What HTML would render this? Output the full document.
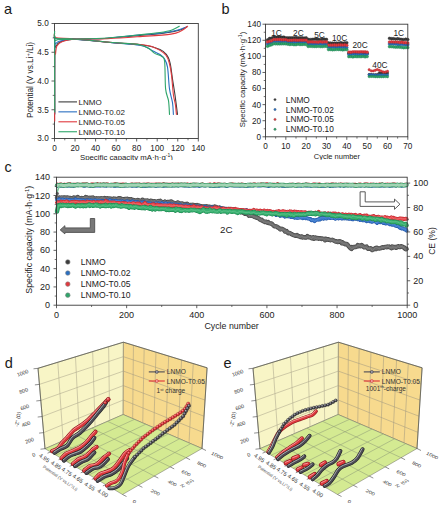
<!DOCTYPE html><html><head><meta charset="utf-8"><style>
html,body{margin:0;padding:0;background:#fff;width:443px;height:509px;overflow:hidden}
svg text{font-family:"Liberation Sans", sans-serif}
</style></head><body>
<svg width="443" height="509" viewBox="0 0 443 509" style="position:absolute;left:0;top:0;font-family:'Liberation Sans', sans-serif"><defs><radialGradient id="gR" cx="0.35" cy="0.35" r="0.7"><stop offset="0" stop-color="#ff9a9a"/><stop offset="0.5" stop-color="#e0383d"/><stop offset="1" stop-color="#a01e22"/></radialGradient><radialGradient id="gK" cx="0.35" cy="0.35" r="0.7"><stop offset="0" stop-color="#b8b8c0"/><stop offset="0.5" stop-color="#55555e"/><stop offset="1" stop-color="#2a2a30"/></radialGradient><clipPath id="clipTop"><rect x="0" y="0" width="443" height="160"/></clipPath></defs><text x="4.00" y="13.60" font-size="14.5" text-anchor="start" fill="#1a1a1a" >a</text><rect x="54.5" y="23.5" width="143.8" height="115.0" fill="none" stroke="#3a3a3a" stroke-width="0.9"/><path d="M54.70,36.00 C54.83,36.37 52.95,37.70 55.50,38.20 C58.05,38.70 64.25,38.63 70.00,39.00 C75.75,39.37 83.28,39.82 90.00,40.40 C96.72,40.98 103.52,41.92 110.30,42.50 C117.08,43.08 125.62,43.52 130.70,43.90 C135.78,44.28 137.08,44.28 140.80,44.80 C144.52,45.32 149.27,45.90 153.00,47.00 C156.73,48.10 160.65,49.65 163.20,51.40 C165.75,53.15 167.08,55.23 168.30,57.50 C169.52,59.77 169.80,61.42 170.50,65.00 C171.20,68.58 171.75,74.00 172.50,79.00 C173.25,84.00 174.17,89.10 175.00,95.00 C175.83,100.90 177.08,111.17 177.50,114.40" stroke="#3c3c3c" stroke-width="1.1" fill="none" stroke-linejoin="round" stroke-linecap="round" /><path d="M54.70,36.00 C54.83,36.42 52.95,38.00 55.50,38.50 C58.05,39.00 64.25,38.68 70.00,39.00 C75.75,39.32 83.28,39.82 90.00,40.40 C96.72,40.98 103.52,41.87 110.30,42.50 C117.08,43.13 125.62,43.70 130.70,44.20 C135.78,44.70 138.08,44.97 140.80,45.50 C143.52,46.03 144.97,46.48 147.00,47.40 C149.03,48.32 150.83,49.82 153.00,51.00 C155.17,52.18 158.13,53.25 160.00,54.50 C161.87,55.75 162.95,56.38 164.20,58.50 C165.45,60.62 166.62,62.13 167.50,67.20 C168.38,72.27 168.67,83.00 169.50,88.90 C170.33,94.80 171.85,98.35 172.50,102.60 C173.15,106.85 173.25,112.43 173.40,114.40" stroke="#2a6fc0" stroke-width="1.1" fill="none" stroke-linejoin="round" stroke-linecap="round" /><path d="M54.70,33.00 C54.83,33.75 52.95,36.58 55.50,37.50 C58.05,38.42 64.25,38.05 70.00,38.50 C75.75,38.95 83.28,39.57 90.00,40.20 C96.72,40.83 103.52,41.72 110.30,42.30 C117.08,42.88 125.62,43.32 130.70,43.70 C135.78,44.08 137.42,44.17 140.80,44.60 C144.18,45.03 147.80,45.33 151.00,46.30 C154.20,47.27 157.47,48.87 160.00,50.40 C162.53,51.93 164.65,53.40 166.20,55.50 C167.75,57.60 168.42,59.73 169.30,63.00 C170.18,66.27 170.82,69.80 171.50,75.10 C172.18,80.40 172.75,89.88 173.40,94.80 C174.05,99.72 174.90,101.33 175.40,104.60 C175.90,107.87 176.23,112.77 176.40,114.40" stroke="#e0393e" stroke-width="1.1" fill="none" stroke-linejoin="round" stroke-linecap="round" /><path d="M54.70,31.40 C54.83,32.53 52.95,36.97 55.50,38.20 C58.05,39.43 64.25,38.47 70.00,38.80 C75.75,39.13 83.28,39.62 90.00,40.20 C96.72,40.78 103.52,41.72 110.30,42.30 C117.08,42.88 125.62,43.25 130.70,43.70 C135.78,44.15 137.77,44.20 140.80,45.00 C143.83,45.80 146.57,47.10 148.90,48.50 C151.23,49.90 152.68,52.08 154.80,53.40 C156.92,54.72 159.97,55.08 161.60,56.40 C163.23,57.72 163.93,55.88 164.60,61.30 C165.27,66.72 164.95,82.33 165.60,88.90 C166.25,95.47 167.85,96.45 168.50,100.70 C169.15,104.95 169.33,112.12 169.50,114.40" stroke="#2ea56a" stroke-width="1.1" fill="none" stroke-linejoin="round" stroke-linecap="round" /><path d="M54.70,114.00 C54.70,103.17 54.57,60.13 54.70,49.00 C54.83,37.87 54.62,48.37 55.50,47.20 C56.38,46.03 56.93,43.32 60.00,42.00 C63.07,40.68 65.95,39.93 73.90,39.30 C81.85,38.67 96.68,38.83 107.70,38.20 C118.72,37.57 130.45,36.37 140.00,35.50 C149.55,34.63 158.33,33.92 165.00,33.00 C171.67,32.08 176.37,31.02 180.00,30.00 C183.63,28.98 185.67,27.42 186.80,26.90" stroke="#3c3c3c" stroke-width="1.1" fill="none" stroke-linejoin="round" stroke-linecap="round" /><path d="M54.70,114.00 C54.70,102.67 54.57,57.68 54.70,46.00 C54.83,34.32 54.62,44.73 55.50,43.90 C56.38,43.07 56.93,41.77 60.00,41.00 C63.07,40.23 65.95,39.77 73.90,39.30 C81.85,38.83 96.68,38.95 107.70,38.20 C118.72,37.45 130.95,35.67 140.00,34.80 C149.05,33.93 155.67,33.80 162.00,33.00 C168.33,32.20 173.97,31.02 178.00,30.00 C182.03,28.98 184.83,27.42 186.20,26.90" stroke="#2a6fc0" stroke-width="1.1" fill="none" stroke-linejoin="round" stroke-linecap="round" /><path d="M54.70,121.00 C54.70,110.17 54.57,67.17 54.70,56.00 C54.83,44.83 55.13,55.65 55.50,54.00 C55.87,52.35 55.72,48.17 56.90,46.10 C58.08,44.03 59.77,42.73 62.60,41.60 C65.43,40.47 66.38,39.80 73.90,39.30 C81.42,38.80 96.68,39.05 107.70,38.60 C118.72,38.15 129.45,37.35 140.00,36.60 C150.55,35.85 164.17,35.03 171.00,34.10 C177.83,33.17 178.23,32.30 181.00,31.00 C183.77,29.70 186.50,27.08 187.60,26.30" stroke="#e0393e" stroke-width="1.1" fill="none" stroke-linejoin="round" stroke-linecap="round" /><path d="M54.70,112.00 C54.70,100.33 54.57,53.92 54.70,42.00 C54.83,30.08 54.62,40.92 55.50,40.50 C56.38,40.08 56.93,39.70 60.00,39.50 C63.07,39.30 65.95,39.55 73.90,39.30 C81.85,39.05 96.68,38.75 107.70,38.00 C118.72,37.25 131.28,35.72 140.00,34.80 C148.72,33.88 154.67,33.30 160.00,32.50 C165.33,31.70 168.78,31.03 172.00,30.00 C175.22,28.97 178.08,26.92 179.30,26.30" stroke="#2ea56a" stroke-width="1.1" fill="none" stroke-linejoin="round" stroke-linecap="round" /><line x1="51.50" y1="138.50" x2="54.50" y2="138.50" stroke="#3a3a3a" stroke-width="0.8"/><text x="48.70" y="141.40" font-size="8.2" text-anchor="end" fill="#222" >3.0</text><line x1="51.50" y1="109.75" x2="54.50" y2="109.75" stroke="#3a3a3a" stroke-width="0.8"/><text x="48.70" y="112.65" font-size="8.2" text-anchor="end" fill="#222" >3.5</text><line x1="51.50" y1="81.00" x2="54.50" y2="81.00" stroke="#3a3a3a" stroke-width="0.8"/><text x="48.70" y="83.90" font-size="8.2" text-anchor="end" fill="#222" >4.0</text><line x1="51.50" y1="52.25" x2="54.50" y2="52.25" stroke="#3a3a3a" stroke-width="0.8"/><text x="48.70" y="55.15" font-size="8.2" text-anchor="end" fill="#222" >4.5</text><line x1="51.50" y1="23.50" x2="54.50" y2="23.50" stroke="#3a3a3a" stroke-width="0.8"/><text x="48.70" y="26.40" font-size="8.2" text-anchor="end" fill="#222" >5.0</text><line x1="52.70" y1="124.12" x2="54.50" y2="124.12" stroke="#3a3a3a" stroke-width="0.7"/><line x1="52.70" y1="95.38" x2="54.50" y2="95.38" stroke="#3a3a3a" stroke-width="0.7"/><line x1="52.70" y1="66.62" x2="54.50" y2="66.62" stroke="#3a3a3a" stroke-width="0.7"/><line x1="52.70" y1="37.88" x2="54.50" y2="37.88" stroke="#3a3a3a" stroke-width="0.7"/><line x1="54.50" y1="138.50" x2="54.50" y2="141.50" stroke="#3a3a3a" stroke-width="0.8"/><text x="54.50" y="150.50" font-size="8.2" text-anchor="middle" fill="#222" >0</text><line x1="75.04" y1="138.50" x2="75.04" y2="141.50" stroke="#3a3a3a" stroke-width="0.8"/><text x="75.04" y="150.50" font-size="8.2" text-anchor="middle" fill="#222" >20</text><line x1="95.59" y1="138.50" x2="95.59" y2="141.50" stroke="#3a3a3a" stroke-width="0.8"/><text x="95.59" y="150.50" font-size="8.2" text-anchor="middle" fill="#222" >40</text><line x1="116.13" y1="138.50" x2="116.13" y2="141.50" stroke="#3a3a3a" stroke-width="0.8"/><text x="116.13" y="150.50" font-size="8.2" text-anchor="middle" fill="#222" >60</text><line x1="136.67" y1="138.50" x2="136.67" y2="141.50" stroke="#3a3a3a" stroke-width="0.8"/><text x="136.67" y="150.50" font-size="8.2" text-anchor="middle" fill="#222" >80</text><line x1="157.21" y1="138.50" x2="157.21" y2="141.50" stroke="#3a3a3a" stroke-width="0.8"/><text x="157.21" y="150.50" font-size="8.2" text-anchor="middle" fill="#222" >100</text><line x1="177.76" y1="138.50" x2="177.76" y2="141.50" stroke="#3a3a3a" stroke-width="0.8"/><text x="177.76" y="150.50" font-size="8.2" text-anchor="middle" fill="#222" >120</text><line x1="198.30" y1="138.50" x2="198.30" y2="141.50" stroke="#3a3a3a" stroke-width="0.8"/><text x="198.30" y="150.50" font-size="8.2" text-anchor="middle" fill="#222" >140</text><line x1="64.77" y1="138.50" x2="64.77" y2="140.30" stroke="#3a3a3a" stroke-width="0.7"/><line x1="85.31" y1="138.50" x2="85.31" y2="140.30" stroke="#3a3a3a" stroke-width="0.7"/><line x1="105.86" y1="138.50" x2="105.86" y2="140.30" stroke="#3a3a3a" stroke-width="0.7"/><line x1="126.40" y1="138.50" x2="126.40" y2="140.30" stroke="#3a3a3a" stroke-width="0.7"/><line x1="146.94" y1="138.50" x2="146.94" y2="140.30" stroke="#3a3a3a" stroke-width="0.7"/><line x1="167.49" y1="138.50" x2="167.49" y2="140.30" stroke="#3a3a3a" stroke-width="0.7"/><line x1="188.03" y1="138.50" x2="188.03" y2="140.30" stroke="#3a3a3a" stroke-width="0.7"/><text x="80.00" y="159.80" font-size="7.8" text-anchor="start" fill="#222" clip-path="url(#clipTop)">Specific capacity mA·h·g<tspan font-size="5" dy="-2.8">-1</tspan><tspan dy="2.8">)</tspan></text><text transform="translate(33,80) rotate(-90)" font-size="8.2" text-anchor="middle" fill="#222">Potential (V vs.Li<tspan font-size="5.5" dy="-3">+</tspan><tspan dy="3">/Li)</tspan></text><line x1="58.40" y1="101.90" x2="77.00" y2="101.90" stroke="#3c3c3c" stroke-width="1.1"/><text x="78.60" y="104.80" font-size="8.0" text-anchor="start" fill="#222" >LNMO</text><line x1="58.40" y1="111.85" x2="77.00" y2="111.85" stroke="#2a6fc0" stroke-width="1.1"/><text x="78.60" y="114.75" font-size="8.0" text-anchor="start" fill="#222" >LNMO-T0.02</text><line x1="58.40" y1="121.80" x2="77.00" y2="121.80" stroke="#e0393e" stroke-width="1.1"/><text x="78.60" y="124.70" font-size="8.0" text-anchor="start" fill="#222" >LNMO-T0.05</text><line x1="58.40" y1="131.75" x2="77.00" y2="131.75" stroke="#2ea56a" stroke-width="1.1"/><text x="78.60" y="134.65" font-size="8.0" text-anchor="start" fill="#222" >LNMO-T0.10</text><text x="221.50" y="14.00" font-size="14.5" text-anchor="start" fill="#1a1a1a" >b</text><circle cx="267.53" cy="40.01" r="1.4" fill="#3c3c3c" stroke="#222" stroke-width="0.4"/><circle cx="269.57" cy="38.52" r="1.4" fill="#3c3c3c" stroke="#222" stroke-width="0.4"/><circle cx="271.60" cy="38.16" r="1.4" fill="#3c3c3c" stroke="#222" stroke-width="0.4"/><circle cx="273.63" cy="37.21" r="1.4" fill="#3c3c3c" stroke="#222" stroke-width="0.4"/><circle cx="275.66" cy="37.23" r="1.4" fill="#3c3c3c" stroke="#222" stroke-width="0.4"/><circle cx="277.70" cy="37.27" r="1.4" fill="#3c3c3c" stroke="#222" stroke-width="0.4"/><circle cx="279.73" cy="37.00" r="1.4" fill="#3c3c3c" stroke="#222" stroke-width="0.4"/><circle cx="281.76" cy="37.27" r="1.4" fill="#3c3c3c" stroke="#222" stroke-width="0.4"/><circle cx="283.80" cy="37.17" r="1.4" fill="#3c3c3c" stroke="#222" stroke-width="0.4"/><circle cx="285.83" cy="37.80" r="1.4" fill="#3c3c3c" stroke="#222" stroke-width="0.4"/><circle cx="287.86" cy="37.93" r="1.4" fill="#3c3c3c" stroke="#222" stroke-width="0.4"/><circle cx="289.89" cy="37.85" r="1.4" fill="#3c3c3c" stroke="#222" stroke-width="0.4"/><circle cx="291.93" cy="37.86" r="1.4" fill="#3c3c3c" stroke="#222" stroke-width="0.4"/><circle cx="293.96" cy="37.80" r="1.4" fill="#3c3c3c" stroke="#222" stroke-width="0.4"/><circle cx="295.99" cy="37.74" r="1.4" fill="#3c3c3c" stroke="#222" stroke-width="0.4"/><circle cx="298.03" cy="37.84" r="1.4" fill="#3c3c3c" stroke="#222" stroke-width="0.4"/><circle cx="300.06" cy="37.97" r="1.4" fill="#3c3c3c" stroke="#222" stroke-width="0.4"/><circle cx="302.09" cy="37.86" r="1.4" fill="#3c3c3c" stroke="#222" stroke-width="0.4"/><circle cx="304.12" cy="38.04" r="1.4" fill="#3c3c3c" stroke="#222" stroke-width="0.4"/><circle cx="306.16" cy="37.87" r="1.4" fill="#3c3c3c" stroke="#222" stroke-width="0.4"/><circle cx="308.19" cy="39.30" r="1.4" fill="#3c3c3c" stroke="#222" stroke-width="0.4"/><circle cx="310.22" cy="39.53" r="1.4" fill="#3c3c3c" stroke="#222" stroke-width="0.4"/><circle cx="312.26" cy="39.38" r="1.4" fill="#3c3c3c" stroke="#222" stroke-width="0.4"/><circle cx="314.29" cy="39.22" r="1.4" fill="#3c3c3c" stroke="#222" stroke-width="0.4"/><circle cx="316.32" cy="39.27" r="1.4" fill="#3c3c3c" stroke="#222" stroke-width="0.4"/><circle cx="318.35" cy="39.38" r="1.4" fill="#3c3c3c" stroke="#222" stroke-width="0.4"/><circle cx="320.39" cy="39.59" r="1.4" fill="#3c3c3c" stroke="#222" stroke-width="0.4"/><circle cx="322.42" cy="39.26" r="1.4" fill="#3c3c3c" stroke="#222" stroke-width="0.4"/><circle cx="324.45" cy="39.26" r="1.4" fill="#3c3c3c" stroke="#222" stroke-width="0.4"/><circle cx="326.49" cy="39.45" r="1.4" fill="#3c3c3c" stroke="#222" stroke-width="0.4"/><circle cx="328.52" cy="42.97" r="1.4" fill="#3c3c3c" stroke="#222" stroke-width="0.4"/><circle cx="330.55" cy="43.06" r="1.4" fill="#3c3c3c" stroke="#222" stroke-width="0.4"/><circle cx="332.58" cy="43.23" r="1.4" fill="#3c3c3c" stroke="#222" stroke-width="0.4"/><circle cx="334.62" cy="43.19" r="1.4" fill="#3c3c3c" stroke="#222" stroke-width="0.4"/><circle cx="336.65" cy="43.11" r="1.4" fill="#3c3c3c" stroke="#222" stroke-width="0.4"/><circle cx="338.68" cy="43.20" r="1.4" fill="#3c3c3c" stroke="#222" stroke-width="0.4"/><circle cx="340.72" cy="42.68" r="1.4" fill="#3c3c3c" stroke="#222" stroke-width="0.4"/><circle cx="342.75" cy="43.25" r="1.4" fill="#3c3c3c" stroke="#222" stroke-width="0.4"/><circle cx="344.78" cy="42.96" r="1.4" fill="#3c3c3c" stroke="#222" stroke-width="0.4"/><circle cx="346.81" cy="42.85" r="1.4" fill="#3c3c3c" stroke="#222" stroke-width="0.4"/><circle cx="348.85" cy="53.24" r="1.4" fill="#3c3c3c" stroke="#222" stroke-width="0.4"/><circle cx="350.88" cy="53.31" r="1.4" fill="#3c3c3c" stroke="#222" stroke-width="0.4"/><circle cx="352.91" cy="53.13" r="1.4" fill="#3c3c3c" stroke="#222" stroke-width="0.4"/><circle cx="354.95" cy="53.04" r="1.4" fill="#3c3c3c" stroke="#222" stroke-width="0.4"/><circle cx="356.98" cy="53.20" r="1.4" fill="#3c3c3c" stroke="#222" stroke-width="0.4"/><circle cx="359.01" cy="53.19" r="1.4" fill="#3c3c3c" stroke="#222" stroke-width="0.4"/><circle cx="361.04" cy="53.41" r="1.4" fill="#3c3c3c" stroke="#222" stroke-width="0.4"/><circle cx="363.08" cy="53.31" r="1.4" fill="#3c3c3c" stroke="#222" stroke-width="0.4"/><circle cx="365.11" cy="53.23" r="1.4" fill="#3c3c3c" stroke="#222" stroke-width="0.4"/><circle cx="367.14" cy="53.37" r="1.4" fill="#3c3c3c" stroke="#222" stroke-width="0.4"/><circle cx="369.18" cy="74.57" r="1.2" fill="#3c3c3c" stroke="#222" stroke-width="0.4"/><circle cx="371.21" cy="74.46" r="1.2" fill="#3c3c3c" stroke="#222" stroke-width="0.4"/><circle cx="373.24" cy="74.69" r="1.2" fill="#3c3c3c" stroke="#222" stroke-width="0.4"/><circle cx="375.27" cy="74.69" r="1.2" fill="#3c3c3c" stroke="#222" stroke-width="0.4"/><circle cx="377.31" cy="74.57" r="1.2" fill="#3c3c3c" stroke="#222" stroke-width="0.4"/><circle cx="379.34" cy="72.88" r="1.2" fill="#3c3c3c" stroke="#222" stroke-width="0.4"/><circle cx="381.37" cy="73.03" r="1.2" fill="#3c3c3c" stroke="#222" stroke-width="0.4"/><circle cx="383.41" cy="72.63" r="1.2" fill="#3c3c3c" stroke="#222" stroke-width="0.4"/><circle cx="385.44" cy="73.10" r="1.2" fill="#3c3c3c" stroke="#222" stroke-width="0.4"/><circle cx="387.47" cy="73.07" r="1.2" fill="#3c3c3c" stroke="#222" stroke-width="0.4"/><circle cx="389.50" cy="38.35" r="1.4" fill="#3c3c3c" stroke="#222" stroke-width="0.4"/><circle cx="391.54" cy="38.73" r="1.4" fill="#3c3c3c" stroke="#222" stroke-width="0.4"/><circle cx="393.57" cy="38.70" r="1.4" fill="#3c3c3c" stroke="#222" stroke-width="0.4"/><circle cx="395.60" cy="39.07" r="1.4" fill="#3c3c3c" stroke="#222" stroke-width="0.4"/><circle cx="397.64" cy="38.77" r="1.4" fill="#3c3c3c" stroke="#222" stroke-width="0.4"/><circle cx="399.67" cy="39.06" r="1.4" fill="#3c3c3c" stroke="#222" stroke-width="0.4"/><circle cx="401.70" cy="39.43" r="1.4" fill="#3c3c3c" stroke="#222" stroke-width="0.4"/><circle cx="403.73" cy="39.61" r="1.4" fill="#3c3c3c" stroke="#222" stroke-width="0.4"/><circle cx="405.77" cy="39.24" r="1.4" fill="#3c3c3c" stroke="#222" stroke-width="0.4"/><circle cx="407.80" cy="39.61" r="1.4" fill="#3c3c3c" stroke="#222" stroke-width="0.4"/><circle cx="267.53" cy="43.95" r="1.4" fill="#2a6fc0" stroke="#1d4f8f" stroke-width="0.4"/><circle cx="269.57" cy="43.01" r="1.4" fill="#2a6fc0" stroke="#1d4f8f" stroke-width="0.4"/><circle cx="271.60" cy="42.54" r="1.4" fill="#2a6fc0" stroke="#1d4f8f" stroke-width="0.4"/><circle cx="273.63" cy="41.32" r="1.4" fill="#2a6fc0" stroke="#1d4f8f" stroke-width="0.4"/><circle cx="275.66" cy="41.55" r="1.4" fill="#2a6fc0" stroke="#1d4f8f" stroke-width="0.4"/><circle cx="277.70" cy="41.34" r="1.4" fill="#2a6fc0" stroke="#1d4f8f" stroke-width="0.4"/><circle cx="279.73" cy="41.71" r="1.4" fill="#2a6fc0" stroke="#1d4f8f" stroke-width="0.4"/><circle cx="281.76" cy="41.50" r="1.4" fill="#2a6fc0" stroke="#1d4f8f" stroke-width="0.4"/><circle cx="283.80" cy="41.44" r="1.4" fill="#2a6fc0" stroke="#1d4f8f" stroke-width="0.4"/><circle cx="285.83" cy="41.24" r="1.4" fill="#2a6fc0" stroke="#1d4f8f" stroke-width="0.4"/><circle cx="287.86" cy="42.35" r="1.4" fill="#2a6fc0" stroke="#1d4f8f" stroke-width="0.4"/><circle cx="289.89" cy="42.21" r="1.4" fill="#2a6fc0" stroke="#1d4f8f" stroke-width="0.4"/><circle cx="291.93" cy="42.21" r="1.4" fill="#2a6fc0" stroke="#1d4f8f" stroke-width="0.4"/><circle cx="293.96" cy="42.27" r="1.4" fill="#2a6fc0" stroke="#1d4f8f" stroke-width="0.4"/><circle cx="295.99" cy="42.15" r="1.4" fill="#2a6fc0" stroke="#1d4f8f" stroke-width="0.4"/><circle cx="298.03" cy="42.00" r="1.4" fill="#2a6fc0" stroke="#1d4f8f" stroke-width="0.4"/><circle cx="300.06" cy="41.98" r="1.4" fill="#2a6fc0" stroke="#1d4f8f" stroke-width="0.4"/><circle cx="302.09" cy="41.98" r="1.4" fill="#2a6fc0" stroke="#1d4f8f" stroke-width="0.4"/><circle cx="304.12" cy="42.31" r="1.4" fill="#2a6fc0" stroke="#1d4f8f" stroke-width="0.4"/><circle cx="306.16" cy="41.88" r="1.4" fill="#2a6fc0" stroke="#1d4f8f" stroke-width="0.4"/><circle cx="308.19" cy="44.01" r="1.4" fill="#2a6fc0" stroke="#1d4f8f" stroke-width="0.4"/><circle cx="310.22" cy="44.05" r="1.4" fill="#2a6fc0" stroke="#1d4f8f" stroke-width="0.4"/><circle cx="312.26" cy="44.13" r="1.4" fill="#2a6fc0" stroke="#1d4f8f" stroke-width="0.4"/><circle cx="314.29" cy="44.19" r="1.4" fill="#2a6fc0" stroke="#1d4f8f" stroke-width="0.4"/><circle cx="316.32" cy="43.91" r="1.4" fill="#2a6fc0" stroke="#1d4f8f" stroke-width="0.4"/><circle cx="318.35" cy="43.84" r="1.4" fill="#2a6fc0" stroke="#1d4f8f" stroke-width="0.4"/><circle cx="320.39" cy="44.10" r="1.4" fill="#2a6fc0" stroke="#1d4f8f" stroke-width="0.4"/><circle cx="322.42" cy="44.28" r="1.4" fill="#2a6fc0" stroke="#1d4f8f" stroke-width="0.4"/><circle cx="324.45" cy="44.21" r="1.4" fill="#2a6fc0" stroke="#1d4f8f" stroke-width="0.4"/><circle cx="326.49" cy="44.13" r="1.4" fill="#2a6fc0" stroke="#1d4f8f" stroke-width="0.4"/><circle cx="328.52" cy="47.15" r="1.4" fill="#2a6fc0" stroke="#1d4f8f" stroke-width="0.4"/><circle cx="330.55" cy="47.24" r="1.4" fill="#2a6fc0" stroke="#1d4f8f" stroke-width="0.4"/><circle cx="332.58" cy="47.16" r="1.4" fill="#2a6fc0" stroke="#1d4f8f" stroke-width="0.4"/><circle cx="334.62" cy="47.32" r="1.4" fill="#2a6fc0" stroke="#1d4f8f" stroke-width="0.4"/><circle cx="336.65" cy="47.08" r="1.4" fill="#2a6fc0" stroke="#1d4f8f" stroke-width="0.4"/><circle cx="338.68" cy="47.22" r="1.4" fill="#2a6fc0" stroke="#1d4f8f" stroke-width="0.4"/><circle cx="340.72" cy="47.18" r="1.4" fill="#2a6fc0" stroke="#1d4f8f" stroke-width="0.4"/><circle cx="342.75" cy="47.28" r="1.4" fill="#2a6fc0" stroke="#1d4f8f" stroke-width="0.4"/><circle cx="344.78" cy="47.23" r="1.4" fill="#2a6fc0" stroke="#1d4f8f" stroke-width="0.4"/><circle cx="346.81" cy="47.58" r="1.4" fill="#2a6fc0" stroke="#1d4f8f" stroke-width="0.4"/><circle cx="348.85" cy="54.62" r="1.4" fill="#2a6fc0" stroke="#1d4f8f" stroke-width="0.4"/><circle cx="350.88" cy="54.62" r="1.4" fill="#2a6fc0" stroke="#1d4f8f" stroke-width="0.4"/><circle cx="352.91" cy="54.09" r="1.4" fill="#2a6fc0" stroke="#1d4f8f" stroke-width="0.4"/><circle cx="354.95" cy="54.35" r="1.4" fill="#2a6fc0" stroke="#1d4f8f" stroke-width="0.4"/><circle cx="356.98" cy="54.31" r="1.4" fill="#2a6fc0" stroke="#1d4f8f" stroke-width="0.4"/><circle cx="359.01" cy="54.48" r="1.4" fill="#2a6fc0" stroke="#1d4f8f" stroke-width="0.4"/><circle cx="361.04" cy="54.06" r="1.4" fill="#2a6fc0" stroke="#1d4f8f" stroke-width="0.4"/><circle cx="363.08" cy="54.58" r="1.4" fill="#2a6fc0" stroke="#1d4f8f" stroke-width="0.4"/><circle cx="365.11" cy="54.56" r="1.4" fill="#2a6fc0" stroke="#1d4f8f" stroke-width="0.4"/><circle cx="367.14" cy="54.20" r="1.4" fill="#2a6fc0" stroke="#1d4f8f" stroke-width="0.4"/><circle cx="369.18" cy="74.75" r="1.2" fill="#2a6fc0" stroke="#1d4f8f" stroke-width="0.4"/><circle cx="371.21" cy="74.78" r="1.2" fill="#2a6fc0" stroke="#1d4f8f" stroke-width="0.4"/><circle cx="373.24" cy="74.91" r="1.2" fill="#2a6fc0" stroke="#1d4f8f" stroke-width="0.4"/><circle cx="375.27" cy="75.00" r="1.2" fill="#2a6fc0" stroke="#1d4f8f" stroke-width="0.4"/><circle cx="377.31" cy="75.21" r="1.2" fill="#2a6fc0" stroke="#1d4f8f" stroke-width="0.4"/><circle cx="379.34" cy="74.87" r="1.2" fill="#2a6fc0" stroke="#1d4f8f" stroke-width="0.4"/><circle cx="381.37" cy="75.02" r="1.2" fill="#2a6fc0" stroke="#1d4f8f" stroke-width="0.4"/><circle cx="383.41" cy="74.92" r="1.2" fill="#2a6fc0" stroke="#1d4f8f" stroke-width="0.4"/><circle cx="385.44" cy="75.16" r="1.2" fill="#2a6fc0" stroke="#1d4f8f" stroke-width="0.4"/><circle cx="387.47" cy="75.01" r="1.2" fill="#2a6fc0" stroke="#1d4f8f" stroke-width="0.4"/><circle cx="389.50" cy="44.01" r="1.4" fill="#2a6fc0" stroke="#1d4f8f" stroke-width="0.4"/><circle cx="391.54" cy="43.76" r="1.4" fill="#2a6fc0" stroke="#1d4f8f" stroke-width="0.4"/><circle cx="393.57" cy="44.01" r="1.4" fill="#2a6fc0" stroke="#1d4f8f" stroke-width="0.4"/><circle cx="395.60" cy="44.04" r="1.4" fill="#2a6fc0" stroke="#1d4f8f" stroke-width="0.4"/><circle cx="397.64" cy="44.51" r="1.4" fill="#2a6fc0" stroke="#1d4f8f" stroke-width="0.4"/><circle cx="399.67" cy="44.50" r="1.4" fill="#2a6fc0" stroke="#1d4f8f" stroke-width="0.4"/><circle cx="401.70" cy="44.47" r="1.4" fill="#2a6fc0" stroke="#1d4f8f" stroke-width="0.4"/><circle cx="403.73" cy="44.57" r="1.4" fill="#2a6fc0" stroke="#1d4f8f" stroke-width="0.4"/><circle cx="405.77" cy="44.83" r="1.4" fill="#2a6fc0" stroke="#1d4f8f" stroke-width="0.4"/><circle cx="407.80" cy="44.77" r="1.4" fill="#2a6fc0" stroke="#1d4f8f" stroke-width="0.4"/><circle cx="267.53" cy="41.96" r="1.4" fill="#e0393e" stroke="#a82529" stroke-width="0.4"/><circle cx="269.57" cy="41.37" r="1.4" fill="#e0393e" stroke="#a82529" stroke-width="0.4"/><circle cx="271.60" cy="40.87" r="1.4" fill="#e0393e" stroke="#a82529" stroke-width="0.4"/><circle cx="273.63" cy="39.66" r="1.4" fill="#e0393e" stroke="#a82529" stroke-width="0.4"/><circle cx="275.66" cy="39.62" r="1.4" fill="#e0393e" stroke="#a82529" stroke-width="0.4"/><circle cx="277.70" cy="39.52" r="1.4" fill="#e0393e" stroke="#a82529" stroke-width="0.4"/><circle cx="279.73" cy="39.50" r="1.4" fill="#e0393e" stroke="#a82529" stroke-width="0.4"/><circle cx="281.76" cy="39.78" r="1.4" fill="#e0393e" stroke="#a82529" stroke-width="0.4"/><circle cx="283.80" cy="39.83" r="1.4" fill="#e0393e" stroke="#a82529" stroke-width="0.4"/><circle cx="285.83" cy="39.70" r="1.4" fill="#e0393e" stroke="#a82529" stroke-width="0.4"/><circle cx="287.86" cy="40.35" r="1.4" fill="#e0393e" stroke="#a82529" stroke-width="0.4"/><circle cx="289.89" cy="40.32" r="1.4" fill="#e0393e" stroke="#a82529" stroke-width="0.4"/><circle cx="291.93" cy="40.32" r="1.4" fill="#e0393e" stroke="#a82529" stroke-width="0.4"/><circle cx="293.96" cy="40.07" r="1.4" fill="#e0393e" stroke="#a82529" stroke-width="0.4"/><circle cx="295.99" cy="40.23" r="1.4" fill="#e0393e" stroke="#a82529" stroke-width="0.4"/><circle cx="298.03" cy="40.32" r="1.4" fill="#e0393e" stroke="#a82529" stroke-width="0.4"/><circle cx="300.06" cy="40.18" r="1.4" fill="#e0393e" stroke="#a82529" stroke-width="0.4"/><circle cx="302.09" cy="40.23" r="1.4" fill="#e0393e" stroke="#a82529" stroke-width="0.4"/><circle cx="304.12" cy="40.18" r="1.4" fill="#e0393e" stroke="#a82529" stroke-width="0.4"/><circle cx="306.16" cy="40.25" r="1.4" fill="#e0393e" stroke="#a82529" stroke-width="0.4"/><circle cx="308.19" cy="42.13" r="1.4" fill="#e0393e" stroke="#a82529" stroke-width="0.4"/><circle cx="310.22" cy="41.94" r="1.4" fill="#e0393e" stroke="#a82529" stroke-width="0.4"/><circle cx="312.26" cy="41.98" r="1.4" fill="#e0393e" stroke="#a82529" stroke-width="0.4"/><circle cx="314.29" cy="42.12" r="1.4" fill="#e0393e" stroke="#a82529" stroke-width="0.4"/><circle cx="316.32" cy="42.10" r="1.4" fill="#e0393e" stroke="#a82529" stroke-width="0.4"/><circle cx="318.35" cy="42.25" r="1.4" fill="#e0393e" stroke="#a82529" stroke-width="0.4"/><circle cx="320.39" cy="41.69" r="1.4" fill="#e0393e" stroke="#a82529" stroke-width="0.4"/><circle cx="322.42" cy="42.13" r="1.4" fill="#e0393e" stroke="#a82529" stroke-width="0.4"/><circle cx="324.45" cy="41.93" r="1.4" fill="#e0393e" stroke="#a82529" stroke-width="0.4"/><circle cx="326.49" cy="42.02" r="1.4" fill="#e0393e" stroke="#a82529" stroke-width="0.4"/><circle cx="328.52" cy="45.13" r="1.4" fill="#e0393e" stroke="#a82529" stroke-width="0.4"/><circle cx="330.55" cy="45.16" r="1.4" fill="#e0393e" stroke="#a82529" stroke-width="0.4"/><circle cx="332.58" cy="45.16" r="1.4" fill="#e0393e" stroke="#a82529" stroke-width="0.4"/><circle cx="334.62" cy="45.02" r="1.4" fill="#e0393e" stroke="#a82529" stroke-width="0.4"/><circle cx="336.65" cy="45.24" r="1.4" fill="#e0393e" stroke="#a82529" stroke-width="0.4"/><circle cx="338.68" cy="44.96" r="1.4" fill="#e0393e" stroke="#a82529" stroke-width="0.4"/><circle cx="340.72" cy="44.98" r="1.4" fill="#e0393e" stroke="#a82529" stroke-width="0.4"/><circle cx="342.75" cy="45.12" r="1.4" fill="#e0393e" stroke="#a82529" stroke-width="0.4"/><circle cx="344.78" cy="44.92" r="1.4" fill="#e0393e" stroke="#a82529" stroke-width="0.4"/><circle cx="346.81" cy="45.32" r="1.4" fill="#e0393e" stroke="#a82529" stroke-width="0.4"/><circle cx="348.85" cy="52.05" r="1.4" fill="#e0393e" stroke="#a82529" stroke-width="0.4"/><circle cx="350.88" cy="52.23" r="1.4" fill="#e0393e" stroke="#a82529" stroke-width="0.4"/><circle cx="352.91" cy="51.90" r="1.4" fill="#e0393e" stroke="#a82529" stroke-width="0.4"/><circle cx="354.95" cy="51.84" r="1.4" fill="#e0393e" stroke="#a82529" stroke-width="0.4"/><circle cx="356.98" cy="51.93" r="1.4" fill="#e0393e" stroke="#a82529" stroke-width="0.4"/><circle cx="359.01" cy="52.01" r="1.4" fill="#e0393e" stroke="#a82529" stroke-width="0.4"/><circle cx="361.04" cy="51.81" r="1.4" fill="#e0393e" stroke="#a82529" stroke-width="0.4"/><circle cx="363.08" cy="51.96" r="1.4" fill="#e0393e" stroke="#a82529" stroke-width="0.4"/><circle cx="365.11" cy="51.90" r="1.4" fill="#e0393e" stroke="#a82529" stroke-width="0.4"/><circle cx="367.14" cy="52.14" r="1.4" fill="#e0393e" stroke="#a82529" stroke-width="0.4"/><circle cx="369.18" cy="69.75" r="1.2" fill="#e0393e" stroke="#a82529" stroke-width="0.4"/><circle cx="371.21" cy="70.84" r="1.2" fill="#e0393e" stroke="#a82529" stroke-width="0.4"/><circle cx="373.24" cy="70.89" r="1.2" fill="#e0393e" stroke="#a82529" stroke-width="0.4"/><circle cx="375.27" cy="70.28" r="1.2" fill="#e0393e" stroke="#a82529" stroke-width="0.4"/><circle cx="377.31" cy="69.51" r="1.2" fill="#e0393e" stroke="#a82529" stroke-width="0.4"/><circle cx="379.34" cy="70.27" r="1.2" fill="#e0393e" stroke="#a82529" stroke-width="0.4"/><circle cx="381.37" cy="71.12" r="1.2" fill="#e0393e" stroke="#a82529" stroke-width="0.4"/><circle cx="383.41" cy="72.01" r="1.2" fill="#e0393e" stroke="#a82529" stroke-width="0.4"/><circle cx="385.44" cy="71.93" r="1.2" fill="#e0393e" stroke="#a82529" stroke-width="0.4"/><circle cx="387.47" cy="71.27" r="1.2" fill="#e0393e" stroke="#a82529" stroke-width="0.4"/><circle cx="389.50" cy="42.04" r="1.4" fill="#e0393e" stroke="#a82529" stroke-width="0.4"/><circle cx="391.54" cy="41.96" r="1.4" fill="#e0393e" stroke="#a82529" stroke-width="0.4"/><circle cx="393.57" cy="42.07" r="1.4" fill="#e0393e" stroke="#a82529" stroke-width="0.4"/><circle cx="395.60" cy="42.12" r="1.4" fill="#e0393e" stroke="#a82529" stroke-width="0.4"/><circle cx="397.64" cy="42.04" r="1.4" fill="#e0393e" stroke="#a82529" stroke-width="0.4"/><circle cx="399.67" cy="42.51" r="1.4" fill="#e0393e" stroke="#a82529" stroke-width="0.4"/><circle cx="401.70" cy="42.26" r="1.4" fill="#e0393e" stroke="#a82529" stroke-width="0.4"/><circle cx="403.73" cy="42.74" r="1.4" fill="#e0393e" stroke="#a82529" stroke-width="0.4"/><circle cx="405.77" cy="42.76" r="1.4" fill="#e0393e" stroke="#a82529" stroke-width="0.4"/><circle cx="407.80" cy="43.05" r="1.4" fill="#e0393e" stroke="#a82529" stroke-width="0.4"/><circle cx="267.53" cy="46.29" r="1.4" fill="#2ea56a" stroke="#1f7a4c" stroke-width="0.4"/><circle cx="269.57" cy="45.38" r="1.4" fill="#2ea56a" stroke="#1f7a4c" stroke-width="0.4"/><circle cx="271.60" cy="44.75" r="1.4" fill="#2ea56a" stroke="#1f7a4c" stroke-width="0.4"/><circle cx="273.63" cy="43.82" r="1.4" fill="#2ea56a" stroke="#1f7a4c" stroke-width="0.4"/><circle cx="275.66" cy="43.87" r="1.4" fill="#2ea56a" stroke="#1f7a4c" stroke-width="0.4"/><circle cx="277.70" cy="43.91" r="1.4" fill="#2ea56a" stroke="#1f7a4c" stroke-width="0.4"/><circle cx="279.73" cy="43.88" r="1.4" fill="#2ea56a" stroke="#1f7a4c" stroke-width="0.4"/><circle cx="281.76" cy="43.87" r="1.4" fill="#2ea56a" stroke="#1f7a4c" stroke-width="0.4"/><circle cx="283.80" cy="43.78" r="1.4" fill="#2ea56a" stroke="#1f7a4c" stroke-width="0.4"/><circle cx="285.83" cy="43.87" r="1.4" fill="#2ea56a" stroke="#1f7a4c" stroke-width="0.4"/><circle cx="287.86" cy="44.18" r="1.4" fill="#2ea56a" stroke="#1f7a4c" stroke-width="0.4"/><circle cx="289.89" cy="44.48" r="1.4" fill="#2ea56a" stroke="#1f7a4c" stroke-width="0.4"/><circle cx="291.93" cy="44.32" r="1.4" fill="#2ea56a" stroke="#1f7a4c" stroke-width="0.4"/><circle cx="293.96" cy="44.67" r="1.4" fill="#2ea56a" stroke="#1f7a4c" stroke-width="0.4"/><circle cx="295.99" cy="44.69" r="1.4" fill="#2ea56a" stroke="#1f7a4c" stroke-width="0.4"/><circle cx="298.03" cy="44.21" r="1.4" fill="#2ea56a" stroke="#1f7a4c" stroke-width="0.4"/><circle cx="300.06" cy="44.52" r="1.4" fill="#2ea56a" stroke="#1f7a4c" stroke-width="0.4"/><circle cx="302.09" cy="44.48" r="1.4" fill="#2ea56a" stroke="#1f7a4c" stroke-width="0.4"/><circle cx="304.12" cy="44.34" r="1.4" fill="#2ea56a" stroke="#1f7a4c" stroke-width="0.4"/><circle cx="306.16" cy="44.58" r="1.4" fill="#2ea56a" stroke="#1f7a4c" stroke-width="0.4"/><circle cx="308.19" cy="46.43" r="1.4" fill="#2ea56a" stroke="#1f7a4c" stroke-width="0.4"/><circle cx="310.22" cy="46.23" r="1.4" fill="#2ea56a" stroke="#1f7a4c" stroke-width="0.4"/><circle cx="312.26" cy="46.46" r="1.4" fill="#2ea56a" stroke="#1f7a4c" stroke-width="0.4"/><circle cx="314.29" cy="46.48" r="1.4" fill="#2ea56a" stroke="#1f7a4c" stroke-width="0.4"/><circle cx="316.32" cy="46.52" r="1.4" fill="#2ea56a" stroke="#1f7a4c" stroke-width="0.4"/><circle cx="318.35" cy="46.32" r="1.4" fill="#2ea56a" stroke="#1f7a4c" stroke-width="0.4"/><circle cx="320.39" cy="46.59" r="1.4" fill="#2ea56a" stroke="#1f7a4c" stroke-width="0.4"/><circle cx="322.42" cy="46.61" r="1.4" fill="#2ea56a" stroke="#1f7a4c" stroke-width="0.4"/><circle cx="324.45" cy="46.33" r="1.4" fill="#2ea56a" stroke="#1f7a4c" stroke-width="0.4"/><circle cx="326.49" cy="46.40" r="1.4" fill="#2ea56a" stroke="#1f7a4c" stroke-width="0.4"/><circle cx="328.52" cy="49.59" r="1.4" fill="#2ea56a" stroke="#1f7a4c" stroke-width="0.4"/><circle cx="330.55" cy="49.52" r="1.4" fill="#2ea56a" stroke="#1f7a4c" stroke-width="0.4"/><circle cx="332.58" cy="49.86" r="1.4" fill="#2ea56a" stroke="#1f7a4c" stroke-width="0.4"/><circle cx="334.62" cy="49.63" r="1.4" fill="#2ea56a" stroke="#1f7a4c" stroke-width="0.4"/><circle cx="336.65" cy="49.45" r="1.4" fill="#2ea56a" stroke="#1f7a4c" stroke-width="0.4"/><circle cx="338.68" cy="49.48" r="1.4" fill="#2ea56a" stroke="#1f7a4c" stroke-width="0.4"/><circle cx="340.72" cy="49.59" r="1.4" fill="#2ea56a" stroke="#1f7a4c" stroke-width="0.4"/><circle cx="342.75" cy="49.94" r="1.4" fill="#2ea56a" stroke="#1f7a4c" stroke-width="0.4"/><circle cx="344.78" cy="49.57" r="1.4" fill="#2ea56a" stroke="#1f7a4c" stroke-width="0.4"/><circle cx="346.81" cy="49.62" r="1.4" fill="#2ea56a" stroke="#1f7a4c" stroke-width="0.4"/><circle cx="348.85" cy="56.68" r="1.4" fill="#2ea56a" stroke="#1f7a4c" stroke-width="0.4"/><circle cx="350.88" cy="56.59" r="1.4" fill="#2ea56a" stroke="#1f7a4c" stroke-width="0.4"/><circle cx="352.91" cy="56.94" r="1.4" fill="#2ea56a" stroke="#1f7a4c" stroke-width="0.4"/><circle cx="354.95" cy="56.52" r="1.4" fill="#2ea56a" stroke="#1f7a4c" stroke-width="0.4"/><circle cx="356.98" cy="56.71" r="1.4" fill="#2ea56a" stroke="#1f7a4c" stroke-width="0.4"/><circle cx="359.01" cy="56.62" r="1.4" fill="#2ea56a" stroke="#1f7a4c" stroke-width="0.4"/><circle cx="361.04" cy="56.69" r="1.4" fill="#2ea56a" stroke="#1f7a4c" stroke-width="0.4"/><circle cx="363.08" cy="56.42" r="1.4" fill="#2ea56a" stroke="#1f7a4c" stroke-width="0.4"/><circle cx="365.11" cy="56.87" r="1.4" fill="#2ea56a" stroke="#1f7a4c" stroke-width="0.4"/><circle cx="367.14" cy="56.58" r="1.4" fill="#2ea56a" stroke="#1f7a4c" stroke-width="0.4"/><circle cx="369.18" cy="76.61" r="1.2" fill="#2ea56a" stroke="#1f7a4c" stroke-width="0.4"/><circle cx="371.21" cy="76.46" r="1.2" fill="#2ea56a" stroke="#1f7a4c" stroke-width="0.4"/><circle cx="373.24" cy="76.49" r="1.2" fill="#2ea56a" stroke="#1f7a4c" stroke-width="0.4"/><circle cx="375.27" cy="76.68" r="1.2" fill="#2ea56a" stroke="#1f7a4c" stroke-width="0.4"/><circle cx="377.31" cy="76.75" r="1.2" fill="#2ea56a" stroke="#1f7a4c" stroke-width="0.4"/><circle cx="379.34" cy="76.71" r="1.2" fill="#2ea56a" stroke="#1f7a4c" stroke-width="0.4"/><circle cx="381.37" cy="76.78" r="1.2" fill="#2ea56a" stroke="#1f7a4c" stroke-width="0.4"/><circle cx="383.41" cy="76.71" r="1.2" fill="#2ea56a" stroke="#1f7a4c" stroke-width="0.4"/><circle cx="385.44" cy="76.60" r="1.2" fill="#2ea56a" stroke="#1f7a4c" stroke-width="0.4"/><circle cx="387.47" cy="76.73" r="1.2" fill="#2ea56a" stroke="#1f7a4c" stroke-width="0.4"/><circle cx="389.50" cy="46.69" r="1.4" fill="#2ea56a" stroke="#1f7a4c" stroke-width="0.4"/><circle cx="391.54" cy="46.70" r="1.4" fill="#2ea56a" stroke="#1f7a4c" stroke-width="0.4"/><circle cx="393.57" cy="46.95" r="1.4" fill="#2ea56a" stroke="#1f7a4c" stroke-width="0.4"/><circle cx="395.60" cy="47.15" r="1.4" fill="#2ea56a" stroke="#1f7a4c" stroke-width="0.4"/><circle cx="397.64" cy="47.12" r="1.4" fill="#2ea56a" stroke="#1f7a4c" stroke-width="0.4"/><circle cx="399.67" cy="47.15" r="1.4" fill="#2ea56a" stroke="#1f7a4c" stroke-width="0.4"/><circle cx="401.70" cy="47.43" r="1.4" fill="#2ea56a" stroke="#1f7a4c" stroke-width="0.4"/><circle cx="403.73" cy="47.73" r="1.4" fill="#2ea56a" stroke="#1f7a4c" stroke-width="0.4"/><circle cx="405.77" cy="47.53" r="1.4" fill="#2ea56a" stroke="#1f7a4c" stroke-width="0.4"/><circle cx="407.80" cy="47.67" r="1.4" fill="#2ea56a" stroke="#1f7a4c" stroke-width="0.4"/><rect x="265.5" y="24.2" width="142.3" height="112.60000000000001" fill="none" stroke="#3a3a3a" stroke-width="0.9"/><line x1="262.50" y1="136.80" x2="265.50" y2="136.80" stroke="#3a3a3a" stroke-width="0.8"/><text x="261.00" y="139.70" font-size="8.2" text-anchor="end" fill="#222" >0</text><line x1="262.50" y1="120.71" x2="265.50" y2="120.71" stroke="#3a3a3a" stroke-width="0.8"/><text x="261.00" y="123.61" font-size="8.2" text-anchor="end" fill="#222" >20</text><line x1="262.50" y1="104.63" x2="265.50" y2="104.63" stroke="#3a3a3a" stroke-width="0.8"/><text x="261.00" y="107.53" font-size="8.2" text-anchor="end" fill="#222" >40</text><line x1="262.50" y1="88.54" x2="265.50" y2="88.54" stroke="#3a3a3a" stroke-width="0.8"/><text x="261.00" y="91.44" font-size="8.2" text-anchor="end" fill="#222" >60</text><line x1="262.50" y1="72.46" x2="265.50" y2="72.46" stroke="#3a3a3a" stroke-width="0.8"/><text x="261.00" y="75.36" font-size="8.2" text-anchor="end" fill="#222" >80</text><line x1="262.50" y1="56.37" x2="265.50" y2="56.37" stroke="#3a3a3a" stroke-width="0.8"/><text x="261.00" y="59.27" font-size="8.2" text-anchor="end" fill="#222" >100</text><line x1="262.50" y1="40.29" x2="265.50" y2="40.29" stroke="#3a3a3a" stroke-width="0.8"/><text x="261.00" y="43.19" font-size="8.2" text-anchor="end" fill="#222" >120</text><line x1="262.50" y1="24.20" x2="265.50" y2="24.20" stroke="#3a3a3a" stroke-width="0.8"/><text x="261.00" y="27.10" font-size="8.2" text-anchor="end" fill="#222" >140</text><line x1="263.70" y1="128.76" x2="265.50" y2="128.76" stroke="#3a3a3a" stroke-width="0.7"/><line x1="263.70" y1="112.67" x2="265.50" y2="112.67" stroke="#3a3a3a" stroke-width="0.7"/><line x1="263.70" y1="96.59" x2="265.50" y2="96.59" stroke="#3a3a3a" stroke-width="0.7"/><line x1="263.70" y1="80.50" x2="265.50" y2="80.50" stroke="#3a3a3a" stroke-width="0.7"/><line x1="263.70" y1="64.41" x2="265.50" y2="64.41" stroke="#3a3a3a" stroke-width="0.7"/><line x1="263.70" y1="48.33" x2="265.50" y2="48.33" stroke="#3a3a3a" stroke-width="0.7"/><line x1="263.70" y1="32.24" x2="265.50" y2="32.24" stroke="#3a3a3a" stroke-width="0.7"/><line x1="265.50" y1="136.80" x2="265.50" y2="139.80" stroke="#3a3a3a" stroke-width="0.8"/><text x="265.50" y="149.30" font-size="8.2" text-anchor="middle" fill="#222" >0</text><line x1="285.83" y1="136.80" x2="285.83" y2="139.80" stroke="#3a3a3a" stroke-width="0.8"/><text x="285.83" y="149.30" font-size="8.2" text-anchor="middle" fill="#222" >10</text><line x1="306.16" y1="136.80" x2="306.16" y2="139.80" stroke="#3a3a3a" stroke-width="0.8"/><text x="306.16" y="149.30" font-size="8.2" text-anchor="middle" fill="#222" >20</text><line x1="326.49" y1="136.80" x2="326.49" y2="139.80" stroke="#3a3a3a" stroke-width="0.8"/><text x="326.49" y="149.30" font-size="8.2" text-anchor="middle" fill="#222" >30</text><line x1="346.81" y1="136.80" x2="346.81" y2="139.80" stroke="#3a3a3a" stroke-width="0.8"/><text x="346.81" y="149.30" font-size="8.2" text-anchor="middle" fill="#222" >40</text><line x1="367.14" y1="136.80" x2="367.14" y2="139.80" stroke="#3a3a3a" stroke-width="0.8"/><text x="367.14" y="149.30" font-size="8.2" text-anchor="middle" fill="#222" >50</text><line x1="387.47" y1="136.80" x2="387.47" y2="139.80" stroke="#3a3a3a" stroke-width="0.8"/><text x="387.47" y="149.30" font-size="8.2" text-anchor="middle" fill="#222" >60</text><line x1="407.80" y1="136.80" x2="407.80" y2="139.80" stroke="#3a3a3a" stroke-width="0.8"/><text x="407.80" y="149.30" font-size="8.2" text-anchor="middle" fill="#222" >70</text><line x1="275.66" y1="136.80" x2="275.66" y2="138.60" stroke="#3a3a3a" stroke-width="0.7"/><line x1="295.99" y1="136.80" x2="295.99" y2="138.60" stroke="#3a3a3a" stroke-width="0.7"/><line x1="316.32" y1="136.80" x2="316.32" y2="138.60" stroke="#3a3a3a" stroke-width="0.7"/><line x1="336.65" y1="136.80" x2="336.65" y2="138.60" stroke="#3a3a3a" stroke-width="0.7"/><line x1="356.98" y1="136.80" x2="356.98" y2="138.60" stroke="#3a3a3a" stroke-width="0.7"/><line x1="377.31" y1="136.80" x2="377.31" y2="138.60" stroke="#3a3a3a" stroke-width="0.7"/><line x1="397.64" y1="136.80" x2="397.64" y2="138.60" stroke="#3a3a3a" stroke-width="0.7"/><text x="336.90" y="159.20" font-size="7.5" text-anchor="middle" fill="#222" clip-path="url(#clipTop)">Cycle number</text><text transform="translate(244.6,79.5) rotate(-90)" font-size="7.8" text-anchor="middle" fill="#222">Specific capacity (mA·h·g<tspan font-size="5.2" dy="-2.8">-1</tspan><tspan dy="2.8">)</tspan></text><text x="276.50" y="35.50" font-size="8.3" text-anchor="middle" fill="#222" >1C</text><text x="298.40" y="36.30" font-size="8.3" text-anchor="middle" fill="#222" >2C</text><text x="319.50" y="38.30" font-size="8.3" text-anchor="middle" fill="#222" >5C</text><text x="339.60" y="41.40" font-size="8.3" text-anchor="middle" fill="#222" >10C</text><text x="360.10" y="47.80" font-size="8.3" text-anchor="middle" fill="#222" >20C</text><text x="379.90" y="68.00" font-size="8.3" text-anchor="middle" fill="#222" >40C</text><text x="398.80" y="35.80" font-size="8.3" text-anchor="middle" fill="#222" >1C</text><circle cx="275" cy="99.60" r="1.2" fill="#3c3c3c" stroke="#666" stroke-width="0.3"/><text x="285.80" y="102.60" font-size="8.3" text-anchor="start" fill="#222" >LNMO</text><circle cx="275" cy="109.50" r="1.2" fill="#2a6fc0" stroke="#666" stroke-width="0.3"/><text x="285.80" y="112.50" font-size="8.3" text-anchor="start" fill="#222" >LNMO-T0.02</text><circle cx="275" cy="119.40" r="1.2" fill="#e0393e" stroke="#666" stroke-width="0.3"/><text x="285.80" y="122.40" font-size="8.3" text-anchor="start" fill="#222" >LNMO-T0.05</text><circle cx="275" cy="129.30" r="1.2" fill="#2ea56a" stroke="#666" stroke-width="0.3"/><text x="285.80" y="132.30" font-size="8.3" text-anchor="start" fill="#222" >LNMO-T0.10</text><text x="4.60" y="172.30" font-size="14.3" text-anchor="start" fill="#1a1a1a" >c</text><polyline points="57.00,184.50 58.50,184.57 60.00,184.43 61.50,184.28 63.00,184.39 64.50,184.25 66.00,184.52 67.50,184.84 69.00,184.38 70.50,184.34 72.00,184.62 73.50,184.59 75.00,184.53 76.50,184.27 78.00,184.49 79.50,184.67 81.00,184.16 82.50,184.39 84.00,184.02 85.50,184.18 87.00,184.04 88.50,184.44 90.00,184.18 91.50,184.57 93.00,184.54 94.50,184.45 96.00,183.87 97.50,184.37 99.00,184.49 100.50,184.53 102.00,184.12 103.50,184.38 105.00,184.26 106.50,184.30 108.00,184.77 109.50,184.30 111.00,184.49 112.50,184.72 114.00,184.35 115.50,184.47 117.00,184.53 118.50,184.52 120.00,184.19 121.50,184.52 123.00,184.84 124.50,184.11 126.00,184.71 127.50,184.53 129.00,184.34 130.50,185.00 132.00,184.69 133.50,184.20 135.00,184.52 136.50,184.64 138.00,184.45 139.50,184.67 141.00,184.48 142.50,184.67 144.00,184.86 145.50,184.33 147.00,184.55 148.50,184.38 150.00,184.53 151.50,184.20 153.00,184.36 154.50,184.45 156.00,184.72 157.50,184.79 159.00,184.17 160.50,184.30 162.00,184.66 163.50,184.00 165.00,184.38 166.50,184.48 168.00,184.81 169.50,184.67 171.00,184.42 172.50,184.41 174.00,184.44 175.50,184.88 177.00,184.39 178.50,184.42 180.00,184.59 181.50,184.47 183.00,184.45 184.50,184.22 186.00,184.50 187.50,184.39 189.00,184.79 190.50,184.66 192.00,184.49 193.50,184.67 195.00,184.42 196.50,184.76 198.00,184.50 199.50,184.65 201.00,184.18 202.50,184.59 204.00,184.08 205.50,183.99 207.00,184.42 208.50,184.28 210.00,184.54 211.50,185.06 213.00,184.29 214.50,184.34 216.00,184.55 217.50,184.62 219.00,184.46 220.50,184.45 222.00,184.68 223.50,184.63 225.00,184.24 226.50,184.48 228.00,184.51 229.50,184.24 231.00,184.56 232.50,184.29 234.00,184.74 235.50,184.55 237.00,184.52 238.50,184.35 240.00,184.47 241.50,184.00 243.00,184.22 244.50,184.59 246.00,183.97 247.50,184.71 249.00,184.06 250.50,184.69 252.00,184.29 253.50,184.69 255.00,184.53 256.50,184.12 258.00,184.81 259.50,184.86 261.00,184.48 262.50,184.43 264.00,184.46 265.50,184.26 267.00,184.77 268.50,184.36 270.00,184.49 271.50,184.30 273.00,184.34 274.50,184.18 276.00,184.81 277.50,184.46 279.00,184.74 280.50,184.50 282.00,184.33 283.50,184.42 285.00,184.36 286.50,184.50 288.00,184.41 289.50,184.43 291.00,184.16 292.50,184.30 294.00,184.91 295.50,184.33 297.00,184.24 298.50,184.58 300.00,184.85 301.50,184.14 303.00,184.45 304.50,184.34 306.00,184.06 307.50,184.68 309.00,184.49 310.50,184.52 312.00,184.31 313.50,184.61 315.00,184.37 316.50,184.46 318.00,184.22 319.50,184.20 321.00,184.83 322.50,184.37 324.00,184.57 325.50,184.49 327.00,184.39 328.50,184.37 330.00,184.66 331.50,184.42 333.00,184.46 334.50,184.51 336.00,184.79 337.50,184.67 339.00,184.60 340.50,184.36 342.00,184.15 343.50,184.74 345.00,184.74 346.50,184.46 348.00,184.64 349.50,184.70 351.00,184.71 352.50,184.73 354.00,184.39 355.50,184.88 357.00,184.19 358.50,184.72 360.00,184.62 361.50,184.72 363.00,184.97 364.50,184.87 366.00,184.21 367.50,184.08 369.00,184.70 370.50,184.25 372.00,184.50 373.50,184.71 375.00,184.09 376.50,183.97 378.00,184.56 379.50,184.51 381.00,184.44 382.50,184.51 384.00,184.28 385.50,184.12 387.00,184.46 388.50,184.26 390.00,184.09 391.50,184.63 393.00,184.48 394.50,184.60 396.00,184.25 397.50,184.34 399.00,184.25 400.50,184.28 402.00,184.55 403.50,184.30 405.00,184.59 406.50,184.58" stroke="#444" stroke-width="1.6" fill="none" stroke-linejoin="round" stroke-linecap="round" /><polyline points="57.00,184.50 58.50,184.57 60.00,184.43 61.50,184.28 63.00,184.39 64.50,184.25 66.00,184.52 67.50,184.84 69.00,184.38 70.50,184.34 72.00,184.62 73.50,184.59 75.00,184.53 76.50,184.27 78.00,184.49 79.50,184.67 81.00,184.16 82.50,184.39 84.00,184.02 85.50,184.18 87.00,184.04 88.50,184.44 90.00,184.18 91.50,184.57 93.00,184.54 94.50,184.45 96.00,183.87 97.50,184.37 99.00,184.49 100.50,184.53 102.00,184.12 103.50,184.38 105.00,184.26 106.50,184.30 108.00,184.77 109.50,184.30 111.00,184.49 112.50,184.72 114.00,184.35 115.50,184.47 117.00,184.53 118.50,184.52 120.00,184.19 121.50,184.52 123.00,184.84 124.50,184.11 126.00,184.71 127.50,184.53 129.00,184.34 130.50,185.00 132.00,184.69 133.50,184.20 135.00,184.52 136.50,184.64 138.00,184.45 139.50,184.67 141.00,184.48 142.50,184.67 144.00,184.86 145.50,184.33 147.00,184.55 148.50,184.38 150.00,184.53 151.50,184.20 153.00,184.36 154.50,184.45 156.00,184.72 157.50,184.79 159.00,184.17 160.50,184.30 162.00,184.66 163.50,184.00 165.00,184.38 166.50,184.48 168.00,184.81 169.50,184.67 171.00,184.42 172.50,184.41 174.00,184.44 175.50,184.88 177.00,184.39 178.50,184.42 180.00,184.59 181.50,184.47 183.00,184.45 184.50,184.22 186.00,184.50 187.50,184.39 189.00,184.79 190.50,184.66 192.00,184.49 193.50,184.67 195.00,184.42 196.50,184.76 198.00,184.50 199.50,184.65 201.00,184.18 202.50,184.59 204.00,184.08 205.50,183.99 207.00,184.42 208.50,184.28 210.00,184.54 211.50,185.06 213.00,184.29 214.50,184.34 216.00,184.55 217.50,184.62 219.00,184.46 220.50,184.45 222.00,184.68 223.50,184.63 225.00,184.24 226.50,184.48 228.00,184.51 229.50,184.24 231.00,184.56 232.50,184.29 234.00,184.74 235.50,184.55 237.00,184.52 238.50,184.35 240.00,184.47 241.50,184.00 243.00,184.22 244.50,184.59 246.00,183.97 247.50,184.71 249.00,184.06 250.50,184.69 252.00,184.29 253.50,184.69 255.00,184.53 256.50,184.12 258.00,184.81 259.50,184.86 261.00,184.48 262.50,184.43 264.00,184.46 265.50,184.26 267.00,184.77 268.50,184.36 270.00,184.49 271.50,184.30 273.00,184.34 274.50,184.18 276.00,184.81 277.50,184.46 279.00,184.74 280.50,184.50 282.00,184.33 283.50,184.42 285.00,184.36 286.50,184.50 288.00,184.41 289.50,184.43 291.00,184.16 292.50,184.30 294.00,184.91 295.50,184.33 297.00,184.24 298.50,184.58 300.00,184.85 301.50,184.14 303.00,184.45 304.50,184.34 306.00,184.06 307.50,184.68 309.00,184.49 310.50,184.52 312.00,184.31 313.50,184.61 315.00,184.37 316.50,184.46 318.00,184.22 319.50,184.20 321.00,184.83 322.50,184.37 324.00,184.57 325.50,184.49 327.00,184.39 328.50,184.37 330.00,184.66 331.50,184.42 333.00,184.46 334.50,184.51 336.00,184.79 337.50,184.67 339.00,184.60 340.50,184.36 342.00,184.15 343.50,184.74 345.00,184.74 346.50,184.46 348.00,184.64 349.50,184.70 351.00,184.71 352.50,184.73 354.00,184.39 355.50,184.88 357.00,184.19 358.50,184.72 360.00,184.62 361.50,184.72 363.00,184.97 364.50,184.87 366.00,184.21 367.50,184.08 369.00,184.70 370.50,184.25 372.00,184.50 373.50,184.71 375.00,184.09 376.50,183.97 378.00,184.56 379.50,184.51 381.00,184.44 382.50,184.51 384.00,184.28 385.50,184.12 387.00,184.46 388.50,184.26 390.00,184.09 391.50,184.63 393.00,184.48 394.50,184.60 396.00,184.25 397.50,184.34 399.00,184.25 400.50,184.28 402.00,184.55 403.50,184.30 405.00,184.59 406.50,184.58" stroke="#6c6c6c" stroke-width="0.30000000000000004" fill="none" stroke-linejoin="round" stroke-linecap="round" /><polyline points="57.00,187.11 58.50,186.25 60.00,186.82 61.50,186.58 63.00,186.60 64.50,186.24 66.00,186.48 67.50,186.79 69.00,186.58 70.50,186.62 72.00,186.53 73.50,186.89 75.00,186.59 76.50,186.05 78.00,186.43 79.50,186.11 81.00,185.79 82.50,186.47 84.00,186.93 85.50,186.61 87.00,186.31 88.50,186.36 90.00,186.88 91.50,186.64 93.00,186.61 94.50,186.59 96.00,186.61 97.50,186.80 99.00,186.74 100.50,186.65 102.00,186.34 103.50,186.73 105.00,186.43 106.50,186.87 108.00,186.28 109.50,186.57 111.00,186.60 112.50,186.27 114.00,187.03 115.50,186.97 117.00,186.48 118.50,186.79 120.00,186.69 121.50,185.95 123.00,186.66 124.50,186.58 126.00,186.62 127.50,186.33 129.00,186.53 130.50,186.56 132.00,186.90 133.50,186.68 135.00,186.60 136.50,186.98 138.00,186.46 139.50,186.50 141.00,186.15 142.50,186.99 144.00,186.84 145.50,186.83 147.00,186.77 148.50,186.63 150.00,186.65 151.50,186.54 153.00,186.55 154.50,186.61 156.00,186.98 157.50,186.74 159.00,186.59 160.50,186.46 162.00,186.44 163.50,187.00 165.00,186.73 166.50,186.62 168.00,186.51 169.50,186.32 171.00,186.58 172.50,186.82 174.00,186.50 175.50,186.54 177.00,186.54 178.50,186.63 180.00,186.20 181.50,186.54 183.00,186.39 184.50,186.82 186.00,186.41 187.50,186.74 189.00,186.98 190.50,186.52 192.00,186.45 193.50,186.65 195.00,186.60 196.50,186.35 198.00,186.72 199.50,187.10 201.00,186.54 202.50,186.55 204.00,186.34 205.50,186.68 207.00,186.29 208.50,186.32 210.00,186.92 211.50,186.37 213.00,186.87 214.50,186.98 216.00,186.66 217.50,186.74 219.00,187.09 220.50,186.55 222.00,186.45 223.50,186.26 225.00,186.61 226.50,186.97 228.00,186.84 229.50,186.36 231.00,186.39 232.50,186.47 234.00,186.67 235.50,186.55 237.00,186.65 238.50,186.67 240.00,186.53 241.50,186.59 243.00,186.65 244.50,186.58 246.00,186.73 247.50,187.07 249.00,186.75 250.50,186.61 252.00,186.18 253.50,186.70 255.00,186.11 256.50,186.25 258.00,186.81 259.50,186.78 261.00,186.56 262.50,186.17 264.00,186.51 265.50,186.43 267.00,186.76 268.50,187.16 270.00,186.65 271.50,186.41 273.00,186.31 274.50,186.59 276.00,186.56 277.50,186.31 279.00,186.63 280.50,186.31 282.00,186.88 283.50,186.87 285.00,186.87 286.50,186.48 288.00,186.73 289.50,186.57 291.00,186.50 292.50,186.52 294.00,186.28 295.50,186.24 297.00,186.80 298.50,186.55 300.00,186.65 301.50,186.85 303.00,186.17 304.50,186.40 306.00,186.64 307.50,186.70 309.00,186.51 310.50,186.86 312.00,186.65 313.50,186.30 315.00,186.37 316.50,186.80 318.00,186.72 319.50,186.13 321.00,186.94 322.50,186.75 324.00,186.94 325.50,186.50 327.00,186.53 328.50,186.32 330.00,187.23 331.50,186.56 333.00,187.00 334.50,186.44 336.00,186.64 337.50,186.18 339.00,186.50 340.50,186.85 342.00,186.29 343.50,186.87 345.00,186.68 346.50,186.34 348.00,186.47 349.50,186.49 351.00,186.59 352.50,186.47 354.00,186.39 355.50,186.52 357.00,186.34 358.50,186.28 360.00,186.59 361.50,186.82 363.00,186.22 364.50,186.60 366.00,186.44 367.50,186.36 369.00,186.81 370.50,186.47 372.00,186.97 373.50,186.41 375.00,186.70 376.50,186.54 378.00,186.41 379.50,186.75 381.00,186.56 382.50,186.75 384.00,186.59 385.50,186.33 387.00,186.57 388.50,186.61 390.00,186.84 391.50,186.37 393.00,186.59 394.50,186.17 396.00,186.76 397.50,186.33 399.00,186.15 400.50,186.59 402.00,186.88 403.50,186.22 405.00,186.33 406.50,186.41" stroke="#2458a8" stroke-width="1.6" fill="none" stroke-linejoin="round" stroke-linecap="round" /><polyline points="57.00,187.11 58.50,186.25 60.00,186.82 61.50,186.58 63.00,186.60 64.50,186.24 66.00,186.48 67.50,186.79 69.00,186.58 70.50,186.62 72.00,186.53 73.50,186.89 75.00,186.59 76.50,186.05 78.00,186.43 79.50,186.11 81.00,185.79 82.50,186.47 84.00,186.93 85.50,186.61 87.00,186.31 88.50,186.36 90.00,186.88 91.50,186.64 93.00,186.61 94.50,186.59 96.00,186.61 97.50,186.80 99.00,186.74 100.50,186.65 102.00,186.34 103.50,186.73 105.00,186.43 106.50,186.87 108.00,186.28 109.50,186.57 111.00,186.60 112.50,186.27 114.00,187.03 115.50,186.97 117.00,186.48 118.50,186.79 120.00,186.69 121.50,185.95 123.00,186.66 124.50,186.58 126.00,186.62 127.50,186.33 129.00,186.53 130.50,186.56 132.00,186.90 133.50,186.68 135.00,186.60 136.50,186.98 138.00,186.46 139.50,186.50 141.00,186.15 142.50,186.99 144.00,186.84 145.50,186.83 147.00,186.77 148.50,186.63 150.00,186.65 151.50,186.54 153.00,186.55 154.50,186.61 156.00,186.98 157.50,186.74 159.00,186.59 160.50,186.46 162.00,186.44 163.50,187.00 165.00,186.73 166.50,186.62 168.00,186.51 169.50,186.32 171.00,186.58 172.50,186.82 174.00,186.50 175.50,186.54 177.00,186.54 178.50,186.63 180.00,186.20 181.50,186.54 183.00,186.39 184.50,186.82 186.00,186.41 187.50,186.74 189.00,186.98 190.50,186.52 192.00,186.45 193.50,186.65 195.00,186.60 196.50,186.35 198.00,186.72 199.50,187.10 201.00,186.54 202.50,186.55 204.00,186.34 205.50,186.68 207.00,186.29 208.50,186.32 210.00,186.92 211.50,186.37 213.00,186.87 214.50,186.98 216.00,186.66 217.50,186.74 219.00,187.09 220.50,186.55 222.00,186.45 223.50,186.26 225.00,186.61 226.50,186.97 228.00,186.84 229.50,186.36 231.00,186.39 232.50,186.47 234.00,186.67 235.50,186.55 237.00,186.65 238.50,186.67 240.00,186.53 241.50,186.59 243.00,186.65 244.50,186.58 246.00,186.73 247.50,187.07 249.00,186.75 250.50,186.61 252.00,186.18 253.50,186.70 255.00,186.11 256.50,186.25 258.00,186.81 259.50,186.78 261.00,186.56 262.50,186.17 264.00,186.51 265.50,186.43 267.00,186.76 268.50,187.16 270.00,186.65 271.50,186.41 273.00,186.31 274.50,186.59 276.00,186.56 277.50,186.31 279.00,186.63 280.50,186.31 282.00,186.88 283.50,186.87 285.00,186.87 286.50,186.48 288.00,186.73 289.50,186.57 291.00,186.50 292.50,186.52 294.00,186.28 295.50,186.24 297.00,186.80 298.50,186.55 300.00,186.65 301.50,186.85 303.00,186.17 304.50,186.40 306.00,186.64 307.50,186.70 309.00,186.51 310.50,186.86 312.00,186.65 313.50,186.30 315.00,186.37 316.50,186.80 318.00,186.72 319.50,186.13 321.00,186.94 322.50,186.75 324.00,186.94 325.50,186.50 327.00,186.53 328.50,186.32 330.00,187.23 331.50,186.56 333.00,187.00 334.50,186.44 336.00,186.64 337.50,186.18 339.00,186.50 340.50,186.85 342.00,186.29 343.50,186.87 345.00,186.68 346.50,186.34 348.00,186.47 349.50,186.49 351.00,186.59 352.50,186.47 354.00,186.39 355.50,186.52 357.00,186.34 358.50,186.28 360.00,186.59 361.50,186.82 363.00,186.22 364.50,186.60 366.00,186.44 367.50,186.36 369.00,186.81 370.50,186.47 372.00,186.97 373.50,186.41 375.00,186.70 376.50,186.54 378.00,186.41 379.50,186.75 381.00,186.56 382.50,186.75 384.00,186.59 385.50,186.33 387.00,186.57 388.50,186.61 390.00,186.84 391.50,186.37 393.00,186.59 394.50,186.17 396.00,186.76 397.50,186.33 399.00,186.15 400.50,186.59 402.00,186.88 403.50,186.22 405.00,186.33 406.50,186.41" stroke="#3a78cc" stroke-width="0.30000000000000004" fill="none" stroke-linejoin="round" stroke-linecap="round" /><polyline points="57.00,183.32 58.50,183.69 60.00,183.40 61.50,183.42 63.00,183.75 64.50,183.41 66.00,183.71 67.50,183.36 69.00,183.30 70.50,183.14 72.00,184.07 73.50,183.52 75.00,183.66 76.50,183.59 78.00,183.64 79.50,183.61 81.00,184.08 82.50,183.34 84.00,183.21 85.50,183.35 87.00,183.27 88.50,183.79 90.00,183.81 91.50,183.36 93.00,183.25 94.50,183.51 96.00,183.95 97.50,182.90 99.00,183.73 100.50,183.33 102.00,183.86 103.50,183.33 105.00,183.53 106.50,183.22 108.00,183.36 109.50,183.95 111.00,183.81 112.50,183.50 114.00,183.38 115.50,183.13 117.00,183.50 118.50,183.59 120.00,183.58 121.50,183.58 123.00,183.32 124.50,183.58 126.00,183.59 127.50,183.92 129.00,184.07 130.50,183.57 132.00,183.41 133.50,183.58 135.00,183.45 136.50,183.41 138.00,183.59 139.50,183.34 141.00,183.75 142.50,183.57 144.00,183.66 145.50,183.55 147.00,183.42 148.50,183.36 150.00,183.54 151.50,183.46 153.00,183.66 154.50,183.60 156.00,183.26 157.50,183.62 159.00,183.26 160.50,183.45 162.00,183.53 163.50,183.08 165.00,183.62 166.50,183.64 168.00,183.56 169.50,183.49 171.00,183.51 172.50,183.36 174.00,183.53 175.50,183.46 177.00,183.62 178.50,183.30 180.00,183.66 181.50,183.64 183.00,183.56 184.50,183.49 186.00,183.74 187.50,183.18 189.00,183.72 190.50,183.66 192.00,183.67 193.50,183.70 195.00,183.44 196.50,183.54 198.00,183.76 199.50,183.71 201.00,183.65 202.50,183.22 204.00,183.73 205.50,183.89 207.00,183.85 208.50,183.66 210.00,183.21 211.50,183.84 213.00,183.56 214.50,182.97 216.00,183.69 217.50,183.23 219.00,183.28 220.50,183.44 222.00,183.92 223.50,183.51 225.00,183.67 226.50,184.04 228.00,184.00 229.50,183.57 231.00,183.54 232.50,183.28 234.00,183.43 235.50,183.71 237.00,183.70 238.50,183.63 240.00,183.85 241.50,183.41 243.00,183.59 244.50,183.78 246.00,183.75 247.50,183.87 249.00,183.70 250.50,183.52 252.00,183.69 253.50,183.35 255.00,183.19 256.50,183.75 258.00,183.59 259.50,183.68 261.00,183.18 262.50,183.51 264.00,183.45 265.50,183.38 267.00,183.04 268.50,183.52 270.00,183.82 271.50,183.70 273.00,183.45 274.50,183.60 276.00,183.79 277.50,182.91 279.00,183.57 280.50,183.74 282.00,183.77 283.50,184.03 285.00,183.88 286.50,183.68 288.00,183.68 289.50,183.80 291.00,183.47 292.50,183.59 294.00,183.83 295.50,184.09 297.00,183.56 298.50,183.59 300.00,183.65 301.50,183.94 303.00,183.59 304.50,183.97 306.00,183.36 307.50,183.55 309.00,183.55 310.50,183.80 312.00,183.86 313.50,183.22 315.00,183.37 316.50,183.68 318.00,183.44 319.50,183.22 321.00,183.86 322.50,183.72 324.00,183.72 325.50,183.48 327.00,183.86 328.50,183.54 330.00,183.87 331.50,183.37 333.00,183.39 334.50,183.65 336.00,183.42 337.50,183.77 339.00,183.67 340.50,183.37 342.00,183.62 343.50,183.51 345.00,183.83 346.50,183.44 348.00,183.49 349.50,183.90 351.00,184.16 352.50,184.10 354.00,183.62 355.50,183.65 357.00,183.98 358.50,183.57 360.00,183.36 361.50,183.63 363.00,183.71 364.50,183.39 366.00,183.19 367.50,183.24 369.00,183.77 370.50,183.41 372.00,183.56 373.50,183.65 375.00,183.75 376.50,183.52 378.00,183.72 379.50,183.38 381.00,183.51 382.50,183.34 384.00,183.88 385.50,183.59 387.00,183.42 388.50,183.51 390.00,183.54 391.50,183.78 393.00,183.20 394.50,183.34 396.00,183.51 397.50,184.23 399.00,183.84 400.50,183.57 402.00,183.78 403.50,184.11 405.00,183.54 406.50,183.51" stroke="#c42a30" stroke-width="1.6" fill="none" stroke-linejoin="round" stroke-linecap="round" /><polyline points="57.00,183.32 58.50,183.69 60.00,183.40 61.50,183.42 63.00,183.75 64.50,183.41 66.00,183.71 67.50,183.36 69.00,183.30 70.50,183.14 72.00,184.07 73.50,183.52 75.00,183.66 76.50,183.59 78.00,183.64 79.50,183.61 81.00,184.08 82.50,183.34 84.00,183.21 85.50,183.35 87.00,183.27 88.50,183.79 90.00,183.81 91.50,183.36 93.00,183.25 94.50,183.51 96.00,183.95 97.50,182.90 99.00,183.73 100.50,183.33 102.00,183.86 103.50,183.33 105.00,183.53 106.50,183.22 108.00,183.36 109.50,183.95 111.00,183.81 112.50,183.50 114.00,183.38 115.50,183.13 117.00,183.50 118.50,183.59 120.00,183.58 121.50,183.58 123.00,183.32 124.50,183.58 126.00,183.59 127.50,183.92 129.00,184.07 130.50,183.57 132.00,183.41 133.50,183.58 135.00,183.45 136.50,183.41 138.00,183.59 139.50,183.34 141.00,183.75 142.50,183.57 144.00,183.66 145.50,183.55 147.00,183.42 148.50,183.36 150.00,183.54 151.50,183.46 153.00,183.66 154.50,183.60 156.00,183.26 157.50,183.62 159.00,183.26 160.50,183.45 162.00,183.53 163.50,183.08 165.00,183.62 166.50,183.64 168.00,183.56 169.50,183.49 171.00,183.51 172.50,183.36 174.00,183.53 175.50,183.46 177.00,183.62 178.50,183.30 180.00,183.66 181.50,183.64 183.00,183.56 184.50,183.49 186.00,183.74 187.50,183.18 189.00,183.72 190.50,183.66 192.00,183.67 193.50,183.70 195.00,183.44 196.50,183.54 198.00,183.76 199.50,183.71 201.00,183.65 202.50,183.22 204.00,183.73 205.50,183.89 207.00,183.85 208.50,183.66 210.00,183.21 211.50,183.84 213.00,183.56 214.50,182.97 216.00,183.69 217.50,183.23 219.00,183.28 220.50,183.44 222.00,183.92 223.50,183.51 225.00,183.67 226.50,184.04 228.00,184.00 229.50,183.57 231.00,183.54 232.50,183.28 234.00,183.43 235.50,183.71 237.00,183.70 238.50,183.63 240.00,183.85 241.50,183.41 243.00,183.59 244.50,183.78 246.00,183.75 247.50,183.87 249.00,183.70 250.50,183.52 252.00,183.69 253.50,183.35 255.00,183.19 256.50,183.75 258.00,183.59 259.50,183.68 261.00,183.18 262.50,183.51 264.00,183.45 265.50,183.38 267.00,183.04 268.50,183.52 270.00,183.82 271.50,183.70 273.00,183.45 274.50,183.60 276.00,183.79 277.50,182.91 279.00,183.57 280.50,183.74 282.00,183.77 283.50,184.03 285.00,183.88 286.50,183.68 288.00,183.68 289.50,183.80 291.00,183.47 292.50,183.59 294.00,183.83 295.50,184.09 297.00,183.56 298.50,183.59 300.00,183.65 301.50,183.94 303.00,183.59 304.50,183.97 306.00,183.36 307.50,183.55 309.00,183.55 310.50,183.80 312.00,183.86 313.50,183.22 315.00,183.37 316.50,183.68 318.00,183.44 319.50,183.22 321.00,183.86 322.50,183.72 324.00,183.72 325.50,183.48 327.00,183.86 328.50,183.54 330.00,183.87 331.50,183.37 333.00,183.39 334.50,183.65 336.00,183.42 337.50,183.77 339.00,183.67 340.50,183.37 342.00,183.62 343.50,183.51 345.00,183.83 346.50,183.44 348.00,183.49 349.50,183.90 351.00,184.16 352.50,184.10 354.00,183.62 355.50,183.65 357.00,183.98 358.50,183.57 360.00,183.36 361.50,183.63 363.00,183.71 364.50,183.39 366.00,183.19 367.50,183.24 369.00,183.77 370.50,183.41 372.00,183.56 373.50,183.65 375.00,183.75 376.50,183.52 378.00,183.72 379.50,183.38 381.00,183.51 382.50,183.34 384.00,183.88 385.50,183.59 387.00,183.42 388.50,183.51 390.00,183.54 391.50,183.78 393.00,183.20 394.50,183.34 396.00,183.51 397.50,184.23 399.00,183.84 400.50,183.57 402.00,183.78 403.50,184.11 405.00,183.54 406.50,183.51" stroke="#e8474c" stroke-width="0.30000000000000004" fill="none" stroke-linejoin="round" stroke-linecap="round" /><polyline points="57.00,185.34 58.50,185.20 60.00,185.23 61.50,185.00 63.00,185.48 64.50,185.44 66.00,185.21 67.50,185.24 69.00,184.69 70.50,185.23 72.00,185.06 73.50,185.19 75.00,185.24 76.50,185.03 78.00,184.76 79.50,185.17 81.00,184.95 82.50,185.03 84.00,184.98 85.50,185.03 87.00,184.64 88.50,185.34 90.00,185.15 91.50,185.32 93.00,185.50 94.50,185.10 96.00,184.74 97.50,184.92 99.00,184.86 100.50,185.00 102.00,185.12 103.50,184.70 105.00,185.17 106.50,184.80 108.00,185.16 109.50,185.08 111.00,185.04 112.50,185.09 114.00,184.99 115.50,184.98 117.00,184.76 118.50,185.09 120.00,185.47 121.50,185.50 123.00,185.36 124.50,185.24 126.00,184.96 127.50,185.39 129.00,185.09 130.50,185.09 132.00,185.04 133.50,185.12 135.00,185.01 136.50,185.08 138.00,184.88 139.50,185.03 141.00,185.56 142.50,185.09 144.00,185.05 145.50,185.21 147.00,185.24 148.50,184.88 150.00,185.06 151.50,185.28 153.00,185.15 154.50,185.12 156.00,185.41 157.50,184.96 159.00,185.12 160.50,185.00 162.00,185.40 163.50,184.71 165.00,184.97 166.50,184.99 168.00,185.23 169.50,185.22 171.00,185.38 172.50,184.79 174.00,185.25 175.50,185.04 177.00,184.97 178.50,185.21 180.00,184.92 181.50,184.68 183.00,185.03 184.50,184.80 186.00,184.97 187.50,185.17 189.00,185.16 190.50,185.42 192.00,185.06 193.50,184.79 195.00,184.95 196.50,184.92 198.00,184.86 199.50,185.19 201.00,184.97 202.50,184.70 204.00,185.24 205.50,185.08 207.00,185.17 208.50,185.12 210.00,185.23 211.50,185.11 213.00,185.35 214.50,185.18 216.00,185.18 217.50,185.18 219.00,184.81 220.50,185.07 222.00,185.05 223.50,185.14 225.00,184.83 226.50,185.43 228.00,185.12 229.50,184.86 231.00,184.76 232.50,185.04 234.00,185.08 235.50,184.96 237.00,185.12 238.50,184.97 240.00,185.21 241.50,184.96 243.00,185.09 244.50,185.30 246.00,185.61 247.50,184.90 249.00,185.01 250.50,184.93 252.00,185.26 253.50,184.87 255.00,185.00 256.50,185.09 258.00,184.90 259.50,184.91 261.00,185.00 262.50,184.68 264.00,184.81 265.50,185.02 267.00,185.13 268.50,185.06 270.00,184.75 271.50,185.01 273.00,185.26 274.50,185.21 276.00,185.08 277.50,184.92 279.00,185.23 280.50,184.98 282.00,184.87 283.50,184.94 285.00,185.39 286.50,185.14 288.00,185.33 289.50,185.00 291.00,185.29 292.50,184.98 294.00,185.07 295.50,185.60 297.00,185.25 298.50,185.00 300.00,185.08 301.50,185.17 303.00,185.34 304.50,185.00 306.00,184.75 307.50,185.04 309.00,185.10 310.50,185.12 312.00,185.36 313.50,185.16 315.00,185.26 316.50,184.88 318.00,185.27 319.50,185.52 321.00,185.25 322.50,185.15 324.00,185.13 325.50,185.46 327.00,184.91 328.50,185.08 330.00,185.19 331.50,185.25 333.00,185.01 334.50,185.16 336.00,185.04 337.50,185.12 339.00,185.07 340.50,184.87 342.00,185.10 343.50,185.28 345.00,184.91 346.50,185.05 348.00,185.23 349.50,184.89 351.00,185.14 352.50,184.89 354.00,185.33 355.50,185.56 357.00,185.50 358.50,185.06 360.00,185.25 361.50,185.12 363.00,185.12 364.50,185.41 366.00,184.84 367.50,185.31 369.00,185.09 370.50,185.38 372.00,185.14 373.50,184.97 375.00,185.16 376.50,185.25 378.00,185.11 379.50,185.20 381.00,185.00 382.50,184.67 384.00,185.28 385.50,185.24 387.00,185.13 388.50,185.11 390.00,185.31 391.50,185.01 393.00,184.96 394.50,185.06 396.00,185.34 397.50,184.82 399.00,185.34 400.50,184.97 402.00,184.88 403.50,185.35 405.00,185.08 406.50,184.84" stroke="#1f8a52" stroke-width="4.4" fill="none" stroke-linejoin="round" stroke-linecap="round" /><polyline points="57.00,185.34 58.50,185.20 60.00,185.23 61.50,185.00 63.00,185.48 64.50,185.44 66.00,185.21 67.50,185.24 69.00,184.69 70.50,185.23 72.00,185.06 73.50,185.19 75.00,185.24 76.50,185.03 78.00,184.76 79.50,185.17 81.00,184.95 82.50,185.03 84.00,184.98 85.50,185.03 87.00,184.64 88.50,185.34 90.00,185.15 91.50,185.32 93.00,185.50 94.50,185.10 96.00,184.74 97.50,184.92 99.00,184.86 100.50,185.00 102.00,185.12 103.50,184.70 105.00,185.17 106.50,184.80 108.00,185.16 109.50,185.08 111.00,185.04 112.50,185.09 114.00,184.99 115.50,184.98 117.00,184.76 118.50,185.09 120.00,185.47 121.50,185.50 123.00,185.36 124.50,185.24 126.00,184.96 127.50,185.39 129.00,185.09 130.50,185.09 132.00,185.04 133.50,185.12 135.00,185.01 136.50,185.08 138.00,184.88 139.50,185.03 141.00,185.56 142.50,185.09 144.00,185.05 145.50,185.21 147.00,185.24 148.50,184.88 150.00,185.06 151.50,185.28 153.00,185.15 154.50,185.12 156.00,185.41 157.50,184.96 159.00,185.12 160.50,185.00 162.00,185.40 163.50,184.71 165.00,184.97 166.50,184.99 168.00,185.23 169.50,185.22 171.00,185.38 172.50,184.79 174.00,185.25 175.50,185.04 177.00,184.97 178.50,185.21 180.00,184.92 181.50,184.68 183.00,185.03 184.50,184.80 186.00,184.97 187.50,185.17 189.00,185.16 190.50,185.42 192.00,185.06 193.50,184.79 195.00,184.95 196.50,184.92 198.00,184.86 199.50,185.19 201.00,184.97 202.50,184.70 204.00,185.24 205.50,185.08 207.00,185.17 208.50,185.12 210.00,185.23 211.50,185.11 213.00,185.35 214.50,185.18 216.00,185.18 217.50,185.18 219.00,184.81 220.50,185.07 222.00,185.05 223.50,185.14 225.00,184.83 226.50,185.43 228.00,185.12 229.50,184.86 231.00,184.76 232.50,185.04 234.00,185.08 235.50,184.96 237.00,185.12 238.50,184.97 240.00,185.21 241.50,184.96 243.00,185.09 244.50,185.30 246.00,185.61 247.50,184.90 249.00,185.01 250.50,184.93 252.00,185.26 253.50,184.87 255.00,185.00 256.50,185.09 258.00,184.90 259.50,184.91 261.00,185.00 262.50,184.68 264.00,184.81 265.50,185.02 267.00,185.13 268.50,185.06 270.00,184.75 271.50,185.01 273.00,185.26 274.50,185.21 276.00,185.08 277.50,184.92 279.00,185.23 280.50,184.98 282.00,184.87 283.50,184.94 285.00,185.39 286.50,185.14 288.00,185.33 289.50,185.00 291.00,185.29 292.50,184.98 294.00,185.07 295.50,185.60 297.00,185.25 298.50,185.00 300.00,185.08 301.50,185.17 303.00,185.34 304.50,185.00 306.00,184.75 307.50,185.04 309.00,185.10 310.50,185.12 312.00,185.36 313.50,185.16 315.00,185.26 316.50,184.88 318.00,185.27 319.50,185.52 321.00,185.25 322.50,185.15 324.00,185.13 325.50,185.46 327.00,184.91 328.50,185.08 330.00,185.19 331.50,185.25 333.00,185.01 334.50,185.16 336.00,185.04 337.50,185.12 339.00,185.07 340.50,184.87 342.00,185.10 343.50,185.28 345.00,184.91 346.50,185.05 348.00,185.23 349.50,184.89 351.00,185.14 352.50,184.89 354.00,185.33 355.50,185.56 357.00,185.50 358.50,185.06 360.00,185.25 361.50,185.12 363.00,185.12 364.50,185.41 366.00,184.84 367.50,185.31 369.00,185.09 370.50,185.38 372.00,185.14 373.50,184.97 375.00,185.16 376.50,185.25 378.00,185.11 379.50,185.20 381.00,185.00 382.50,184.67 384.00,185.28 385.50,185.24 387.00,185.13 388.50,185.11 390.00,185.31 391.50,185.01 393.00,184.96 394.50,185.06 396.00,185.34 397.50,184.82 399.00,185.34 400.50,184.97 402.00,184.88 403.50,185.35 405.00,185.08 406.50,184.84" stroke="#a2d4b4" stroke-width="3.1000000000000005" fill="none" stroke-linejoin="round" stroke-linecap="round" /><polyline points="57.20,192.00 58.20,189.00 59.50,186.00" stroke="#7cc49a" stroke-width="1.6" fill="none" stroke-linejoin="round" stroke-linecap="round" /><polyline points="57.00,197.44 57.80,198.03 58.60,198.16 59.40,197.45 60.20,197.84 61.00,197.99 61.80,197.39 62.60,197.86 63.40,197.70 64.20,197.48 65.00,197.52 65.80,197.78 66.60,197.78 67.40,197.53 68.20,197.60 69.00,198.31 69.80,197.92 70.60,198.23 71.40,198.39 72.20,198.13 73.00,198.90 73.80,197.52 74.60,198.27 75.40,197.78 76.20,198.77 77.00,198.71 77.80,197.08 78.60,197.54 79.40,198.29 80.20,198.36 81.00,198.35 81.80,198.00 82.60,198.26 83.40,198.36 84.20,198.05 85.00,198.56 85.80,197.10 86.60,198.42 87.40,197.68 88.20,198.60 89.00,198.08 89.80,197.80 90.60,198.38 91.40,197.82 92.20,197.83 93.00,197.55 93.80,198.26 94.60,198.52 95.40,198.77 96.20,198.26 97.00,198.81 97.80,198.36 98.60,198.33 99.40,198.65 100.20,198.88 101.00,198.27 101.80,198.33 102.60,198.38 103.40,198.51 104.20,198.08 105.00,198.96 105.80,198.34 106.60,198.74 107.40,198.18 108.20,198.73 109.00,198.76 109.80,198.41 110.60,199.55 111.40,198.86 112.20,199.54 113.00,199.23 113.80,198.55 114.60,198.73 115.40,199.15 116.20,199.03 117.00,199.08 117.80,198.98 118.60,198.35 119.40,199.11 120.20,198.26 121.00,199.48 121.80,199.04 122.60,199.10 123.40,199.37 124.20,199.65 125.00,198.93 125.80,198.84 126.60,199.20 127.40,198.81 128.20,199.35 129.00,200.55 129.80,199.41 130.60,200.23 131.40,199.37 132.20,200.18 133.00,199.95 133.80,200.12 134.60,200.45 135.40,201.04 136.20,200.39 137.00,200.41 137.80,199.97 138.60,200.72 139.40,200.40 140.20,200.94 141.00,200.60 141.80,201.45 142.60,199.83 143.40,200.64 144.20,201.22 145.00,200.72 145.80,200.57 146.60,200.86 147.40,200.41 148.20,201.14 149.00,202.23 149.80,201.70 150.60,200.74 151.40,200.90 152.20,201.16 153.00,201.85 153.80,201.08 154.60,201.19 155.40,201.95 156.20,201.99 157.00,201.49 157.80,201.20 158.60,201.06 159.40,201.50 160.20,200.86 161.00,202.25 161.80,201.68 162.60,202.24 163.40,202.91 164.20,202.65 165.00,201.66 165.80,202.62 166.60,202.80 167.40,202.00 168.20,201.95 169.00,202.39 169.80,201.77 170.60,203.23 171.40,201.58 172.20,202.26 173.00,202.72 173.80,202.84 174.60,203.11 175.40,203.25 176.20,203.12 177.00,203.82 177.80,202.44 178.60,203.49 179.40,203.26 180.20,203.74 181.00,203.87 181.80,203.45 182.60,203.67 183.40,204.40 184.20,204.30 185.00,203.92 185.80,205.24 186.60,205.45 187.40,203.85 188.20,204.74 189.00,205.82 189.80,205.14 190.60,204.98 191.40,204.88 192.20,204.82 193.00,205.06 193.80,205.00 194.60,205.67 195.40,205.25 196.20,205.32 197.00,205.07 197.80,205.69 198.60,205.40 199.40,205.81 200.20,206.45 201.00,206.24 201.80,206.40 202.60,206.42 203.40,206.38 204.20,206.39 205.00,206.40 205.80,206.97 206.60,206.24 207.40,207.42 208.20,206.92 209.00,206.66 209.80,206.87 210.60,206.88 211.40,207.35 212.20,207.05 213.00,207.98 213.80,207.20 214.60,206.62 215.40,207.41 216.20,206.93 217.00,207.91 217.80,208.49 218.60,208.40 219.40,207.60 220.20,207.95 221.00,209.19 221.80,208.62 222.60,208.57 223.40,209.14 224.20,209.86 225.00,209.43 225.80,209.00 226.60,209.19 227.40,209.40 228.20,208.94 229.00,208.83 229.80,209.42 230.60,209.07 231.40,209.56 232.20,209.72 233.00,210.82 233.80,209.48 234.60,209.90 235.40,210.07 236.20,210.62 237.00,211.18 237.80,210.77 238.60,210.90 239.40,210.81 240.20,211.42 241.00,212.36 241.80,212.42 242.60,212.22 243.40,212.79 244.20,213.26 245.00,213.75 245.80,213.54 246.60,213.98 247.40,213.55 248.20,214.14 249.00,215.66 249.80,214.23 250.60,215.35 251.40,215.88 252.20,215.90 253.00,215.98 253.80,216.60 254.60,216.95 255.40,217.26 256.20,216.79 257.00,217.91 257.80,217.93 258.60,218.41 259.40,219.10 260.20,219.62 261.00,220.08 261.80,219.79 262.60,220.77 263.40,221.22 264.20,221.55 265.00,222.00 265.80,221.65 266.60,221.98 267.40,222.77 268.20,222.12 269.00,223.17 269.80,223.18 270.60,223.63 271.40,223.42 272.20,224.20 273.00,224.99 273.80,225.80 274.60,226.25 275.40,226.16 276.20,226.51 277.00,226.63 277.80,227.58 278.60,227.69 279.40,228.47 280.20,229.39 281.00,228.99 281.80,228.73 282.60,229.41 283.40,229.54 284.20,230.06 285.00,231.59 285.80,231.50 286.60,231.12 287.40,232.49 288.20,233.17 289.00,232.84 289.80,233.10 290.60,233.53 291.40,234.06 292.20,234.47 293.00,234.96 293.80,235.22 294.60,235.46 295.40,235.79 296.20,235.72 297.00,234.98 297.80,235.86 298.60,236.31 299.40,236.24 300.20,237.03 301.00,236.53 301.80,236.35 302.60,237.49 303.40,237.22 304.20,237.09 305.00,237.48 305.80,237.62 306.60,237.37 307.40,236.18 308.20,237.06 309.00,237.23 309.80,237.07 310.60,237.68 311.40,238.20 312.20,237.52 313.00,237.30 313.80,238.80 314.60,237.76 315.40,237.49 316.20,238.23 317.00,238.39 317.80,237.96 318.60,238.72 319.40,238.22 320.20,238.10 321.00,238.68 321.80,239.03 322.60,238.47 323.40,238.99 324.20,238.88 325.00,240.27 325.80,238.76 326.60,239.78 327.40,239.22 328.20,239.26 329.00,239.72 329.80,239.88 330.60,240.22 331.40,240.00 332.20,239.78 333.00,240.01 333.80,240.68 334.60,240.91 335.40,241.48 336.20,241.24 337.00,241.73 337.80,242.13 338.60,241.72 339.40,241.18 340.20,241.53 341.00,241.64 341.80,243.23 342.60,242.36 343.40,243.53 344.20,243.46 345.00,244.20 345.80,244.11 346.60,243.84 347.40,244.42 348.20,245.58 349.00,246.65 349.80,247.36 350.60,248.45 351.40,248.90 352.20,247.13 353.00,247.72 353.80,246.91 354.60,247.12 355.40,247.12 356.20,246.43 357.00,246.52 357.80,245.17 358.60,246.10 359.40,245.48 360.20,246.18 361.00,246.14 361.80,245.04 362.60,246.02 363.40,246.61 364.20,247.36 365.00,246.94 365.80,247.08 366.60,246.65 367.40,248.31 368.20,248.86 369.00,248.44 369.80,248.71 370.60,248.23 371.40,249.28 372.20,250.02 373.00,249.05 373.80,249.22 374.60,248.81 375.40,248.05 376.20,249.01 377.00,247.78 377.80,248.16 378.60,248.30 379.40,248.49 380.20,248.21 381.00,248.11 381.80,247.52 382.60,247.20 383.40,247.73 384.20,247.31 385.00,246.96 385.80,246.90 386.60,247.18 387.40,246.53 388.20,246.72 389.00,246.56 389.80,247.34 390.60,247.41 391.40,248.09 392.20,246.48 393.00,246.82 393.80,247.50 394.60,246.95 395.40,246.87 396.20,247.75 397.00,246.80 397.80,246.39 398.60,246.29 399.40,247.00 400.20,246.95 401.00,246.16 401.80,246.30 402.60,246.95 403.40,247.44 404.20,247.52 405.00,248.73 405.80,249.34 406.60,248.92" stroke="#444" stroke-width="4.4" fill="none" stroke-linejoin="round" stroke-linecap="round" /><polyline points="57.00,197.44 57.80,198.03 58.60,198.16 59.40,197.45 60.20,197.84 61.00,197.99 61.80,197.39 62.60,197.86 63.40,197.70 64.20,197.48 65.00,197.52 65.80,197.78 66.60,197.78 67.40,197.53 68.20,197.60 69.00,198.31 69.80,197.92 70.60,198.23 71.40,198.39 72.20,198.13 73.00,198.90 73.80,197.52 74.60,198.27 75.40,197.78 76.20,198.77 77.00,198.71 77.80,197.08 78.60,197.54 79.40,198.29 80.20,198.36 81.00,198.35 81.80,198.00 82.60,198.26 83.40,198.36 84.20,198.05 85.00,198.56 85.80,197.10 86.60,198.42 87.40,197.68 88.20,198.60 89.00,198.08 89.80,197.80 90.60,198.38 91.40,197.82 92.20,197.83 93.00,197.55 93.80,198.26 94.60,198.52 95.40,198.77 96.20,198.26 97.00,198.81 97.80,198.36 98.60,198.33 99.40,198.65 100.20,198.88 101.00,198.27 101.80,198.33 102.60,198.38 103.40,198.51 104.20,198.08 105.00,198.96 105.80,198.34 106.60,198.74 107.40,198.18 108.20,198.73 109.00,198.76 109.80,198.41 110.60,199.55 111.40,198.86 112.20,199.54 113.00,199.23 113.80,198.55 114.60,198.73 115.40,199.15 116.20,199.03 117.00,199.08 117.80,198.98 118.60,198.35 119.40,199.11 120.20,198.26 121.00,199.48 121.80,199.04 122.60,199.10 123.40,199.37 124.20,199.65 125.00,198.93 125.80,198.84 126.60,199.20 127.40,198.81 128.20,199.35 129.00,200.55 129.80,199.41 130.60,200.23 131.40,199.37 132.20,200.18 133.00,199.95 133.80,200.12 134.60,200.45 135.40,201.04 136.20,200.39 137.00,200.41 137.80,199.97 138.60,200.72 139.40,200.40 140.20,200.94 141.00,200.60 141.80,201.45 142.60,199.83 143.40,200.64 144.20,201.22 145.00,200.72 145.80,200.57 146.60,200.86 147.40,200.41 148.20,201.14 149.00,202.23 149.80,201.70 150.60,200.74 151.40,200.90 152.20,201.16 153.00,201.85 153.80,201.08 154.60,201.19 155.40,201.95 156.20,201.99 157.00,201.49 157.80,201.20 158.60,201.06 159.40,201.50 160.20,200.86 161.00,202.25 161.80,201.68 162.60,202.24 163.40,202.91 164.20,202.65 165.00,201.66 165.80,202.62 166.60,202.80 167.40,202.00 168.20,201.95 169.00,202.39 169.80,201.77 170.60,203.23 171.40,201.58 172.20,202.26 173.00,202.72 173.80,202.84 174.60,203.11 175.40,203.25 176.20,203.12 177.00,203.82 177.80,202.44 178.60,203.49 179.40,203.26 180.20,203.74 181.00,203.87 181.80,203.45 182.60,203.67 183.40,204.40 184.20,204.30 185.00,203.92 185.80,205.24 186.60,205.45 187.40,203.85 188.20,204.74 189.00,205.82 189.80,205.14 190.60,204.98 191.40,204.88 192.20,204.82 193.00,205.06 193.80,205.00 194.60,205.67 195.40,205.25 196.20,205.32 197.00,205.07 197.80,205.69 198.60,205.40 199.40,205.81 200.20,206.45 201.00,206.24 201.80,206.40 202.60,206.42 203.40,206.38 204.20,206.39 205.00,206.40 205.80,206.97 206.60,206.24 207.40,207.42 208.20,206.92 209.00,206.66 209.80,206.87 210.60,206.88 211.40,207.35 212.20,207.05 213.00,207.98 213.80,207.20 214.60,206.62 215.40,207.41 216.20,206.93 217.00,207.91 217.80,208.49 218.60,208.40 219.40,207.60 220.20,207.95 221.00,209.19 221.80,208.62 222.60,208.57 223.40,209.14 224.20,209.86 225.00,209.43 225.80,209.00 226.60,209.19 227.40,209.40 228.20,208.94 229.00,208.83 229.80,209.42 230.60,209.07 231.40,209.56 232.20,209.72 233.00,210.82 233.80,209.48 234.60,209.90 235.40,210.07 236.20,210.62 237.00,211.18 237.80,210.77 238.60,210.90 239.40,210.81 240.20,211.42 241.00,212.36 241.80,212.42 242.60,212.22 243.40,212.79 244.20,213.26 245.00,213.75 245.80,213.54 246.60,213.98 247.40,213.55 248.20,214.14 249.00,215.66 249.80,214.23 250.60,215.35 251.40,215.88 252.20,215.90 253.00,215.98 253.80,216.60 254.60,216.95 255.40,217.26 256.20,216.79 257.00,217.91 257.80,217.93 258.60,218.41 259.40,219.10 260.20,219.62 261.00,220.08 261.80,219.79 262.60,220.77 263.40,221.22 264.20,221.55 265.00,222.00 265.80,221.65 266.60,221.98 267.40,222.77 268.20,222.12 269.00,223.17 269.80,223.18 270.60,223.63 271.40,223.42 272.20,224.20 273.00,224.99 273.80,225.80 274.60,226.25 275.40,226.16 276.20,226.51 277.00,226.63 277.80,227.58 278.60,227.69 279.40,228.47 280.20,229.39 281.00,228.99 281.80,228.73 282.60,229.41 283.40,229.54 284.20,230.06 285.00,231.59 285.80,231.50 286.60,231.12 287.40,232.49 288.20,233.17 289.00,232.84 289.80,233.10 290.60,233.53 291.40,234.06 292.20,234.47 293.00,234.96 293.80,235.22 294.60,235.46 295.40,235.79 296.20,235.72 297.00,234.98 297.80,235.86 298.60,236.31 299.40,236.24 300.20,237.03 301.00,236.53 301.80,236.35 302.60,237.49 303.40,237.22 304.20,237.09 305.00,237.48 305.80,237.62 306.60,237.37 307.40,236.18 308.20,237.06 309.00,237.23 309.80,237.07 310.60,237.68 311.40,238.20 312.20,237.52 313.00,237.30 313.80,238.80 314.60,237.76 315.40,237.49 316.20,238.23 317.00,238.39 317.80,237.96 318.60,238.72 319.40,238.22 320.20,238.10 321.00,238.68 321.80,239.03 322.60,238.47 323.40,238.99 324.20,238.88 325.00,240.27 325.80,238.76 326.60,239.78 327.40,239.22 328.20,239.26 329.00,239.72 329.80,239.88 330.60,240.22 331.40,240.00 332.20,239.78 333.00,240.01 333.80,240.68 334.60,240.91 335.40,241.48 336.20,241.24 337.00,241.73 337.80,242.13 338.60,241.72 339.40,241.18 340.20,241.53 341.00,241.64 341.80,243.23 342.60,242.36 343.40,243.53 344.20,243.46 345.00,244.20 345.80,244.11 346.60,243.84 347.40,244.42 348.20,245.58 349.00,246.65 349.80,247.36 350.60,248.45 351.40,248.90 352.20,247.13 353.00,247.72 353.80,246.91 354.60,247.12 355.40,247.12 356.20,246.43 357.00,246.52 357.80,245.17 358.60,246.10 359.40,245.48 360.20,246.18 361.00,246.14 361.80,245.04 362.60,246.02 363.40,246.61 364.20,247.36 365.00,246.94 365.80,247.08 366.60,246.65 367.40,248.31 368.20,248.86 369.00,248.44 369.80,248.71 370.60,248.23 371.40,249.28 372.20,250.02 373.00,249.05 373.80,249.22 374.60,248.81 375.40,248.05 376.20,249.01 377.00,247.78 377.80,248.16 378.60,248.30 379.40,248.49 380.20,248.21 381.00,248.11 381.80,247.52 382.60,247.20 383.40,247.73 384.20,247.31 385.00,246.96 385.80,246.90 386.60,247.18 387.40,246.53 388.20,246.72 389.00,246.56 389.80,247.34 390.60,247.41 391.40,248.09 392.20,246.48 393.00,246.82 393.80,247.50 394.60,246.95 395.40,246.87 396.20,247.75 397.00,246.80 397.80,246.39 398.60,246.29 399.40,247.00 400.20,246.95 401.00,246.16 401.80,246.30 402.60,246.95 403.40,247.44 404.20,247.52 405.00,248.73 405.80,249.34 406.60,248.92" stroke="#6c6c6c" stroke-width="3.1000000000000005" fill="none" stroke-linejoin="round" stroke-linecap="round" /><polyline points="57.00,197.34 58.60,198.29 60.20,197.67 61.80,196.75 63.40,197.61 65.00,197.74 66.60,198.25 68.20,196.95 69.80,198.70 71.40,198.05 73.00,199.19 74.60,198.64 76.20,199.06 77.80,197.13 79.40,197.94 81.00,198.54 82.60,198.04 84.20,197.29 85.80,197.95 87.40,197.90 89.00,198.62 90.60,198.11 92.20,198.27 93.80,198.74 95.40,199.23 97.00,198.81 98.60,197.97 100.20,198.83 101.80,197.67 103.40,197.99 105.00,198.99 106.60,198.44 108.20,198.68 109.80,198.37 111.40,199.44 113.00,199.62 114.60,198.71 116.20,199.39 117.80,198.74 119.40,199.01 121.00,199.76 122.60,198.72 124.20,199.56 125.80,198.44 127.40,198.85 129.00,201.04 130.60,200.01 132.20,200.25 133.80,199.85 135.40,200.70 137.00,200.04 138.60,201.16 140.20,201.65 141.80,201.60 143.40,200.42 145.00,200.93 146.60,200.76 148.20,201.38 149.80,201.79 151.40,200.98 153.00,202.03 154.60,201.01 156.20,201.87 157.80,200.69 159.40,201.36 161.00,201.83 162.60,202.19 164.20,202.36 165.80,202.65 167.40,202.13 169.00,201.96 170.60,202.99 172.20,201.97 173.80,203.06 175.40,203.76 177.00,204.07 178.60,203.39 180.20,204.18 181.80,203.00 183.40,204.85 185.00,203.73 186.60,204.62 188.20,205.53 189.80,205.61 191.40,204.57 193.00,205.11 194.60,205.61 196.20,205.36 197.80,205.24 199.40,205.61 201.00,206.38 202.60,206.49 204.20,206.75 205.80,207.00 207.40,208.12 209.00,206.45 210.60,206.96 212.20,206.47 213.80,206.83 215.40,207.81 217.00,207.62 218.60,208.56 220.20,207.93 221.80,208.31 223.40,209.03 225.00,209.28 226.60,209.04 228.20,209.17 229.80,209.62 231.40,209.38 233.00,210.55 234.60,209.98 236.20,210.59 237.80,211.08 239.40,211.61 241.00,212.61 242.60,212.21 244.20,213.21 245.80,213.28 247.40,213.28 249.00,215.36 250.60,215.23 252.20,215.77 253.80,216.83 255.40,217.14 257.00,217.85 258.60,218.04 260.20,220.12 261.80,219.94 263.40,221.76 265.00,222.24 266.60,222.42 268.20,222.05 269.80,223.39 271.40,224.23 273.00,224.62 274.60,226.60 276.20,227.02 277.80,227.71 279.40,228.70 281.00,229.37 282.60,229.21 284.20,230.19 285.80,231.24 287.40,232.29 289.00,232.65 290.60,233.49 292.20,234.51 293.80,235.36 295.40,235.35 297.00,235.59 298.60,236.66 300.20,237.25 301.80,236.24 303.40,237.19 305.00,237.65 306.60,237.50 308.20,236.54 309.80,237.30 311.40,239.10 313.00,236.73 314.60,238.07 316.20,238.34 317.80,237.93 319.40,238.64 321.00,238.32 322.60,238.52 324.20,239.33 325.80,238.70 327.40,239.09 329.00,239.76 330.60,240.08 332.20,240.26 333.80,240.40 335.40,241.75 337.00,241.34 338.60,241.93 340.20,241.49 341.80,242.43 343.40,243.52 345.00,243.87 346.60,243.70 348.20,246.06 349.80,247.02 351.40,248.57 353.00,248.17 354.60,247.15 356.20,246.91 357.80,245.27 359.40,245.21 361.00,246.12 362.60,246.40 364.20,247.65 365.80,247.08 367.40,248.33 369.00,248.41 370.60,248.05 372.20,250.62 373.80,249.22 375.40,247.70 377.00,247.63 378.60,248.52 380.20,248.40 381.80,247.48 383.40,247.53 385.00,246.97 386.60,246.66 388.20,246.32 389.80,247.59 391.40,247.94 393.00,246.93 394.60,247.33 396.20,247.95 397.80,246.40 399.40,247.65 401.00,246.37 402.60,246.84 404.20,247.75 405.80,249.47" stroke="#9a9a9a" stroke-width="0.7" fill="none" stroke-linejoin="round" stroke-linecap="round" opacity="0.55"/><polyline points="57.00,199.60 57.80,200.05 58.60,199.95 59.40,199.14 60.20,199.98 61.00,199.94 61.80,199.89 62.60,199.34 63.40,199.96 64.20,200.12 65.00,200.20 65.80,199.64 66.60,200.47 67.40,199.63 68.20,200.11 69.00,200.83 69.80,199.92 70.60,200.02 71.40,200.77 72.20,200.11 73.00,200.16 73.80,200.42 74.60,200.82 75.40,199.33 76.20,199.98 77.00,199.91 77.80,199.89 78.60,200.01 79.40,200.03 80.20,200.58 81.00,200.04 81.80,200.52 82.60,200.67 83.40,200.16 84.20,200.57 85.00,201.28 85.80,200.69 86.60,200.26 87.40,200.54 88.20,200.17 89.00,200.73 89.80,201.02 90.60,200.26 91.40,200.55 92.20,201.18 93.00,200.45 93.80,200.78 94.60,200.24 95.40,200.35 96.20,200.50 97.00,201.73 97.80,200.59 98.60,200.55 99.40,200.55 100.20,200.74 101.00,201.13 101.80,200.93 102.60,201.79 103.40,200.97 104.20,201.54 105.00,201.03 105.80,201.19 106.60,200.29 107.40,200.89 108.20,200.94 109.00,200.87 109.80,200.03 110.60,201.43 111.40,200.91 112.20,200.93 113.00,201.06 113.80,201.12 114.60,201.45 115.40,200.74 116.20,200.94 117.00,201.54 117.80,201.52 118.60,201.33 119.40,201.29 120.20,201.22 121.00,201.62 121.80,202.22 122.60,201.26 123.40,202.47 124.20,202.21 125.00,201.67 125.80,202.27 126.60,201.31 127.40,201.24 128.20,201.48 129.00,201.92 129.80,202.01 130.60,201.97 131.40,202.29 132.20,201.33 133.00,202.56 133.80,201.75 134.60,202.14 135.40,202.30 136.20,202.01 137.00,201.96 137.80,202.17 138.60,202.66 139.40,202.98 140.20,203.02 141.00,202.36 141.80,202.50 142.60,202.49 143.40,203.15 144.20,202.08 145.00,203.60 145.80,202.87 146.60,202.78 147.40,203.33 148.20,203.69 149.00,203.43 149.80,203.80 150.60,203.43 151.40,203.97 152.20,204.02 153.00,203.46 153.80,204.20 154.60,203.68 155.40,203.69 156.20,203.28 157.00,203.61 157.80,204.14 158.60,203.24 159.40,204.17 160.20,204.09 161.00,204.10 161.80,203.03 162.60,204.02 163.40,204.41 164.20,203.82 165.00,204.25 165.80,203.18 166.60,204.60 167.40,204.05 168.20,204.79 169.00,203.61 169.80,204.80 170.60,204.44 171.40,204.98 172.20,204.27 173.00,204.48 173.80,205.83 174.60,204.52 175.40,204.65 176.20,204.91 177.00,204.64 177.80,205.70 178.60,206.01 179.40,204.99 180.20,204.60 181.00,205.97 181.80,206.01 182.60,205.95 183.40,206.17 184.20,205.33 185.00,205.71 185.80,205.23 186.60,205.28 187.40,206.43 188.20,205.76 189.00,207.15 189.80,206.23 190.60,205.98 191.40,206.69 192.20,207.21 193.00,206.69 193.80,205.99 194.60,206.78 195.40,207.30 196.20,206.52 197.00,206.47 197.80,207.34 198.60,207.01 199.40,206.52 200.20,206.92 201.00,206.82 201.80,207.36 202.60,207.34 203.40,207.88 204.20,207.75 205.00,206.80 205.80,207.75 206.60,208.04 207.40,207.91 208.20,208.24 209.00,207.60 209.80,207.48 210.60,208.40 211.40,207.57 212.20,207.15 213.00,208.65 213.80,207.93 214.60,208.19 215.40,207.76 216.20,207.86 217.00,208.01 217.80,208.43 218.60,208.83 219.40,207.70 220.20,209.14 221.00,208.34 221.80,208.46 222.60,209.31 223.40,209.04 224.20,208.45 225.00,210.04 225.80,208.90 226.60,209.46 227.40,209.51 228.20,210.12 229.00,209.35 229.80,210.08 230.60,209.36 231.40,210.27 232.20,209.49 233.00,209.74 233.80,210.82 234.60,210.18 235.40,210.16 236.20,211.18 237.00,210.41 237.80,209.94 238.60,210.71 239.40,209.92 240.20,211.02 241.00,211.13 241.80,210.39 242.60,210.43 243.40,210.86 244.20,210.86 245.00,210.48 245.80,211.24 246.60,210.13 247.40,210.92 248.20,211.00 249.00,211.13 249.80,211.45 250.60,210.83 251.40,211.71 252.20,211.44 253.00,211.29 253.80,211.03 254.60,211.18 255.40,211.95 256.20,211.42 257.00,211.95 257.80,212.46 258.60,212.51 259.40,212.82 260.20,212.05 261.00,211.76 261.80,212.78 262.60,212.52 263.40,212.96 264.20,212.52 265.00,213.12 265.80,213.03 266.60,213.04 267.40,213.01 268.20,213.03 269.00,213.02 269.80,213.08 270.60,213.56 271.40,213.04 272.20,214.20 273.00,213.52 273.80,214.17 274.60,213.83 275.40,213.92 276.20,215.09 277.00,214.19 277.80,213.91 278.60,214.31 279.40,214.64 280.20,215.91 281.00,215.18 281.80,215.66 282.60,214.94 283.40,215.70 284.20,216.00 285.00,216.66 285.80,215.69 286.60,216.43 287.40,216.44 288.20,216.00 289.00,216.60 289.80,216.64 290.60,215.80 291.40,217.18 292.20,217.22 293.00,216.84 293.80,216.50 294.60,217.83 295.40,217.35 296.20,217.75 297.00,217.99 297.80,217.19 298.60,217.85 299.40,217.44 300.20,217.59 301.00,217.64 301.80,217.74 302.60,218.31 303.40,217.93 304.20,217.87 305.00,217.88 305.80,218.34 306.60,217.97 307.40,218.33 308.20,218.71 309.00,218.67 309.80,219.05 310.60,219.01 311.40,220.37 312.20,220.25 313.00,220.04 313.80,220.00 314.60,221.19 315.40,220.31 316.20,219.87 317.00,219.78 317.80,219.52 318.60,219.75 319.40,218.85 320.20,219.54 321.00,217.93 321.80,218.38 322.60,217.56 323.40,218.84 324.20,217.88 325.00,218.02 325.80,218.47 326.60,218.63 327.40,217.58 328.20,217.93 329.00,217.47 329.80,218.17 330.60,218.08 331.40,217.98 332.20,217.84 333.00,217.98 333.80,217.83 334.60,218.42 335.40,218.87 336.20,217.33 337.00,218.16 337.80,218.04 338.60,218.46 339.40,217.82 340.20,218.19 341.00,217.80 341.80,218.60 342.60,218.34 343.40,218.23 344.20,218.48 345.00,218.22 345.80,217.64 346.60,218.62 347.40,218.49 348.20,218.30 349.00,218.83 349.80,218.95 350.60,217.98 351.40,218.23 352.20,219.37 353.00,219.42 353.80,218.55 354.60,218.45 355.40,218.80 356.20,218.96 357.00,218.57 357.80,219.40 358.60,218.91 359.40,219.05 360.20,220.10 361.00,219.49 361.80,219.86 362.60,220.28 363.40,220.46 364.20,220.05 365.00,220.32 365.80,220.03 366.60,221.29 367.40,220.90 368.20,220.21 369.00,220.81 369.80,221.23 370.60,221.23 371.40,221.93 372.20,221.83 373.00,221.07 373.80,221.37 374.60,220.94 375.40,221.73 376.20,221.79 377.00,223.04 377.80,221.97 378.60,221.08 379.40,221.82 380.20,222.29 381.00,221.82 381.80,222.15 382.60,222.52 383.40,222.99 384.20,222.91 385.00,222.73 385.80,223.64 386.60,223.19 387.40,223.36 388.20,223.11 389.00,223.53 389.80,224.32 390.60,223.45 391.40,224.30 392.20,224.80 393.00,224.46 393.80,224.88 394.60,224.42 395.40,225.77 396.20,226.04 397.00,226.01 397.80,225.47 398.60,226.15 399.40,227.42 400.20,228.11 401.00,227.83 401.80,228.62 402.60,228.15 403.40,228.69 404.20,229.14 405.00,229.69 405.80,229.17 406.60,230.64" stroke="#2458a8" stroke-width="3.8" fill="none" stroke-linejoin="round" stroke-linecap="round" /><polyline points="57.00,199.60 57.80,200.05 58.60,199.95 59.40,199.14 60.20,199.98 61.00,199.94 61.80,199.89 62.60,199.34 63.40,199.96 64.20,200.12 65.00,200.20 65.80,199.64 66.60,200.47 67.40,199.63 68.20,200.11 69.00,200.83 69.80,199.92 70.60,200.02 71.40,200.77 72.20,200.11 73.00,200.16 73.80,200.42 74.60,200.82 75.40,199.33 76.20,199.98 77.00,199.91 77.80,199.89 78.60,200.01 79.40,200.03 80.20,200.58 81.00,200.04 81.80,200.52 82.60,200.67 83.40,200.16 84.20,200.57 85.00,201.28 85.80,200.69 86.60,200.26 87.40,200.54 88.20,200.17 89.00,200.73 89.80,201.02 90.60,200.26 91.40,200.55 92.20,201.18 93.00,200.45 93.80,200.78 94.60,200.24 95.40,200.35 96.20,200.50 97.00,201.73 97.80,200.59 98.60,200.55 99.40,200.55 100.20,200.74 101.00,201.13 101.80,200.93 102.60,201.79 103.40,200.97 104.20,201.54 105.00,201.03 105.80,201.19 106.60,200.29 107.40,200.89 108.20,200.94 109.00,200.87 109.80,200.03 110.60,201.43 111.40,200.91 112.20,200.93 113.00,201.06 113.80,201.12 114.60,201.45 115.40,200.74 116.20,200.94 117.00,201.54 117.80,201.52 118.60,201.33 119.40,201.29 120.20,201.22 121.00,201.62 121.80,202.22 122.60,201.26 123.40,202.47 124.20,202.21 125.00,201.67 125.80,202.27 126.60,201.31 127.40,201.24 128.20,201.48 129.00,201.92 129.80,202.01 130.60,201.97 131.40,202.29 132.20,201.33 133.00,202.56 133.80,201.75 134.60,202.14 135.40,202.30 136.20,202.01 137.00,201.96 137.80,202.17 138.60,202.66 139.40,202.98 140.20,203.02 141.00,202.36 141.80,202.50 142.60,202.49 143.40,203.15 144.20,202.08 145.00,203.60 145.80,202.87 146.60,202.78 147.40,203.33 148.20,203.69 149.00,203.43 149.80,203.80 150.60,203.43 151.40,203.97 152.20,204.02 153.00,203.46 153.80,204.20 154.60,203.68 155.40,203.69 156.20,203.28 157.00,203.61 157.80,204.14 158.60,203.24 159.40,204.17 160.20,204.09 161.00,204.10 161.80,203.03 162.60,204.02 163.40,204.41 164.20,203.82 165.00,204.25 165.80,203.18 166.60,204.60 167.40,204.05 168.20,204.79 169.00,203.61 169.80,204.80 170.60,204.44 171.40,204.98 172.20,204.27 173.00,204.48 173.80,205.83 174.60,204.52 175.40,204.65 176.20,204.91 177.00,204.64 177.80,205.70 178.60,206.01 179.40,204.99 180.20,204.60 181.00,205.97 181.80,206.01 182.60,205.95 183.40,206.17 184.20,205.33 185.00,205.71 185.80,205.23 186.60,205.28 187.40,206.43 188.20,205.76 189.00,207.15 189.80,206.23 190.60,205.98 191.40,206.69 192.20,207.21 193.00,206.69 193.80,205.99 194.60,206.78 195.40,207.30 196.20,206.52 197.00,206.47 197.80,207.34 198.60,207.01 199.40,206.52 200.20,206.92 201.00,206.82 201.80,207.36 202.60,207.34 203.40,207.88 204.20,207.75 205.00,206.80 205.80,207.75 206.60,208.04 207.40,207.91 208.20,208.24 209.00,207.60 209.80,207.48 210.60,208.40 211.40,207.57 212.20,207.15 213.00,208.65 213.80,207.93 214.60,208.19 215.40,207.76 216.20,207.86 217.00,208.01 217.80,208.43 218.60,208.83 219.40,207.70 220.20,209.14 221.00,208.34 221.80,208.46 222.60,209.31 223.40,209.04 224.20,208.45 225.00,210.04 225.80,208.90 226.60,209.46 227.40,209.51 228.20,210.12 229.00,209.35 229.80,210.08 230.60,209.36 231.40,210.27 232.20,209.49 233.00,209.74 233.80,210.82 234.60,210.18 235.40,210.16 236.20,211.18 237.00,210.41 237.80,209.94 238.60,210.71 239.40,209.92 240.20,211.02 241.00,211.13 241.80,210.39 242.60,210.43 243.40,210.86 244.20,210.86 245.00,210.48 245.80,211.24 246.60,210.13 247.40,210.92 248.20,211.00 249.00,211.13 249.80,211.45 250.60,210.83 251.40,211.71 252.20,211.44 253.00,211.29 253.80,211.03 254.60,211.18 255.40,211.95 256.20,211.42 257.00,211.95 257.80,212.46 258.60,212.51 259.40,212.82 260.20,212.05 261.00,211.76 261.80,212.78 262.60,212.52 263.40,212.96 264.20,212.52 265.00,213.12 265.80,213.03 266.60,213.04 267.40,213.01 268.20,213.03 269.00,213.02 269.80,213.08 270.60,213.56 271.40,213.04 272.20,214.20 273.00,213.52 273.80,214.17 274.60,213.83 275.40,213.92 276.20,215.09 277.00,214.19 277.80,213.91 278.60,214.31 279.40,214.64 280.20,215.91 281.00,215.18 281.80,215.66 282.60,214.94 283.40,215.70 284.20,216.00 285.00,216.66 285.80,215.69 286.60,216.43 287.40,216.44 288.20,216.00 289.00,216.60 289.80,216.64 290.60,215.80 291.40,217.18 292.20,217.22 293.00,216.84 293.80,216.50 294.60,217.83 295.40,217.35 296.20,217.75 297.00,217.99 297.80,217.19 298.60,217.85 299.40,217.44 300.20,217.59 301.00,217.64 301.80,217.74 302.60,218.31 303.40,217.93 304.20,217.87 305.00,217.88 305.80,218.34 306.60,217.97 307.40,218.33 308.20,218.71 309.00,218.67 309.80,219.05 310.60,219.01 311.40,220.37 312.20,220.25 313.00,220.04 313.80,220.00 314.60,221.19 315.40,220.31 316.20,219.87 317.00,219.78 317.80,219.52 318.60,219.75 319.40,218.85 320.20,219.54 321.00,217.93 321.80,218.38 322.60,217.56 323.40,218.84 324.20,217.88 325.00,218.02 325.80,218.47 326.60,218.63 327.40,217.58 328.20,217.93 329.00,217.47 329.80,218.17 330.60,218.08 331.40,217.98 332.20,217.84 333.00,217.98 333.80,217.83 334.60,218.42 335.40,218.87 336.20,217.33 337.00,218.16 337.80,218.04 338.60,218.46 339.40,217.82 340.20,218.19 341.00,217.80 341.80,218.60 342.60,218.34 343.40,218.23 344.20,218.48 345.00,218.22 345.80,217.64 346.60,218.62 347.40,218.49 348.20,218.30 349.00,218.83 349.80,218.95 350.60,217.98 351.40,218.23 352.20,219.37 353.00,219.42 353.80,218.55 354.60,218.45 355.40,218.80 356.20,218.96 357.00,218.57 357.80,219.40 358.60,218.91 359.40,219.05 360.20,220.10 361.00,219.49 361.80,219.86 362.60,220.28 363.40,220.46 364.20,220.05 365.00,220.32 365.80,220.03 366.60,221.29 367.40,220.90 368.20,220.21 369.00,220.81 369.80,221.23 370.60,221.23 371.40,221.93 372.20,221.83 373.00,221.07 373.80,221.37 374.60,220.94 375.40,221.73 376.20,221.79 377.00,223.04 377.80,221.97 378.60,221.08 379.40,221.82 380.20,222.29 381.00,221.82 381.80,222.15 382.60,222.52 383.40,222.99 384.20,222.91 385.00,222.73 385.80,223.64 386.60,223.19 387.40,223.36 388.20,223.11 389.00,223.53 389.80,224.32 390.60,223.45 391.40,224.30 392.20,224.80 393.00,224.46 393.80,224.88 394.60,224.42 395.40,225.77 396.20,226.04 397.00,226.01 397.80,225.47 398.60,226.15 399.40,227.42 400.20,228.11 401.00,227.83 401.80,228.62 402.60,228.15 403.40,228.69 404.20,229.14 405.00,229.69 405.80,229.17 406.60,230.64" stroke="#3a78cc" stroke-width="2.5" fill="none" stroke-linejoin="round" stroke-linecap="round" /><polyline points="57.00,200.00 58.60,199.61 60.20,199.57 61.80,199.99 63.40,199.76 65.00,199.49 66.60,200.72 68.20,200.15 69.80,199.78 71.40,201.40 73.00,200.21 74.60,200.59 76.20,200.01 77.80,199.58 79.40,199.81 81.00,200.16 82.60,200.50 84.20,200.44 85.80,201.19 87.40,200.80 89.00,200.97 90.60,200.42 92.20,201.32 93.80,201.22 95.40,200.34 97.00,202.29 98.60,200.26 100.20,200.66 101.80,200.52 103.40,200.87 105.00,201.19 106.60,200.72 108.20,200.74 109.80,200.03 111.40,200.80 113.00,200.84 114.60,201.09 116.20,200.96 117.80,201.00 119.40,201.32 121.00,201.62 122.60,201.06 124.20,201.90 125.80,201.86 127.40,201.80 129.00,201.52 130.60,202.44 132.20,201.51 133.80,201.64 135.40,201.95 137.00,202.27 138.60,203.18 140.20,202.74 141.80,202.41 143.40,203.47 145.00,203.70 146.60,203.38 148.20,203.52 149.80,203.96 151.40,203.59 153.00,204.09 154.60,203.46 156.20,202.62 157.80,204.10 159.40,204.13 161.00,204.67 162.60,203.92 164.20,203.81 165.80,203.36 167.40,204.53 169.00,203.59 170.60,204.76 172.20,204.43 173.80,205.75 175.40,204.67 177.00,204.65 178.60,205.74 180.20,204.96 181.80,205.59 183.40,206.52 185.00,206.00 186.60,205.26 188.20,205.53 189.80,206.16 191.40,206.84 193.00,206.91 194.60,206.86 196.20,206.82 197.80,207.17 199.40,206.59 201.00,206.35 202.60,207.57 204.20,207.80 205.80,207.63 207.40,208.26 209.00,207.80 210.60,207.55 212.20,207.16 213.80,207.49 215.40,208.08 217.00,208.75 218.60,208.68 220.20,209.16 221.80,208.38 223.40,209.15 225.00,210.24 226.60,209.85 228.20,209.83 229.80,210.55 231.40,209.99 233.00,209.82 234.60,210.53 236.20,211.40 237.80,209.66 239.40,209.71 241.00,210.99 242.60,210.42 244.20,211.20 245.80,210.85 247.40,211.06 249.00,211.31 250.60,211.00 252.20,211.58 253.80,211.49 255.40,212.09 257.00,212.20 258.60,212.68 260.20,212.59 261.80,212.21 263.40,213.34 265.00,213.04 266.60,212.95 268.20,212.74 269.80,212.52 271.40,212.92 273.00,213.32 274.60,213.98 276.20,214.65 277.80,214.34 279.40,214.72 281.00,215.11 282.60,214.73 284.20,215.76 285.80,215.35 287.40,216.28 289.00,216.60 290.60,215.75 292.20,216.79 293.80,216.42 295.40,217.08 297.00,218.04 298.60,218.41 300.20,217.78 301.80,217.65 303.40,217.44 305.00,217.45 306.60,217.46 308.20,218.93 309.80,218.82 311.40,220.39 313.00,219.86 314.60,221.22 316.20,220.29 317.80,219.31 319.40,218.74 321.00,217.69 322.60,217.82 324.20,217.57 325.80,218.13 327.40,217.16 329.00,217.05 330.60,218.22 332.20,218.61 333.80,217.53 335.40,219.16 337.00,218.24 338.60,218.13 340.20,218.11 341.80,218.53 343.40,218.03 345.00,218.80 346.60,218.05 348.20,218.42 349.80,219.04 351.40,218.05 353.00,219.46 354.60,218.71 356.20,219.01 357.80,219.53 359.40,219.25 361.00,218.88 362.60,220.72 364.20,220.73 365.80,220.32 367.40,221.20 369.00,220.39 370.60,221.19 372.20,221.59 373.80,221.20 375.40,222.02 377.00,222.80 378.60,221.04 380.20,221.72 381.80,222.10 383.40,223.02 385.00,222.52 386.60,222.97 388.20,223.68 389.80,223.96 391.40,223.98 393.00,224.21 394.60,224.78 396.20,226.67 397.80,225.57 399.40,227.20 401.00,227.71 402.60,228.47 404.20,228.87 405.80,229.61" stroke="#7aa6e0" stroke-width="0.7" fill="none" stroke-linejoin="round" stroke-linecap="round" opacity="0.55"/><polyline points="57.00,202.64 57.80,202.04 58.60,202.31 59.40,202.36 60.20,202.73 61.00,201.56 61.80,202.58 62.60,201.88 63.40,201.71 64.20,202.11 65.00,201.98 65.80,201.64 66.60,201.37 67.40,201.67 68.20,202.76 69.00,203.00 69.80,202.41 70.60,202.66 71.40,201.90 72.20,202.11 73.00,202.28 73.80,201.67 74.60,201.72 75.40,202.22 76.20,202.04 77.00,201.71 77.80,202.37 78.60,202.09 79.40,202.67 80.20,202.22 81.00,202.09 81.80,202.29 82.60,202.16 83.40,201.95 84.20,202.08 85.00,202.60 85.80,202.56 86.60,202.86 87.40,201.52 88.20,202.12 89.00,202.12 89.80,202.39 90.60,202.11 91.40,202.09 92.20,202.68 93.00,202.42 93.80,201.82 94.60,202.96 95.40,202.81 96.20,202.11 97.00,202.75 97.80,202.05 98.60,202.90 99.40,202.30 100.20,202.05 101.00,202.25 101.80,202.08 102.60,202.52 103.40,202.52 104.20,202.46 105.00,202.20 105.80,200.81 106.60,202.51 107.40,201.62 108.20,202.59 109.00,203.00 109.80,202.62 110.60,202.36 111.40,202.50 112.20,202.56 113.00,202.42 113.80,202.45 114.60,202.34 115.40,203.33 116.20,202.83 117.00,203.32 117.80,202.82 118.60,203.01 119.40,202.94 120.20,203.27 121.00,203.48 121.80,203.26 122.60,202.89 123.40,202.89 124.20,204.03 125.00,203.20 125.80,203.24 126.60,204.07 127.40,203.95 128.20,203.74 129.00,203.37 129.80,204.65 130.60,203.81 131.40,203.92 132.20,203.64 133.00,203.13 133.80,203.21 134.60,204.04 135.40,204.07 136.20,203.83 137.00,203.46 137.80,203.38 138.60,203.93 139.40,203.46 140.20,204.57 141.00,204.72 141.80,205.52 142.60,204.69 143.40,204.07 144.20,203.99 145.00,202.87 145.80,204.20 146.60,204.43 147.40,204.99 148.20,204.88 149.00,204.91 149.80,204.79 150.60,205.03 151.40,205.43 152.20,204.34 153.00,204.66 153.80,204.28 154.60,205.68 155.40,205.58 156.20,205.38 157.00,204.55 157.80,205.21 158.60,205.07 159.40,205.25 160.20,205.18 161.00,205.54 161.80,205.17 162.60,205.78 163.40,205.55 164.20,205.35 165.00,205.47 165.80,205.37 166.60,205.98 167.40,205.53 168.20,205.83 169.00,205.57 169.80,205.12 170.60,206.24 171.40,205.41 172.20,206.23 173.00,206.16 173.80,205.28 174.60,205.64 175.40,205.88 176.20,205.79 177.00,205.68 177.80,206.59 178.60,206.20 179.40,206.52 180.20,206.20 181.00,206.58 181.80,206.15 182.60,206.53 183.40,206.85 184.20,206.65 185.00,206.47 185.80,206.24 186.60,206.85 187.40,206.97 188.20,206.75 189.00,206.57 189.80,207.20 190.60,208.12 191.40,206.92 192.20,207.25 193.00,207.32 193.80,206.04 194.60,207.30 195.40,206.97 196.20,207.96 197.00,207.27 197.80,207.08 198.60,207.38 199.40,207.60 200.20,207.32 201.00,207.59 201.80,207.05 202.60,207.61 203.40,208.11 204.20,208.69 205.00,208.17 205.80,208.02 206.60,208.48 207.40,208.45 208.20,208.79 209.00,208.57 209.80,208.08 210.60,208.29 211.40,208.31 212.20,208.41 213.00,208.41 213.80,208.01 214.60,207.47 215.40,208.16 216.20,207.59 217.00,208.58 217.80,208.60 218.60,207.89 219.40,209.00 220.20,209.13 221.00,208.83 221.80,209.58 222.60,209.72 223.40,208.39 224.20,209.44 225.00,209.22 225.80,209.26 226.60,209.54 227.40,208.84 228.20,208.94 229.00,208.88 229.80,208.96 230.60,209.31 231.40,208.74 232.20,208.97 233.00,209.75 233.80,209.50 234.60,209.76 235.40,208.78 236.20,209.32 237.00,209.47 237.80,209.79 238.60,209.55 239.40,210.28 240.20,209.89 241.00,209.97 241.80,210.02 242.60,210.38 243.40,209.90 244.20,210.67 245.00,210.42 245.80,210.34 246.60,210.34 247.40,210.60 248.20,210.88 249.00,210.90 249.80,210.69 250.60,210.97 251.40,210.68 252.20,211.24 253.00,210.71 253.80,209.84 254.60,211.43 255.40,210.92 256.20,210.40 257.00,210.89 257.80,210.63 258.60,212.02 259.40,211.35 260.20,210.47 261.00,211.48 261.80,211.10 262.60,212.19 263.40,210.91 264.20,210.42 265.00,211.51 265.80,211.38 266.60,211.40 267.40,210.67 268.20,211.88 269.00,212.49 269.80,210.93 270.60,212.33 271.40,211.54 272.20,212.86 273.00,212.00 273.80,211.72 274.60,212.30 275.40,212.04 276.20,211.53 277.00,212.12 277.80,211.57 278.60,211.00 279.40,212.71 280.20,211.64 281.00,211.53 281.80,211.95 282.60,211.10 283.40,211.19 284.20,211.58 285.00,211.57 285.80,211.83 286.60,212.31 287.40,211.59 288.20,212.02 289.00,212.07 289.80,211.31 290.60,211.93 291.40,211.44 292.20,212.38 293.00,212.15 293.80,211.99 294.60,211.42 295.40,212.11 296.20,211.75 297.00,212.45 297.80,212.12 298.60,211.85 299.40,212.67 300.20,212.61 301.00,212.06 301.80,212.89 302.60,212.27 303.40,212.30 304.20,212.54 305.00,212.18 305.80,212.36 306.60,212.52 307.40,213.32 308.20,213.35 309.00,212.60 309.80,213.48 310.60,212.77 311.40,213.00 312.20,213.26 313.00,213.04 313.80,214.03 314.60,213.09 315.40,212.48 316.20,213.66 317.00,212.93 317.80,213.02 318.60,211.86 319.40,213.70 320.20,213.67 321.00,213.70 321.80,213.83 322.60,214.20 323.40,213.46 324.20,213.95 325.00,213.24 325.80,213.46 326.60,214.14 327.40,213.88 328.20,213.15 329.00,213.96 329.80,213.76 330.60,213.52 331.40,214.13 332.20,213.80 333.00,213.32 333.80,213.57 334.60,214.92 335.40,213.48 336.20,214.31 337.00,214.53 337.80,214.59 338.60,213.80 339.40,214.25 340.20,214.50 341.00,214.85 341.80,214.24 342.60,214.05 343.40,215.07 344.20,215.17 345.00,214.88 345.80,214.49 346.60,214.99 347.40,214.90 348.20,215.27 349.00,214.38 349.80,215.04 350.60,214.97 351.40,214.59 352.20,215.24 353.00,215.22 353.80,215.07 354.60,215.48 355.40,214.72 356.20,215.39 357.00,215.66 357.80,215.65 358.60,216.06 359.40,215.09 360.20,215.00 361.00,215.84 361.80,215.99 362.60,216.79 363.40,216.17 364.20,215.55 365.00,216.36 365.80,215.67 366.60,215.44 367.40,217.33 368.20,216.36 369.00,216.59 369.80,216.57 370.60,217.19 371.40,216.55 372.20,217.03 373.00,216.07 373.80,215.96 374.60,217.28 375.40,217.36 376.20,216.98 377.00,216.90 377.80,216.93 378.60,216.60 379.40,217.65 380.20,217.32 381.00,217.32 381.80,217.34 382.60,217.71 383.40,217.54 384.20,217.72 385.00,216.94 385.80,217.77 386.60,218.60 387.40,217.45 388.20,217.70 389.00,218.23 389.80,218.34 390.60,218.26 391.40,217.33 392.20,218.36 393.00,217.67 393.80,217.91 394.60,218.60 395.40,218.29 396.20,218.86 397.00,219.99 397.80,219.00 398.60,219.05 399.40,218.39 400.20,218.58 401.00,218.47 401.80,218.78 402.60,218.60 403.40,218.87 404.20,219.15 405.00,218.86 405.80,218.75 406.60,218.85" stroke="#c42a30" stroke-width="3.8" fill="none" stroke-linejoin="round" stroke-linecap="round" /><polyline points="57.00,202.64 57.80,202.04 58.60,202.31 59.40,202.36 60.20,202.73 61.00,201.56 61.80,202.58 62.60,201.88 63.40,201.71 64.20,202.11 65.00,201.98 65.80,201.64 66.60,201.37 67.40,201.67 68.20,202.76 69.00,203.00 69.80,202.41 70.60,202.66 71.40,201.90 72.20,202.11 73.00,202.28 73.80,201.67 74.60,201.72 75.40,202.22 76.20,202.04 77.00,201.71 77.80,202.37 78.60,202.09 79.40,202.67 80.20,202.22 81.00,202.09 81.80,202.29 82.60,202.16 83.40,201.95 84.20,202.08 85.00,202.60 85.80,202.56 86.60,202.86 87.40,201.52 88.20,202.12 89.00,202.12 89.80,202.39 90.60,202.11 91.40,202.09 92.20,202.68 93.00,202.42 93.80,201.82 94.60,202.96 95.40,202.81 96.20,202.11 97.00,202.75 97.80,202.05 98.60,202.90 99.40,202.30 100.20,202.05 101.00,202.25 101.80,202.08 102.60,202.52 103.40,202.52 104.20,202.46 105.00,202.20 105.80,200.81 106.60,202.51 107.40,201.62 108.20,202.59 109.00,203.00 109.80,202.62 110.60,202.36 111.40,202.50 112.20,202.56 113.00,202.42 113.80,202.45 114.60,202.34 115.40,203.33 116.20,202.83 117.00,203.32 117.80,202.82 118.60,203.01 119.40,202.94 120.20,203.27 121.00,203.48 121.80,203.26 122.60,202.89 123.40,202.89 124.20,204.03 125.00,203.20 125.80,203.24 126.60,204.07 127.40,203.95 128.20,203.74 129.00,203.37 129.80,204.65 130.60,203.81 131.40,203.92 132.20,203.64 133.00,203.13 133.80,203.21 134.60,204.04 135.40,204.07 136.20,203.83 137.00,203.46 137.80,203.38 138.60,203.93 139.40,203.46 140.20,204.57 141.00,204.72 141.80,205.52 142.60,204.69 143.40,204.07 144.20,203.99 145.00,202.87 145.80,204.20 146.60,204.43 147.40,204.99 148.20,204.88 149.00,204.91 149.80,204.79 150.60,205.03 151.40,205.43 152.20,204.34 153.00,204.66 153.80,204.28 154.60,205.68 155.40,205.58 156.20,205.38 157.00,204.55 157.80,205.21 158.60,205.07 159.40,205.25 160.20,205.18 161.00,205.54 161.80,205.17 162.60,205.78 163.40,205.55 164.20,205.35 165.00,205.47 165.80,205.37 166.60,205.98 167.40,205.53 168.20,205.83 169.00,205.57 169.80,205.12 170.60,206.24 171.40,205.41 172.20,206.23 173.00,206.16 173.80,205.28 174.60,205.64 175.40,205.88 176.20,205.79 177.00,205.68 177.80,206.59 178.60,206.20 179.40,206.52 180.20,206.20 181.00,206.58 181.80,206.15 182.60,206.53 183.40,206.85 184.20,206.65 185.00,206.47 185.80,206.24 186.60,206.85 187.40,206.97 188.20,206.75 189.00,206.57 189.80,207.20 190.60,208.12 191.40,206.92 192.20,207.25 193.00,207.32 193.80,206.04 194.60,207.30 195.40,206.97 196.20,207.96 197.00,207.27 197.80,207.08 198.60,207.38 199.40,207.60 200.20,207.32 201.00,207.59 201.80,207.05 202.60,207.61 203.40,208.11 204.20,208.69 205.00,208.17 205.80,208.02 206.60,208.48 207.40,208.45 208.20,208.79 209.00,208.57 209.80,208.08 210.60,208.29 211.40,208.31 212.20,208.41 213.00,208.41 213.80,208.01 214.60,207.47 215.40,208.16 216.20,207.59 217.00,208.58 217.80,208.60 218.60,207.89 219.40,209.00 220.20,209.13 221.00,208.83 221.80,209.58 222.60,209.72 223.40,208.39 224.20,209.44 225.00,209.22 225.80,209.26 226.60,209.54 227.40,208.84 228.20,208.94 229.00,208.88 229.80,208.96 230.60,209.31 231.40,208.74 232.20,208.97 233.00,209.75 233.80,209.50 234.60,209.76 235.40,208.78 236.20,209.32 237.00,209.47 237.80,209.79 238.60,209.55 239.40,210.28 240.20,209.89 241.00,209.97 241.80,210.02 242.60,210.38 243.40,209.90 244.20,210.67 245.00,210.42 245.80,210.34 246.60,210.34 247.40,210.60 248.20,210.88 249.00,210.90 249.80,210.69 250.60,210.97 251.40,210.68 252.20,211.24 253.00,210.71 253.80,209.84 254.60,211.43 255.40,210.92 256.20,210.40 257.00,210.89 257.80,210.63 258.60,212.02 259.40,211.35 260.20,210.47 261.00,211.48 261.80,211.10 262.60,212.19 263.40,210.91 264.20,210.42 265.00,211.51 265.80,211.38 266.60,211.40 267.40,210.67 268.20,211.88 269.00,212.49 269.80,210.93 270.60,212.33 271.40,211.54 272.20,212.86 273.00,212.00 273.80,211.72 274.60,212.30 275.40,212.04 276.20,211.53 277.00,212.12 277.80,211.57 278.60,211.00 279.40,212.71 280.20,211.64 281.00,211.53 281.80,211.95 282.60,211.10 283.40,211.19 284.20,211.58 285.00,211.57 285.80,211.83 286.60,212.31 287.40,211.59 288.20,212.02 289.00,212.07 289.80,211.31 290.60,211.93 291.40,211.44 292.20,212.38 293.00,212.15 293.80,211.99 294.60,211.42 295.40,212.11 296.20,211.75 297.00,212.45 297.80,212.12 298.60,211.85 299.40,212.67 300.20,212.61 301.00,212.06 301.80,212.89 302.60,212.27 303.40,212.30 304.20,212.54 305.00,212.18 305.80,212.36 306.60,212.52 307.40,213.32 308.20,213.35 309.00,212.60 309.80,213.48 310.60,212.77 311.40,213.00 312.20,213.26 313.00,213.04 313.80,214.03 314.60,213.09 315.40,212.48 316.20,213.66 317.00,212.93 317.80,213.02 318.60,211.86 319.40,213.70 320.20,213.67 321.00,213.70 321.80,213.83 322.60,214.20 323.40,213.46 324.20,213.95 325.00,213.24 325.80,213.46 326.60,214.14 327.40,213.88 328.20,213.15 329.00,213.96 329.80,213.76 330.60,213.52 331.40,214.13 332.20,213.80 333.00,213.32 333.80,213.57 334.60,214.92 335.40,213.48 336.20,214.31 337.00,214.53 337.80,214.59 338.60,213.80 339.40,214.25 340.20,214.50 341.00,214.85 341.80,214.24 342.60,214.05 343.40,215.07 344.20,215.17 345.00,214.88 345.80,214.49 346.60,214.99 347.40,214.90 348.20,215.27 349.00,214.38 349.80,215.04 350.60,214.97 351.40,214.59 352.20,215.24 353.00,215.22 353.80,215.07 354.60,215.48 355.40,214.72 356.20,215.39 357.00,215.66 357.80,215.65 358.60,216.06 359.40,215.09 360.20,215.00 361.00,215.84 361.80,215.99 362.60,216.79 363.40,216.17 364.20,215.55 365.00,216.36 365.80,215.67 366.60,215.44 367.40,217.33 368.20,216.36 369.00,216.59 369.80,216.57 370.60,217.19 371.40,216.55 372.20,217.03 373.00,216.07 373.80,215.96 374.60,217.28 375.40,217.36 376.20,216.98 377.00,216.90 377.80,216.93 378.60,216.60 379.40,217.65 380.20,217.32 381.00,217.32 381.80,217.34 382.60,217.71 383.40,217.54 384.20,217.72 385.00,216.94 385.80,217.77 386.60,218.60 387.40,217.45 388.20,217.70 389.00,218.23 389.80,218.34 390.60,218.26 391.40,217.33 392.20,218.36 393.00,217.67 393.80,217.91 394.60,218.60 395.40,218.29 396.20,218.86 397.00,219.99 397.80,219.00 398.60,219.05 399.40,218.39 400.20,218.58 401.00,218.47 401.80,218.78 402.60,218.60 403.40,218.87 404.20,219.15 405.00,218.86 405.80,218.75 406.60,218.85" stroke="#e8474c" stroke-width="2.5" fill="none" stroke-linejoin="round" stroke-linecap="round" /><polyline points="57.00,202.77 58.60,202.32 60.20,203.04 61.80,202.89 63.40,201.61 65.00,202.18 66.60,200.94 68.20,203.44 69.80,202.77 71.40,201.84 73.00,201.93 74.60,201.83 76.20,201.48 77.80,202.14 79.40,202.90 81.00,202.11 82.60,202.02 84.20,202.36 85.80,202.25 87.40,201.61 89.00,201.97 90.60,201.86 92.20,202.82 93.80,201.52 95.40,203.38 97.00,202.58 98.60,203.50 100.20,201.72 101.80,202.26 103.40,202.16 105.00,201.80 106.60,202.56 108.20,202.80 109.80,202.24 111.40,202.85 113.00,202.18 114.60,202.38 116.20,202.95 117.80,202.99 119.40,202.40 121.00,203.96 122.60,203.06 124.20,203.90 125.80,202.93 127.40,203.44 129.00,202.96 130.60,203.97 132.20,203.54 133.80,202.87 135.40,203.92 137.00,203.93 138.60,203.83 140.20,204.39 141.80,205.93 143.40,204.21 145.00,202.89 146.60,204.25 148.20,204.41 149.80,204.43 151.40,205.28 153.00,204.59 154.60,205.79 156.20,205.55 157.80,205.27 159.40,205.32 161.00,205.24 162.60,205.13 164.20,205.19 165.80,205.08 167.40,205.34 169.00,205.49 170.60,205.87 172.20,205.90 173.80,205.25 175.40,205.92 177.00,205.48 178.60,206.35 180.20,206.14 181.80,205.85 183.40,206.86 185.00,207.04 186.60,206.65 188.20,207.10 189.80,207.62 191.40,207.37 193.00,207.07 194.60,207.90 196.20,207.99 197.80,207.00 199.40,207.53 201.00,207.77 202.60,207.62 204.20,208.64 205.80,208.40 207.40,208.23 209.00,208.26 210.60,208.53 212.20,208.62 213.80,208.34 215.40,207.84 217.00,208.91 218.60,208.04 220.20,209.66 221.80,209.21 223.40,208.45 225.00,209.14 226.60,209.06 228.20,208.73 229.80,209.30 231.40,208.60 233.00,209.53 234.60,210.02 236.20,209.62 237.80,210.08 239.40,210.05 241.00,209.95 242.60,210.69 244.20,210.47 245.80,210.11 247.40,210.85 249.00,211.36 250.60,210.62 252.20,210.46 253.80,209.41 255.40,210.62 257.00,210.85 258.60,212.21 260.20,210.43 261.80,210.89 263.40,210.95 265.00,211.22 266.60,211.38 268.20,211.69 269.80,211.73 271.40,211.79 273.00,211.75 274.60,212.00 276.20,211.40 277.80,211.08 279.40,212.50 281.00,211.30 282.60,211.36 284.20,211.45 285.80,211.60 287.40,211.18 289.00,211.72 290.60,211.91 292.20,212.32 293.80,212.33 295.40,211.92 297.00,212.77 298.60,211.92 300.20,212.61 301.80,212.29 303.40,211.92 305.00,212.40 306.60,212.94 308.20,213.41 309.80,213.70 311.40,212.88 313.00,212.92 314.60,212.89 316.20,213.95 317.80,213.13 319.40,213.63 321.00,213.60 322.60,214.36 324.20,214.04 325.80,213.21 327.40,214.40 329.00,214.04 330.60,213.53 332.20,214.24 333.80,213.88 335.40,213.46 337.00,214.69 338.60,213.48 340.20,214.31 341.80,213.56 343.40,215.44 345.00,214.31 346.60,215.19 348.20,215.02 349.80,214.75 351.40,214.54 353.00,215.30 354.60,215.67 356.20,215.92 357.80,215.76 359.40,215.35 361.00,215.66 362.60,217.01 364.20,215.60 365.80,215.53 367.40,217.31 369.00,216.57 370.60,217.25 372.20,217.15 373.80,215.81 375.40,217.13 377.00,217.13 378.60,216.09 380.20,217.13 381.80,217.80 383.40,216.73 385.00,216.73 386.60,218.80 388.20,217.21 389.80,219.12 391.40,216.55 393.00,218.10 394.60,219.07 396.20,219.14 397.80,218.93 399.40,218.50 401.00,218.20 402.60,218.84 404.20,218.81 405.80,218.67" stroke="#f39a9a" stroke-width="0.7" fill="none" stroke-linejoin="round" stroke-linecap="round" opacity="0.55"/><polyline points="57.00,211.45 57.80,207.57 58.60,205.34 59.40,205.57 60.20,204.90 61.00,206.02 61.80,205.65 62.60,204.82 63.40,205.48 64.20,205.15 65.00,205.20 65.80,205.53 66.60,205.18 67.40,205.93 68.20,205.18 69.00,205.94 69.80,205.48 70.60,205.89 71.40,205.26 72.20,205.27 73.00,204.98 73.80,205.76 74.60,205.92 75.40,206.45 76.20,206.08 77.00,205.61 77.80,205.41 78.60,205.67 79.40,205.49 80.20,206.16 81.00,205.92 81.80,205.12 82.60,205.19 83.40,206.12 84.20,205.64 85.00,205.40 85.80,206.03 86.60,205.33 87.40,205.37 88.20,205.29 89.00,204.62 89.80,205.89 90.60,204.96 91.40,205.24 92.20,205.17 93.00,205.83 93.80,205.47 94.60,205.51 95.40,204.74 96.20,205.46 97.00,204.84 97.80,205.64 98.60,205.67 99.40,205.49 100.20,206.42 101.00,205.74 101.80,205.77 102.60,205.56 103.40,205.41 104.20,205.93 105.00,206.00 105.80,204.91 106.60,205.97 107.40,205.73 108.20,205.93 109.00,205.71 109.80,204.94 110.60,205.01 111.40,206.41 112.20,205.76 113.00,205.06 113.80,205.91 114.60,205.64 115.40,205.03 116.20,204.88 117.00,205.25 117.80,206.14 118.60,206.05 119.40,206.01 120.20,206.31 121.00,206.50 121.80,205.34 122.60,206.20 123.40,206.02 124.20,205.89 125.00,206.25 125.80,206.50 126.60,206.49 127.40,206.01 128.20,206.50 129.00,207.67 129.80,206.35 130.60,206.11 131.40,207.05 132.20,207.25 133.00,207.24 133.80,206.58 134.60,207.59 135.40,206.84 136.20,206.74 137.00,207.03 137.80,207.30 138.60,207.73 139.40,207.74 140.20,207.50 141.00,207.99 141.80,207.66 142.60,208.08 143.40,207.09 144.20,207.07 145.00,208.18 145.80,207.26 146.60,207.80 147.40,207.95 148.20,207.83 149.00,207.90 149.80,208.78 150.60,207.07 151.40,208.66 152.20,209.35 153.00,208.38 153.80,208.41 154.60,208.80 155.40,209.35 156.20,208.05 157.00,208.67 157.80,208.60 158.60,208.99 159.40,208.86 160.20,209.14 161.00,208.71 161.80,208.98 162.60,208.71 163.40,208.76 164.20,209.05 165.00,209.10 165.80,208.69 166.60,209.98 167.40,209.27 168.20,208.76 169.00,209.93 169.80,209.15 170.60,209.75 171.40,209.54 172.20,209.69 173.00,209.68 173.80,209.37 174.60,209.67 175.40,210.59 176.20,208.70 177.00,209.76 177.80,209.95 178.60,209.31 179.40,209.19 180.20,210.81 181.00,209.69 181.80,210.82 182.60,210.16 183.40,209.97 184.20,210.18 185.00,210.28 185.80,210.55 186.60,210.24 187.40,210.14 188.20,210.18 189.00,210.73 189.80,210.52 190.60,209.73 191.40,209.92 192.20,210.38 193.00,209.98 193.80,210.11 194.60,209.88 195.40,210.22 196.20,210.55 197.00,210.83 197.80,210.42 198.60,211.37 199.40,210.43 200.20,211.93 201.00,210.97 201.80,210.77 202.60,210.35 203.40,209.33 204.20,210.55 205.00,210.73 205.80,211.54 206.60,210.08 207.40,211.59 208.20,210.64 209.00,211.11 209.80,209.66 210.60,210.90 211.40,210.71 212.20,211.19 213.00,210.95 213.80,210.43 214.60,211.39 215.40,211.30 216.20,211.29 217.00,211.50 217.80,211.57 218.60,211.09 219.40,210.51 220.20,210.53 221.00,211.78 221.80,211.52 222.60,211.27 223.40,211.06 224.20,211.30 225.00,211.32 225.80,211.18 226.60,211.05 227.40,212.36 228.20,211.52 229.00,211.17 229.80,210.88 230.60,211.16 231.40,211.84 232.20,211.88 233.00,211.47 233.80,211.62 234.60,211.49 235.40,211.15 236.20,212.26 237.00,211.87 237.80,212.84 238.60,211.41 239.40,211.72 240.20,212.21 241.00,211.74 241.80,211.27 242.60,211.51 243.40,212.03 244.20,212.18 245.00,212.02 245.80,212.56 246.60,212.60 247.40,212.34 248.20,212.25 249.00,212.17 249.80,212.57 250.60,212.78 251.40,212.44 252.20,212.65 253.00,212.35 253.80,211.90 254.60,212.13 255.40,212.97 256.20,212.87 257.00,213.42 257.80,212.77 258.60,213.18 259.40,213.43 260.20,213.32 261.00,212.65 261.80,212.88 262.60,213.06 263.40,212.60 264.20,213.30 265.00,213.59 265.80,212.96 266.60,214.11 267.40,213.13 268.20,213.21 269.00,213.24 269.80,213.07 270.60,213.62 271.40,213.49 272.20,214.27 273.00,213.84 273.80,213.85 274.60,213.55 275.40,213.06 276.20,213.70 277.00,213.40 277.80,214.26 278.60,213.86 279.40,214.67 280.20,214.29 281.00,214.38 281.80,214.15 282.60,214.19 283.40,214.43 284.20,214.60 285.00,213.91 285.80,214.49 286.60,215.49 287.40,214.32 288.20,214.29 289.00,214.13 289.80,213.84 290.60,215.01 291.40,214.48 292.20,214.56 293.00,215.22 293.80,215.49 294.60,213.93 295.40,214.78 296.20,214.56 297.00,214.43 297.80,214.44 298.60,214.18 299.40,214.88 300.20,214.41 301.00,214.26 301.80,214.64 302.60,214.45 303.40,214.23 304.20,214.14 305.00,214.75 305.80,214.16 306.60,213.86 307.40,213.49 308.20,213.69 309.00,213.34 309.80,213.84 310.60,213.88 311.40,212.81 312.20,213.71 313.00,213.97 313.80,213.72 314.60,213.19 315.40,214.21 316.20,213.40 317.00,213.23 317.80,213.37 318.60,213.92 319.40,214.45 320.20,214.60 321.00,214.24 321.80,213.69 322.60,214.00 323.40,213.96 324.20,214.36 325.00,213.72 325.80,214.64 326.60,214.95 327.40,214.67 328.20,215.01 329.00,214.46 329.80,214.30 330.60,214.74 331.40,215.62 332.20,215.64 333.00,215.04 333.80,215.86 334.60,215.25 335.40,216.15 336.20,215.76 337.00,215.41 337.80,216.04 338.60,215.41 339.40,215.41 340.20,215.25 341.00,216.09 341.80,216.03 342.60,216.09 343.40,216.01 344.20,216.92 345.00,216.15 345.80,216.09 346.60,217.05 347.40,217.20 348.20,216.79 349.00,215.93 349.80,216.51 350.60,217.13 351.40,216.93 352.20,217.70 353.00,216.45 353.80,217.45 354.60,216.93 355.40,217.88 356.20,217.32 357.00,217.89 357.80,217.21 358.60,216.94 359.40,217.15 360.20,217.44 361.00,217.33 361.80,218.40 362.60,218.54 363.40,218.13 364.20,217.61 365.00,218.10 365.80,217.91 366.60,218.95 367.40,218.51 368.20,218.66 369.00,218.33 369.80,217.68 370.60,218.31 371.40,218.22 372.20,218.96 373.00,218.91 373.80,218.58 374.60,218.84 375.40,219.79 376.20,218.73 377.00,218.82 377.80,219.20 378.60,219.06 379.40,219.25 380.20,219.78 381.00,220.46 381.80,219.03 382.60,219.96 383.40,220.14 384.20,220.22 385.00,220.32 385.80,220.40 386.60,221.15 387.40,220.63 388.20,220.93 389.00,221.13 389.80,221.33 390.60,221.35 391.40,222.02 392.20,221.71 393.00,221.94 393.80,221.98 394.60,221.70 395.40,221.92 396.20,221.97 397.00,222.67 397.80,222.41 398.60,222.40 399.40,223.13 400.20,223.40 401.00,222.52 401.80,224.22 402.60,223.62 403.40,223.70 404.20,224.37 405.00,224.07 405.80,223.91 406.60,225.31" stroke="#1f8a52" stroke-width="4.4" fill="none" stroke-linejoin="round" stroke-linecap="round" /><polyline points="57.00,211.45 57.80,207.57 58.60,205.34 59.40,205.57 60.20,204.90 61.00,206.02 61.80,205.65 62.60,204.82 63.40,205.48 64.20,205.15 65.00,205.20 65.80,205.53 66.60,205.18 67.40,205.93 68.20,205.18 69.00,205.94 69.80,205.48 70.60,205.89 71.40,205.26 72.20,205.27 73.00,204.98 73.80,205.76 74.60,205.92 75.40,206.45 76.20,206.08 77.00,205.61 77.80,205.41 78.60,205.67 79.40,205.49 80.20,206.16 81.00,205.92 81.80,205.12 82.60,205.19 83.40,206.12 84.20,205.64 85.00,205.40 85.80,206.03 86.60,205.33 87.40,205.37 88.20,205.29 89.00,204.62 89.80,205.89 90.60,204.96 91.40,205.24 92.20,205.17 93.00,205.83 93.80,205.47 94.60,205.51 95.40,204.74 96.20,205.46 97.00,204.84 97.80,205.64 98.60,205.67 99.40,205.49 100.20,206.42 101.00,205.74 101.80,205.77 102.60,205.56 103.40,205.41 104.20,205.93 105.00,206.00 105.80,204.91 106.60,205.97 107.40,205.73 108.20,205.93 109.00,205.71 109.80,204.94 110.60,205.01 111.40,206.41 112.20,205.76 113.00,205.06 113.80,205.91 114.60,205.64 115.40,205.03 116.20,204.88 117.00,205.25 117.80,206.14 118.60,206.05 119.40,206.01 120.20,206.31 121.00,206.50 121.80,205.34 122.60,206.20 123.40,206.02 124.20,205.89 125.00,206.25 125.80,206.50 126.60,206.49 127.40,206.01 128.20,206.50 129.00,207.67 129.80,206.35 130.60,206.11 131.40,207.05 132.20,207.25 133.00,207.24 133.80,206.58 134.60,207.59 135.40,206.84 136.20,206.74 137.00,207.03 137.80,207.30 138.60,207.73 139.40,207.74 140.20,207.50 141.00,207.99 141.80,207.66 142.60,208.08 143.40,207.09 144.20,207.07 145.00,208.18 145.80,207.26 146.60,207.80 147.40,207.95 148.20,207.83 149.00,207.90 149.80,208.78 150.60,207.07 151.40,208.66 152.20,209.35 153.00,208.38 153.80,208.41 154.60,208.80 155.40,209.35 156.20,208.05 157.00,208.67 157.80,208.60 158.60,208.99 159.40,208.86 160.20,209.14 161.00,208.71 161.80,208.98 162.60,208.71 163.40,208.76 164.20,209.05 165.00,209.10 165.80,208.69 166.60,209.98 167.40,209.27 168.20,208.76 169.00,209.93 169.80,209.15 170.60,209.75 171.40,209.54 172.20,209.69 173.00,209.68 173.80,209.37 174.60,209.67 175.40,210.59 176.20,208.70 177.00,209.76 177.80,209.95 178.60,209.31 179.40,209.19 180.20,210.81 181.00,209.69 181.80,210.82 182.60,210.16 183.40,209.97 184.20,210.18 185.00,210.28 185.80,210.55 186.60,210.24 187.40,210.14 188.20,210.18 189.00,210.73 189.80,210.52 190.60,209.73 191.40,209.92 192.20,210.38 193.00,209.98 193.80,210.11 194.60,209.88 195.40,210.22 196.20,210.55 197.00,210.83 197.80,210.42 198.60,211.37 199.40,210.43 200.20,211.93 201.00,210.97 201.80,210.77 202.60,210.35 203.40,209.33 204.20,210.55 205.00,210.73 205.80,211.54 206.60,210.08 207.40,211.59 208.20,210.64 209.00,211.11 209.80,209.66 210.60,210.90 211.40,210.71 212.20,211.19 213.00,210.95 213.80,210.43 214.60,211.39 215.40,211.30 216.20,211.29 217.00,211.50 217.80,211.57 218.60,211.09 219.40,210.51 220.20,210.53 221.00,211.78 221.80,211.52 222.60,211.27 223.40,211.06 224.20,211.30 225.00,211.32 225.80,211.18 226.60,211.05 227.40,212.36 228.20,211.52 229.00,211.17 229.80,210.88 230.60,211.16 231.40,211.84 232.20,211.88 233.00,211.47 233.80,211.62 234.60,211.49 235.40,211.15 236.20,212.26 237.00,211.87 237.80,212.84 238.60,211.41 239.40,211.72 240.20,212.21 241.00,211.74 241.80,211.27 242.60,211.51 243.40,212.03 244.20,212.18 245.00,212.02 245.80,212.56 246.60,212.60 247.40,212.34 248.20,212.25 249.00,212.17 249.80,212.57 250.60,212.78 251.40,212.44 252.20,212.65 253.00,212.35 253.80,211.90 254.60,212.13 255.40,212.97 256.20,212.87 257.00,213.42 257.80,212.77 258.60,213.18 259.40,213.43 260.20,213.32 261.00,212.65 261.80,212.88 262.60,213.06 263.40,212.60 264.20,213.30 265.00,213.59 265.80,212.96 266.60,214.11 267.40,213.13 268.20,213.21 269.00,213.24 269.80,213.07 270.60,213.62 271.40,213.49 272.20,214.27 273.00,213.84 273.80,213.85 274.60,213.55 275.40,213.06 276.20,213.70 277.00,213.40 277.80,214.26 278.60,213.86 279.40,214.67 280.20,214.29 281.00,214.38 281.80,214.15 282.60,214.19 283.40,214.43 284.20,214.60 285.00,213.91 285.80,214.49 286.60,215.49 287.40,214.32 288.20,214.29 289.00,214.13 289.80,213.84 290.60,215.01 291.40,214.48 292.20,214.56 293.00,215.22 293.80,215.49 294.60,213.93 295.40,214.78 296.20,214.56 297.00,214.43 297.80,214.44 298.60,214.18 299.40,214.88 300.20,214.41 301.00,214.26 301.80,214.64 302.60,214.45 303.40,214.23 304.20,214.14 305.00,214.75 305.80,214.16 306.60,213.86 307.40,213.49 308.20,213.69 309.00,213.34 309.80,213.84 310.60,213.88 311.40,212.81 312.20,213.71 313.00,213.97 313.80,213.72 314.60,213.19 315.40,214.21 316.20,213.40 317.00,213.23 317.80,213.37 318.60,213.92 319.40,214.45 320.20,214.60 321.00,214.24 321.80,213.69 322.60,214.00 323.40,213.96 324.20,214.36 325.00,213.72 325.80,214.64 326.60,214.95 327.40,214.67 328.20,215.01 329.00,214.46 329.80,214.30 330.60,214.74 331.40,215.62 332.20,215.64 333.00,215.04 333.80,215.86 334.60,215.25 335.40,216.15 336.20,215.76 337.00,215.41 337.80,216.04 338.60,215.41 339.40,215.41 340.20,215.25 341.00,216.09 341.80,216.03 342.60,216.09 343.40,216.01 344.20,216.92 345.00,216.15 345.80,216.09 346.60,217.05 347.40,217.20 348.20,216.79 349.00,215.93 349.80,216.51 350.60,217.13 351.40,216.93 352.20,217.70 353.00,216.45 353.80,217.45 354.60,216.93 355.40,217.88 356.20,217.32 357.00,217.89 357.80,217.21 358.60,216.94 359.40,217.15 360.20,217.44 361.00,217.33 361.80,218.40 362.60,218.54 363.40,218.13 364.20,217.61 365.00,218.10 365.80,217.91 366.60,218.95 367.40,218.51 368.20,218.66 369.00,218.33 369.80,217.68 370.60,218.31 371.40,218.22 372.20,218.96 373.00,218.91 373.80,218.58 374.60,218.84 375.40,219.79 376.20,218.73 377.00,218.82 377.80,219.20 378.60,219.06 379.40,219.25 380.20,219.78 381.00,220.46 381.80,219.03 382.60,219.96 383.40,220.14 384.20,220.22 385.00,220.32 385.80,220.40 386.60,221.15 387.40,220.63 388.20,220.93 389.00,221.13 389.80,221.33 390.60,221.35 391.40,222.02 392.20,221.71 393.00,221.94 393.80,221.98 394.60,221.70 395.40,221.92 396.20,221.97 397.00,222.67 397.80,222.41 398.60,222.40 399.40,223.13 400.20,223.40 401.00,222.52 401.80,224.22 402.60,223.62 403.40,223.70 404.20,224.37 405.00,224.07 405.80,223.91 406.60,225.31" stroke="#38b070" stroke-width="3.1000000000000005" fill="none" stroke-linejoin="round" stroke-linecap="round" /><polyline points="57.00,211.13 58.60,205.31 60.20,205.15 61.80,205.33 63.40,205.45 65.00,205.32 66.60,205.90 68.20,204.92 69.80,205.47 71.40,205.45 73.00,205.01 74.60,205.56 76.20,206.20 77.80,205.44 79.40,205.62 81.00,206.26 82.60,205.49 84.20,205.76 85.80,206.13 87.40,205.04 89.00,204.58 90.60,205.02 92.20,205.04 93.80,205.50 95.40,204.50 97.00,205.30 98.60,206.31 100.20,206.30 101.80,205.89 103.40,205.34 105.00,206.37 106.60,206.11 108.20,205.96 109.80,204.87 111.40,206.45 113.00,204.76 114.60,205.85 116.20,204.67 117.80,206.30 119.40,206.05 121.00,206.83 122.60,206.20 124.20,206.20 125.80,206.22 127.40,206.19 129.00,207.61 130.60,206.17 132.20,207.27 133.80,206.86 135.40,206.23 137.00,207.12 138.60,207.28 140.20,207.87 141.80,207.06 143.40,206.79 145.00,207.68 146.60,208.30 148.20,207.44 149.80,208.81 151.40,208.50 153.00,207.84 154.60,208.70 156.20,208.24 157.80,208.55 159.40,209.15 161.00,208.60 162.60,208.71 164.20,208.93 165.80,208.80 167.40,209.84 169.00,210.04 170.60,209.81 172.20,209.50 173.80,209.14 175.40,211.03 177.00,209.43 178.60,209.04 180.20,210.78 181.80,210.70 183.40,210.56 185.00,209.57 186.60,210.35 188.20,210.39 189.80,210.18 191.40,209.72 193.00,210.11 194.60,210.37 196.20,210.28 197.80,209.94 199.40,210.72 201.00,211.43 202.60,210.25 204.20,209.89 205.80,211.98 207.40,211.53 209.00,211.44 210.60,210.88 212.20,211.08 213.80,210.29 215.40,211.75 217.00,211.93 218.60,210.45 220.20,210.25 221.80,212.05 223.40,210.95 225.00,210.91 226.60,211.05 228.20,211.48 229.80,210.85 231.40,211.70 233.00,211.38 234.60,211.35 236.20,212.36 237.80,212.60 239.40,211.63 241.00,211.70 242.60,211.90 244.20,212.29 245.80,212.53 247.40,212.50 249.00,212.29 250.60,213.11 252.20,212.81 253.80,212.44 255.40,213.37 257.00,213.41 258.60,213.06 260.20,213.59 261.80,213.03 263.40,212.58 265.00,213.15 266.60,213.56 268.20,213.32 269.80,213.30 271.40,213.73 273.00,213.45 274.60,213.86 276.20,213.54 277.80,214.37 279.40,214.79 281.00,214.14 282.60,214.01 284.20,213.97 285.80,214.22 287.40,213.78 289.00,214.26 290.60,215.03 292.20,214.83 293.80,215.60 295.40,214.59 297.00,214.53 298.60,214.06 300.20,214.59 301.80,214.73 303.40,213.93 305.00,214.75 306.60,213.88 308.20,213.60 309.80,214.11 311.40,213.32 313.00,213.86 314.60,213.08 316.20,212.72 317.80,213.33 319.40,214.31 321.00,213.60 322.60,214.09 324.20,214.54 325.80,214.42 327.40,214.56 329.00,214.17 330.60,214.97 332.20,215.18 333.80,215.77 335.40,216.73 337.00,215.42 338.60,215.55 340.20,215.21 341.80,215.67 343.40,216.00 345.00,216.27 346.60,216.74 348.20,216.89 349.80,216.89 351.40,217.25 353.00,215.98 354.60,216.64 356.20,216.84 357.80,217.53 359.40,217.33 361.00,217.54 362.60,218.27 364.20,217.26 365.80,217.94 367.40,218.54 369.00,218.07 370.60,218.35 372.20,219.16 373.80,218.65 375.40,219.48 377.00,218.18 378.60,218.98 380.20,219.82 381.80,218.95 383.40,220.01 385.00,220.12 386.60,221.36 388.20,220.92 389.80,221.36 391.40,221.73 393.00,221.75 394.60,221.75 396.20,221.67 397.80,222.03 399.40,223.03 401.00,222.88 402.60,223.67 404.20,224.81 405.80,223.87" stroke="#8fd4a8" stroke-width="0.7" fill="none" stroke-linejoin="round" stroke-linecap="round" opacity="0.55"/><circle cx="57.3" cy="193.6" r="1.3" fill="#555" stroke="#333" stroke-width="0.4"/><polygon points="60.20,229.90 64.90,225.70 64.90,227.90 90.30,227.90 90.30,218.50 94.70,218.50 94.70,232.40 64.90,232.40 64.90,233.90" stroke="#505050" stroke-width="0.9" fill="#787878" /><polygon points="399.90,204.20 394.50,199.10 394.50,201.90 365.20,201.90 365.20,191.80 360.10,191.80 360.10,206.40 394.50,206.40 394.50,209.30" stroke="#484848" stroke-width="0.9" fill="#fff" /><rect x="56.5" y="177.2" width="350.7" height="128.0" fill="none" stroke="#3a3a3a" stroke-width="0.9"/><line x1="53.50" y1="305.20" x2="56.50" y2="305.20" stroke="#3a3a3a" stroke-width="0.8"/><text x="50.00" y="308.30" font-size="9" text-anchor="end" fill="#222" >0</text><line x1="53.50" y1="286.91" x2="56.50" y2="286.91" stroke="#3a3a3a" stroke-width="0.8"/><text x="50.00" y="290.01" font-size="9" text-anchor="end" fill="#222" >20</text><line x1="53.50" y1="268.63" x2="56.50" y2="268.63" stroke="#3a3a3a" stroke-width="0.8"/><text x="50.00" y="271.73" font-size="9" text-anchor="end" fill="#222" >40</text><line x1="53.50" y1="250.34" x2="56.50" y2="250.34" stroke="#3a3a3a" stroke-width="0.8"/><text x="50.00" y="253.44" font-size="9" text-anchor="end" fill="#222" >60</text><line x1="53.50" y1="232.06" x2="56.50" y2="232.06" stroke="#3a3a3a" stroke-width="0.8"/><text x="50.00" y="235.16" font-size="9" text-anchor="end" fill="#222" >80</text><line x1="53.50" y1="213.77" x2="56.50" y2="213.77" stroke="#3a3a3a" stroke-width="0.8"/><text x="50.00" y="216.87" font-size="9" text-anchor="end" fill="#222" >100</text><line x1="53.50" y1="195.49" x2="56.50" y2="195.49" stroke="#3a3a3a" stroke-width="0.8"/><text x="50.00" y="198.59" font-size="9" text-anchor="end" fill="#222" >120</text><line x1="53.50" y1="177.20" x2="56.50" y2="177.20" stroke="#3a3a3a" stroke-width="0.8"/><text x="50.00" y="180.30" font-size="9" text-anchor="end" fill="#222" >140</text><line x1="54.70" y1="296.06" x2="56.50" y2="296.06" stroke="#3a3a3a" stroke-width="0.7"/><line x1="54.70" y1="277.77" x2="56.50" y2="277.77" stroke="#3a3a3a" stroke-width="0.7"/><line x1="54.70" y1="259.49" x2="56.50" y2="259.49" stroke="#3a3a3a" stroke-width="0.7"/><line x1="54.70" y1="241.20" x2="56.50" y2="241.20" stroke="#3a3a3a" stroke-width="0.7"/><line x1="54.70" y1="222.91" x2="56.50" y2="222.91" stroke="#3a3a3a" stroke-width="0.7"/><line x1="54.70" y1="204.63" x2="56.50" y2="204.63" stroke="#3a3a3a" stroke-width="0.7"/><line x1="54.70" y1="186.34" x2="56.50" y2="186.34" stroke="#3a3a3a" stroke-width="0.7"/><line x1="407.20" y1="305.20" x2="410.20" y2="305.20" stroke="#3a3a3a" stroke-width="0.8"/><text x="413.20" y="308.30" font-size="9" text-anchor="start" fill="#222" >0</text><line x1="407.20" y1="280.78" x2="410.20" y2="280.78" stroke="#3a3a3a" stroke-width="0.8"/><text x="413.20" y="283.88" font-size="9" text-anchor="start" fill="#222" >20</text><line x1="407.20" y1="256.36" x2="410.20" y2="256.36" stroke="#3a3a3a" stroke-width="0.8"/><text x="413.20" y="259.46" font-size="9" text-anchor="start" fill="#222" >40</text><line x1="407.20" y1="231.94" x2="410.20" y2="231.94" stroke="#3a3a3a" stroke-width="0.8"/><text x="413.20" y="235.04" font-size="9" text-anchor="start" fill="#222" >60</text><line x1="407.20" y1="207.52" x2="410.20" y2="207.52" stroke="#3a3a3a" stroke-width="0.8"/><text x="413.20" y="210.62" font-size="9" text-anchor="start" fill="#222" >80</text><line x1="407.20" y1="183.10" x2="410.20" y2="183.10" stroke="#3a3a3a" stroke-width="0.8"/><text x="413.20" y="186.20" font-size="9" text-anchor="start" fill="#222" >100</text><line x1="407.20" y1="292.99" x2="409.00" y2="292.99" stroke="#3a3a3a" stroke-width="0.7"/><line x1="407.20" y1="268.57" x2="409.00" y2="268.57" stroke="#3a3a3a" stroke-width="0.7"/><line x1="407.20" y1="244.15" x2="409.00" y2="244.15" stroke="#3a3a3a" stroke-width="0.7"/><line x1="407.20" y1="219.73" x2="409.00" y2="219.73" stroke="#3a3a3a" stroke-width="0.7"/><line x1="407.20" y1="195.31" x2="409.00" y2="195.31" stroke="#3a3a3a" stroke-width="0.7"/><line x1="56.50" y1="305.20" x2="56.50" y2="308.20" stroke="#3a3a3a" stroke-width="0.8"/><text x="56.50" y="318.20" font-size="9" text-anchor="middle" fill="#222" >0</text><line x1="126.64" y1="305.20" x2="126.64" y2="308.20" stroke="#3a3a3a" stroke-width="0.8"/><text x="126.64" y="318.20" font-size="9" text-anchor="middle" fill="#222" >200</text><line x1="196.78" y1="305.20" x2="196.78" y2="308.20" stroke="#3a3a3a" stroke-width="0.8"/><text x="196.78" y="318.20" font-size="9" text-anchor="middle" fill="#222" >400</text><line x1="266.92" y1="305.20" x2="266.92" y2="308.20" stroke="#3a3a3a" stroke-width="0.8"/><text x="266.92" y="318.20" font-size="9" text-anchor="middle" fill="#222" >600</text><line x1="337.06" y1="305.20" x2="337.06" y2="308.20" stroke="#3a3a3a" stroke-width="0.8"/><text x="337.06" y="318.20" font-size="9" text-anchor="middle" fill="#222" >800</text><line x1="407.20" y1="305.20" x2="407.20" y2="308.20" stroke="#3a3a3a" stroke-width="0.8"/><text x="407.20" y="318.20" font-size="9" text-anchor="middle" fill="#222" >1000</text><line x1="91.57" y1="305.20" x2="91.57" y2="307.00" stroke="#3a3a3a" stroke-width="0.7"/><line x1="161.71" y1="305.20" x2="161.71" y2="307.00" stroke="#3a3a3a" stroke-width="0.7"/><line x1="231.85" y1="305.20" x2="231.85" y2="307.00" stroke="#3a3a3a" stroke-width="0.7"/><line x1="301.99" y1="305.20" x2="301.99" y2="307.00" stroke="#3a3a3a" stroke-width="0.7"/><line x1="372.13" y1="305.20" x2="372.13" y2="307.00" stroke="#3a3a3a" stroke-width="0.7"/><text x="231.60" y="328.80" font-size="8.8" text-anchor="middle" fill="#222" >Cycle number</text><text transform="translate(32.2,239.7) rotate(-90)" font-size="8.8" text-anchor="middle" fill="#222">Specific capacity (mA·h·g<tspan font-size="5.9" dy="-3.1">-1</tspan><tspan dy="3.1">)</tspan></text><text transform="translate(435,241) rotate(-90)" font-size="8.6" text-anchor="middle" fill="#222">CE (%)</text><text x="226.30" y="233.10" font-size="9.8" text-anchor="middle" fill="#222" >2C</text><circle cx="67.8" cy="262.00" r="2.3" fill="#3c3c3c" stroke="#888" stroke-width="0.6"/><text x="80.80" y="265.10" font-size="8.6" text-anchor="start" fill="#222" >LNMO</text><circle cx="67.8" cy="273.05" r="2.3" fill="#2a6fc0" stroke="#888" stroke-width="0.6"/><text x="80.80" y="276.15" font-size="8.6" text-anchor="start" fill="#222" >LNMO-T0.02</text><circle cx="67.8" cy="284.10" r="2.3" fill="#e0393e" stroke="#888" stroke-width="0.6"/><text x="80.80" y="287.20" font-size="8.6" text-anchor="start" fill="#222" >LNMO-T0.05</text><circle cx="67.8" cy="295.15" r="2.3" fill="#2ea56a" stroke="#888" stroke-width="0.6"/><text x="80.80" y="298.25" font-size="8.6" text-anchor="start" fill="#222" >LNMO-T0.10</text><text x="4.80" y="367.60" font-size="14.5" text-anchor="start" fill="#1a1a1a" >d</text><polygon points="38.00,368.30 123.40,342.20 123.20,414.50 45.00,448.70" stroke="#6b6b60" stroke-width="0.5" fill="#f8f5c6" /><polygon points="123.40,342.20 207.10,367.80 202.00,448.50 123.20,414.50" stroke="#6b6b60" stroke-width="0.5" fill="#f7da8e" /><polygon points="45.00,448.70 123.20,414.50 202.00,448.50 122.50,494.50" stroke="#6b6b60" stroke-width="0.5" fill="#d4ea92" /><line x1="57.81" y1="362.24" x2="63.14" y2="440.77" stroke="#aaa58c" stroke-width="0.55"/><line x1="39.40" y1="384.38" x2="123.36" y2="356.66" stroke="#aaa58c" stroke-width="0.55"/><line x1="75.49" y1="356.84" x2="79.33" y2="433.69" stroke="#aaa58c" stroke-width="0.55"/><line x1="40.80" y1="400.46" x2="123.32" y2="371.12" stroke="#aaa58c" stroke-width="0.55"/><line x1="92.66" y1="351.60" x2="95.05" y2="426.81" stroke="#aaa58c" stroke-width="0.55"/><line x1="42.20" y1="416.54" x2="123.28" y2="385.58" stroke="#aaa58c" stroke-width="0.55"/><line x1="108.63" y1="346.72" x2="109.67" y2="420.42" stroke="#aaa58c" stroke-width="0.55"/><line x1="43.60" y1="432.62" x2="123.24" y2="400.04" stroke="#aaa58c" stroke-width="0.55"/><line x1="133.44" y1="345.27" x2="132.66" y2="418.58" stroke="#a39a80" stroke-width="0.55"/><line x1="144.16" y1="348.55" x2="142.74" y2="422.93" stroke="#a39a80" stroke-width="0.55"/><line x1="155.96" y1="352.16" x2="153.85" y2="427.73" stroke="#a39a80" stroke-width="0.55"/><line x1="168.68" y1="356.05" x2="165.83" y2="432.89" stroke="#a39a80" stroke-width="0.55"/><line x1="181.57" y1="359.99" x2="177.97" y2="438.13" stroke="#a39a80" stroke-width="0.55"/><line x1="193.29" y1="363.58" x2="189.00" y2="442.89" stroke="#a39a80" stroke-width="0.55"/><line x1="123.36" y1="356.66" x2="206.08" y2="383.94" stroke="#a39a80" stroke-width="0.55"/><line x1="123.32" y1="371.12" x2="205.06" y2="400.08" stroke="#a39a80" stroke-width="0.55"/><line x1="123.28" y1="385.58" x2="204.04" y2="416.22" stroke="#a39a80" stroke-width="0.55"/><line x1="123.24" y1="400.04" x2="203.02" y2="432.36" stroke="#a39a80" stroke-width="0.55"/><line x1="56.07" y1="455.24" x2="134.46" y2="419.36" stroke="#8f9c78" stroke-width="0.55"/><line x1="67.14" y1="461.79" x2="145.71" y2="424.21" stroke="#8f9c78" stroke-width="0.55"/><line x1="78.21" y1="468.33" x2="156.97" y2="429.07" stroke="#8f9c78" stroke-width="0.55"/><line x1="89.29" y1="474.87" x2="168.23" y2="433.93" stroke="#8f9c78" stroke-width="0.55"/><line x1="100.36" y1="481.41" x2="179.49" y2="438.79" stroke="#8f9c78" stroke-width="0.55"/><line x1="111.43" y1="487.96" x2="190.74" y2="443.64" stroke="#8f9c78" stroke-width="0.55"/><line x1="60.64" y1="441.86" x2="138.40" y2="485.30" stroke="#8f9c78" stroke-width="0.55"/><line x1="76.28" y1="435.02" x2="154.30" y2="476.10" stroke="#8f9c78" stroke-width="0.55"/><line x1="91.92" y1="428.18" x2="170.20" y2="466.90" stroke="#8f9c78" stroke-width="0.55"/><line x1="107.56" y1="421.34" x2="186.10" y2="457.70" stroke="#8f9c78" stroke-width="0.55"/><polyline points="45.00,448.70 38.00,368.30 123.40,342.20 207.10,367.80 202.00,448.50" stroke="#55554a" stroke-width="0.7" fill="none" stroke-linejoin="round" stroke-linecap="round" /><line x1="33.50" y1="368.80" x2="38.00" y2="368.30" stroke="#444" stroke-width="0.6"/><text transform="translate(23.35,374.80) rotate(-20)" font-size="5.3" text-anchor="middle" fill="#333">1000</text><line x1="34.90" y1="384.88" x2="39.40" y2="384.38" stroke="#444" stroke-width="0.6"/><text transform="translate(24.25,392.60) rotate(-20)" font-size="5.3" text-anchor="middle" fill="#333">800</text><line x1="36.30" y1="400.96" x2="40.80" y2="400.46" stroke="#444" stroke-width="0.6"/><text transform="translate(25.45,409.10) rotate(-20)" font-size="5.3" text-anchor="middle" fill="#333">600</text><line x1="37.70" y1="417.04" x2="42.20" y2="416.54" stroke="#444" stroke-width="0.6"/><text transform="translate(26.65,425.70) rotate(-20)" font-size="5.3" text-anchor="middle" fill="#333">400</text><line x1="39.10" y1="433.12" x2="43.60" y2="432.62" stroke="#444" stroke-width="0.6"/><text transform="translate(30.15,442.20) rotate(-20)" font-size="5.3" text-anchor="middle" fill="#333">200</text><line x1="40.50" y1="449.20" x2="45.00" y2="448.70" stroke="#444" stroke-width="0.6"/><text transform="translate(34.45,456.40) rotate(-20)" font-size="5.3" text-anchor="middle" fill="#333">0</text><text transform="translate(19.5,419.5) rotate(-80)" font-size="5" text-anchor="middle" fill="#333">-Z'' (Ω)</text><line x1="50.54" y1="451.97" x2="47.54" y2="453.17" stroke="#444" stroke-width="0.6"/><text transform="translate(43.20,459.60) rotate(33)" font-size="5.8" text-anchor="middle" fill="#333">4.95</text><line x1="61.61" y1="458.51" x2="58.61" y2="459.71" stroke="#444" stroke-width="0.6"/><text transform="translate(55.00,466.70) rotate(33)" font-size="5.8" text-anchor="middle" fill="#333">4.85</text><line x1="72.68" y1="465.06" x2="69.68" y2="466.26" stroke="#444" stroke-width="0.6"/><text transform="translate(65.70,473.40) rotate(33)" font-size="5.8" text-anchor="middle" fill="#333">4.75</text><line x1="83.75" y1="471.60" x2="80.75" y2="472.80" stroke="#444" stroke-width="0.6"/><text transform="translate(76.80,480.10) rotate(33)" font-size="5.8" text-anchor="middle" fill="#333">4.65</text><line x1="94.82" y1="478.14" x2="91.82" y2="479.34" stroke="#444" stroke-width="0.6"/><text transform="translate(88.60,488.00) rotate(33)" font-size="5.8" text-anchor="middle" fill="#333">4.55</text><line x1="105.89" y1="484.69" x2="102.89" y2="485.89" stroke="#444" stroke-width="0.6"/><text transform="translate(101.60,494.80) rotate(33)" font-size="5.8" text-anchor="middle" fill="#333">4.00</text><text transform="translate(42.6,467.5) rotate(35)" font-size="4.4" fill="#555">Potential (V vs.Li<tspan font-size="3.5" dy="-1.5">+</tspan><tspan dy="1.5">/Li)</tspan></text><line x1="122.50" y1="494.50" x2="126.50" y2="496.50" stroke="#444" stroke-width="0.6"/><text transform="matrix(0.906,0.423,-0.4,0.693,133.64,502.92)" font-size="5.6" text-anchor="middle" fill="#333">0</text><line x1="138.40" y1="485.30" x2="142.40" y2="487.30" stroke="#444" stroke-width="0.6"/><text transform="matrix(0.906,0.423,-0.4,0.693,154.54,493.72)" font-size="5.6" text-anchor="middle" fill="#333">200</text><line x1="154.30" y1="476.10" x2="158.30" y2="478.10" stroke="#444" stroke-width="0.6"/><text transform="matrix(0.906,0.423,-0.4,0.693,171.44,484.52)" font-size="5.6" text-anchor="middle" fill="#333">400</text><line x1="170.20" y1="466.90" x2="174.20" y2="468.90" stroke="#444" stroke-width="0.6"/><text transform="matrix(0.906,0.423,-0.4,0.693,185.34,474.52)" font-size="5.6" text-anchor="middle" fill="#333">600</text><line x1="186.10" y1="457.70" x2="190.10" y2="459.70" stroke="#444" stroke-width="0.6"/><text transform="matrix(0.906,0.423,-0.4,0.693,200.94,465.82)" font-size="5.6" text-anchor="middle" fill="#333">800</text><line x1="202.00" y1="448.50" x2="206.00" y2="450.50" stroke="#444" stroke-width="0.6"/><text transform="matrix(0.906,0.423,-0.4,0.693,216.44,456.92)" font-size="5.6" text-anchor="middle" fill="#333">1000</text><text transform="matrix(0.866,-0.5,0.69,0.41,188.20,484.10)" font-size="5.6" text-anchor="middle" fill="#333">Z' (Ω)</text><line x1="148.80" y1="371.90" x2="164.80" y2="371.90" stroke="#4a4a55" stroke-width="1.1"/><circle cx="156.8" cy="371.9" r="1.5" fill="#9a9aa8" stroke="#2a2a35" stroke-width="0.5"/><line x1="148.80" y1="381.00" x2="164.80" y2="381.00" stroke="#e03035" stroke-width="1.1"/><circle cx="156.8" cy="381" r="1.5" fill="#f4a0a0" stroke="#c42025" stroke-width="0.5"/><text x="166.80" y="374.40" font-size="6.6" text-anchor="start" fill="#333" >LNMO</text><text x="166.80" y="383.50" font-size="6.6" text-anchor="start" fill="#333" >LNMO-T0.05</text><text x="156.50" y="392.80" font-size="6.5" text-anchor="start" fill="#333" >1<tspan font-size="4.3" dy="-2.2">st</tspan><tspan dy="2.2"> charge</tspan></text><path d="M52.10,451.10 C53.02,450.70 55.88,450.15 57.60,448.70 C59.32,447.25 60.82,444.23 62.40,442.40 C63.98,440.57 65.27,439.68 67.10,437.70 C68.93,435.72 71.17,432.48 73.40,430.50 C75.63,428.52 78.12,427.50 80.50,425.80 C82.88,424.10 85.18,422.53 87.70,420.30 C90.22,418.07 93.37,414.65 95.60,412.40 C97.83,410.15 99.53,408.43 101.10,406.80 C102.67,405.17 103.82,403.83 105.00,402.60 C106.18,401.37 107.67,399.93 108.20,399.40" stroke="#8a181c" stroke-width="4.2" fill="none" stroke-linejoin="round" stroke-linecap="round" /><path d="M52.10,451.10 C53.02,450.70 55.88,450.15 57.60,448.70 C59.32,447.25 60.82,444.23 62.40,442.40 C63.98,440.57 65.27,439.68 67.10,437.70 C68.93,435.72 71.17,432.48 73.40,430.50 C75.63,428.52 78.12,427.50 80.50,425.80 C82.88,424.10 85.18,422.53 87.70,420.30 C90.22,418.07 93.37,414.65 95.60,412.40 C97.83,410.15 99.53,408.43 101.10,406.80 C102.67,405.17 103.82,403.83 105.00,402.60 C106.18,401.37 107.67,399.93 108.20,399.40" stroke="#dc383d" stroke-width="3.0" fill="none" stroke-linejoin="round" stroke-linecap="round" /><path d="M51.50,450.40 C52.42,450.00 55.28,449.45 57.00,448.00 C58.72,446.55 60.22,443.53 61.80,441.70 C63.38,439.87 64.67,438.98 66.50,437.00 C68.33,435.02 70.57,431.78 72.80,429.80 C75.03,427.82 77.52,426.80 79.90,425.10 C82.28,423.40 84.58,421.83 87.10,419.60 C89.62,417.37 92.77,413.95 95.00,411.70 C97.23,409.45 98.93,407.73 100.50,406.10 C102.07,404.47 103.22,403.13 104.40,401.90 C105.58,400.67 107.07,399.23 107.60,398.70" stroke="#f7a0a2" stroke-width="0.9" fill="none" stroke-linejoin="round" stroke-linecap="round" /><path d="M54.50,452.70 C55.55,452.03 58.70,449.88 60.80,448.70 C62.90,447.52 65.13,447.43 67.10,445.60 C69.07,443.77 70.48,439.82 72.60,437.70 C74.72,435.58 77.03,435.28 79.80,432.90 C82.57,430.52 86.32,426.55 89.20,423.40 C92.08,420.25 94.72,416.88 97.10,414.00 C99.48,411.12 102.05,407.95 103.50,406.10 C104.95,404.25 105.42,403.43 105.80,402.90" stroke="#222226" stroke-width="4.2" fill="none" stroke-linejoin="round" stroke-linecap="round" /><path d="M54.50,452.70 C55.55,452.03 58.70,449.88 60.80,448.70 C62.90,447.52 65.13,447.43 67.10,445.60 C69.07,443.77 70.48,439.82 72.60,437.70 C74.72,435.58 77.03,435.28 79.80,432.90 C82.57,430.52 86.32,426.55 89.20,423.40 C92.08,420.25 94.72,416.88 97.10,414.00 C99.48,411.12 102.05,407.95 103.50,406.10 C104.95,404.25 105.42,403.43 105.80,402.90" stroke="#4c4c54" stroke-width="3.0" fill="none" stroke-linejoin="round" stroke-linecap="round" /><path d="M53.90,452.00 C54.95,451.33 58.10,449.18 60.20,448.00 C62.30,446.82 64.53,446.73 66.50,444.90 C68.47,443.07 69.88,439.12 72.00,437.00 C74.12,434.88 76.43,434.58 79.20,432.20 C81.97,429.82 85.72,425.85 88.60,422.70 C91.48,419.55 94.12,416.18 96.50,413.30 C98.88,410.42 101.45,407.25 102.90,405.40 C104.35,403.55 104.82,402.73 105.20,402.20" stroke="#c4c4ca" stroke-width="0.8" fill="none" stroke-linejoin="round" stroke-linecap="round" /><path d="M61.60,458.20 C62.35,457.45 64.40,454.83 66.10,453.70 C67.80,452.57 70.10,452.15 71.80,451.40 C73.50,450.65 74.80,449.95 76.30,449.20 C77.80,448.45 79.12,448.03 80.80,446.90 C82.48,445.77 84.70,444.08 86.40,442.40 C88.10,440.72 89.48,438.57 91.00,436.80 C92.52,435.03 94.75,432.63 95.50,431.80" stroke="#8a181c" stroke-width="4.2" fill="none" stroke-linejoin="round" stroke-linecap="round" /><path d="M61.60,458.20 C62.35,457.45 64.40,454.83 66.10,453.70 C67.80,452.57 70.10,452.15 71.80,451.40 C73.50,450.65 74.80,449.95 76.30,449.20 C77.80,448.45 79.12,448.03 80.80,446.90 C82.48,445.77 84.70,444.08 86.40,442.40 C88.10,440.72 89.48,438.57 91.00,436.80 C92.52,435.03 94.75,432.63 95.50,431.80" stroke="#dc383d" stroke-width="3.0" fill="none" stroke-linejoin="round" stroke-linecap="round" /><path d="M61.00,457.50 C61.75,456.75 63.80,454.13 65.50,453.00 C67.20,451.87 69.50,451.45 71.20,450.70 C72.90,449.95 74.20,449.25 75.70,448.50 C77.20,447.75 78.52,447.33 80.20,446.20 C81.88,445.07 84.10,443.38 85.80,441.70 C87.50,440.02 88.88,437.87 90.40,436.10 C91.92,434.33 94.15,431.93 94.90,431.10" stroke="#f7a0a2" stroke-width="0.9" fill="none" stroke-linejoin="round" stroke-linecap="round" /><path d="M63.90,460.50 C64.83,459.75 67.63,457.13 69.50,456.00 C71.37,454.87 73.22,454.47 75.10,453.70 C76.98,452.93 78.92,452.53 80.80,451.40 C82.68,450.27 84.70,448.40 86.40,446.90 C88.10,445.40 89.68,443.90 91.00,442.40 C92.32,440.90 93.75,438.65 94.30,437.90" stroke="#222226" stroke-width="4.2" fill="none" stroke-linejoin="round" stroke-linecap="round" /><path d="M63.90,460.50 C64.83,459.75 67.63,457.13 69.50,456.00 C71.37,454.87 73.22,454.47 75.10,453.70 C76.98,452.93 78.92,452.53 80.80,451.40 C82.68,450.27 84.70,448.40 86.40,446.90 C88.10,445.40 89.68,443.90 91.00,442.40 C92.32,440.90 93.75,438.65 94.30,437.90" stroke="#4c4c54" stroke-width="3.0" fill="none" stroke-linejoin="round" stroke-linecap="round" /><path d="M63.30,459.80 C64.23,459.05 67.03,456.43 68.90,455.30 C70.77,454.17 72.62,453.77 74.50,453.00 C76.38,452.23 78.32,451.83 80.20,450.70 C82.08,449.57 84.10,447.70 85.80,446.20 C87.50,444.70 89.08,443.20 90.40,441.70 C91.72,440.20 93.15,437.95 93.70,437.20" stroke="#c4c4ca" stroke-width="0.8" fill="none" stroke-linejoin="round" stroke-linecap="round" /><path d="M72.90,463.90 C73.83,463.13 76.62,460.43 78.50,459.30 C80.38,458.17 82.50,458.03 84.20,457.10 C85.90,456.17 87.20,455.02 88.70,453.70 C90.20,452.38 91.88,450.33 93.20,449.20 C94.52,448.07 96.03,447.28 96.60,446.90" stroke="#8a181c" stroke-width="4.2" fill="none" stroke-linejoin="round" stroke-linecap="round" /><path d="M72.90,463.90 C73.83,463.13 76.62,460.43 78.50,459.30 C80.38,458.17 82.50,458.03 84.20,457.10 C85.90,456.17 87.20,455.02 88.70,453.70 C90.20,452.38 91.88,450.33 93.20,449.20 C94.52,448.07 96.03,447.28 96.60,446.90" stroke="#dc383d" stroke-width="3.0" fill="none" stroke-linejoin="round" stroke-linecap="round" /><path d="M72.30,463.20 C73.23,462.43 76.02,459.73 77.90,458.60 C79.78,457.47 81.90,457.33 83.60,456.40 C85.30,455.47 86.60,454.32 88.10,453.00 C89.60,451.68 91.28,449.63 92.60,448.50 C93.92,447.37 95.43,446.58 96.00,446.20" stroke="#f7a0a2" stroke-width="0.9" fill="none" stroke-linejoin="round" stroke-linecap="round" /><path d="M75.10,466.10 C76.23,465.35 79.82,462.73 81.90,461.60 C83.98,460.47 85.90,460.43 87.60,459.30 C89.30,458.17 90.98,455.92 92.10,454.80 C93.22,453.68 93.93,452.97 94.30,452.60" stroke="#222226" stroke-width="4.2" fill="none" stroke-linejoin="round" stroke-linecap="round" /><path d="M75.10,466.10 C76.23,465.35 79.82,462.73 81.90,461.60 C83.98,460.47 85.90,460.43 87.60,459.30 C89.30,458.17 90.98,455.92 92.10,454.80 C93.22,453.68 93.93,452.97 94.30,452.60" stroke="#4c4c54" stroke-width="3.0" fill="none" stroke-linejoin="round" stroke-linecap="round" /><path d="M74.50,465.40 C75.63,464.65 79.22,462.03 81.30,460.90 C83.38,459.77 85.30,459.73 87.00,458.60 C88.70,457.47 90.38,455.22 91.50,454.10 C92.62,452.98 93.33,452.27 93.70,451.90" stroke="#c4c4ca" stroke-width="0.8" fill="none" stroke-linejoin="round" stroke-linecap="round" /><path d="M84.20,470.60 C85.13,469.85 87.92,467.03 89.80,466.10 C91.68,465.17 93.80,465.75 95.50,465.00 C97.20,464.25 98.50,462.92 100.00,461.60 C101.50,460.28 103.00,458.42 104.50,457.10 C106.00,455.78 108.25,454.27 109.00,453.70" stroke="#8a181c" stroke-width="4.2" fill="none" stroke-linejoin="round" stroke-linecap="round" /><path d="M84.20,470.60 C85.13,469.85 87.92,467.03 89.80,466.10 C91.68,465.17 93.80,465.75 95.50,465.00 C97.20,464.25 98.50,462.92 100.00,461.60 C101.50,460.28 103.00,458.42 104.50,457.10 C106.00,455.78 108.25,454.27 109.00,453.70" stroke="#dc383d" stroke-width="3.0" fill="none" stroke-linejoin="round" stroke-linecap="round" /><path d="M83.60,469.90 C84.53,469.15 87.32,466.33 89.20,465.40 C91.08,464.47 93.20,465.05 94.90,464.30 C96.60,463.55 97.90,462.22 99.40,460.90 C100.90,459.58 102.40,457.72 103.90,456.40 C105.40,455.08 107.65,453.57 108.40,453.00" stroke="#f7a0a2" stroke-width="0.9" fill="none" stroke-linejoin="round" stroke-linecap="round" /><path d="M86.40,472.90 C87.53,472.15 91.13,469.35 93.20,468.40 C95.27,467.45 97.10,467.95 98.80,467.20 C100.50,466.45 101.88,465.22 103.40,463.90 C104.92,462.58 107.15,460.07 107.90,459.30" stroke="#222226" stroke-width="4.2" fill="none" stroke-linejoin="round" stroke-linecap="round" /><path d="M86.40,472.90 C87.53,472.15 91.13,469.35 93.20,468.40 C95.27,467.45 97.10,467.95 98.80,467.20 C100.50,466.45 101.88,465.22 103.40,463.90 C104.92,462.58 107.15,460.07 107.90,459.30" stroke="#4c4c54" stroke-width="3.0" fill="none" stroke-linejoin="round" stroke-linecap="round" /><path d="M85.80,472.20 C86.93,471.45 90.53,468.65 92.60,467.70 C94.67,466.75 96.50,467.25 98.20,466.50 C99.90,465.75 101.28,464.52 102.80,463.20 C104.32,461.88 106.55,459.37 107.30,458.60" stroke="#c4c4ca" stroke-width="0.8" fill="none" stroke-linejoin="round" stroke-linecap="round" /><path d="M95.50,478.50 C96.25,477.75 98.13,475.12 100.00,474.00 C101.87,472.88 104.45,472.73 106.70,471.80 C108.95,470.87 111.42,470.10 113.50,468.40 C115.58,466.70 117.32,464.05 119.20,461.60 C121.08,459.15 123.12,455.58 124.80,453.70 C126.48,451.82 128.55,450.87 129.30,450.30" stroke="#8a181c" stroke-width="4.2" fill="none" stroke-linejoin="round" stroke-linecap="round" /><path d="M95.50,478.50 C96.25,477.75 98.13,475.12 100.00,474.00 C101.87,472.88 104.45,472.73 106.70,471.80 C108.95,470.87 111.42,470.10 113.50,468.40 C115.58,466.70 117.32,464.05 119.20,461.60 C121.08,459.15 123.12,455.58 124.80,453.70 C126.48,451.82 128.55,450.87 129.30,450.30" stroke="#dc383d" stroke-width="3.0" fill="none" stroke-linejoin="round" stroke-linecap="round" /><path d="M94.90,477.80 C95.65,477.05 97.53,474.42 99.40,473.30 C101.27,472.18 103.85,472.03 106.10,471.10 C108.35,470.17 110.82,469.40 112.90,467.70 C114.98,466.00 116.72,463.35 118.60,460.90 C120.48,458.45 122.52,454.88 124.20,453.00 C125.88,451.12 127.95,450.17 128.70,449.60" stroke="#f7a0a2" stroke-width="0.9" fill="none" stroke-linejoin="round" stroke-linecap="round" /><path d="M97.70,480.80 C98.83,480.05 102.23,477.43 104.50,476.30 C106.77,475.17 109.05,475.13 111.30,474.00 C113.55,472.87 116.12,471.18 118.00,469.50 C119.88,467.82 121.08,465.78 122.60,463.90 C124.12,462.02 126.35,459.15 127.10,458.20" stroke="#222226" stroke-width="4.2" fill="none" stroke-linejoin="round" stroke-linecap="round" /><path d="M97.70,480.80 C98.83,480.05 102.23,477.43 104.50,476.30 C106.77,475.17 109.05,475.13 111.30,474.00 C113.55,472.87 116.12,471.18 118.00,469.50 C119.88,467.82 121.08,465.78 122.60,463.90 C124.12,462.02 126.35,459.15 127.10,458.20" stroke="#4c4c54" stroke-width="3.0" fill="none" stroke-linejoin="round" stroke-linecap="round" /><path d="M97.10,480.10 C98.23,479.35 101.63,476.73 103.90,475.60 C106.17,474.47 108.45,474.43 110.70,473.30 C112.95,472.17 115.52,470.48 117.40,468.80 C119.28,467.12 120.48,465.08 122.00,463.20 C123.52,461.32 125.75,458.45 126.50,457.50" stroke="#c4c4ca" stroke-width="0.8" fill="none" stroke-linejoin="round" stroke-linecap="round" /><path d="M106.90,485.80 C107.47,485.42 108.85,484.22 110.30,483.50 C111.75,482.78 114.22,482.25 115.60,481.50 C116.98,480.75 117.48,480.58 118.60,479.00 C119.72,477.42 121.27,474.83 122.30,472.00 C123.33,469.17 123.77,465.12 124.80,462.00 C125.83,458.88 127.88,454.75 128.50,453.30" stroke="#8a181c" stroke-width="3.7" fill="none" stroke-linejoin="round" stroke-linecap="round" /><path d="M106.90,485.80 C107.47,485.42 108.85,484.22 110.30,483.50 C111.75,482.78 114.22,482.25 115.60,481.50 C116.98,480.75 117.48,480.58 118.60,479.00 C119.72,477.42 121.27,474.83 122.30,472.00 C123.33,469.17 123.77,465.12 124.80,462.00 C125.83,458.88 127.88,454.75 128.50,453.30" stroke="#dc383d" stroke-width="2.5" fill="none" stroke-linejoin="round" stroke-linecap="round" /><path d="M106.30,485.10 C106.87,484.72 108.25,483.52 109.70,482.80 C111.15,482.08 113.62,481.55 115.00,480.80 C116.38,480.05 116.88,479.88 118.00,478.30 C119.12,476.72 120.67,474.13 121.70,471.30 C122.73,468.47 123.17,464.42 124.20,461.30 C125.23,458.18 127.28,454.05 127.90,452.60" stroke="#f7a0a2" stroke-width="0.9" fill="none" stroke-linejoin="round" stroke-linecap="round" /><polyline points="128.82,452.92 130.75,450.62 132.67,448.32 134.60,446.02 136.71,443.89 138.83,441.77 140.96,439.64 143.08,437.52 145.44,435.68 147.84,433.88 150.24,432.09 152.65,430.29 155.11,428.59 157.61,426.92 160.10,425.25 162.59,423.58 165.11,421.94 167.69,420.42 170.27,418.89 172.86,417.37 175.41,415.80 177.92,414.15 180.43,412.51 182.94,410.86 185.05,408.83 186.62,406.28 188.19,403.72" stroke="#7a1518" stroke-width="1.3" fill="none" stroke-linejoin="round" stroke-linecap="round" /><circle cx="128.82" cy="452.92" r="1.75" fill="url(#gR)" stroke="#7a1518" stroke-width="0.3"/><circle cx="130.75" cy="450.62" r="1.75" fill="url(#gR)" stroke="#7a1518" stroke-width="0.3"/><circle cx="132.67" cy="448.32" r="1.75" fill="url(#gR)" stroke="#7a1518" stroke-width="0.3"/><circle cx="134.60" cy="446.02" r="1.75" fill="url(#gR)" stroke="#7a1518" stroke-width="0.3"/><circle cx="136.71" cy="443.89" r="1.75" fill="url(#gR)" stroke="#7a1518" stroke-width="0.3"/><circle cx="138.83" cy="441.77" r="1.75" fill="url(#gR)" stroke="#7a1518" stroke-width="0.3"/><circle cx="140.96" cy="439.64" r="1.75" fill="url(#gR)" stroke="#7a1518" stroke-width="0.3"/><circle cx="143.08" cy="437.52" r="1.75" fill="url(#gR)" stroke="#7a1518" stroke-width="0.3"/><circle cx="145.44" cy="435.68" r="1.75" fill="url(#gR)" stroke="#7a1518" stroke-width="0.3"/><circle cx="147.84" cy="433.88" r="1.75" fill="url(#gR)" stroke="#7a1518" stroke-width="0.3"/><circle cx="150.24" cy="432.09" r="1.75" fill="url(#gR)" stroke="#7a1518" stroke-width="0.3"/><circle cx="152.65" cy="430.29" r="1.75" fill="url(#gR)" stroke="#7a1518" stroke-width="0.3"/><circle cx="155.11" cy="428.59" r="1.75" fill="url(#gR)" stroke="#7a1518" stroke-width="0.3"/><circle cx="157.61" cy="426.92" r="1.75" fill="url(#gR)" stroke="#7a1518" stroke-width="0.3"/><circle cx="160.10" cy="425.25" r="1.75" fill="url(#gR)" stroke="#7a1518" stroke-width="0.3"/><circle cx="162.59" cy="423.58" r="1.75" fill="url(#gR)" stroke="#7a1518" stroke-width="0.3"/><circle cx="165.11" cy="421.94" r="1.75" fill="url(#gR)" stroke="#7a1518" stroke-width="0.3"/><circle cx="167.69" cy="420.42" r="1.75" fill="url(#gR)" stroke="#7a1518" stroke-width="0.3"/><circle cx="170.27" cy="418.89" r="1.75" fill="url(#gR)" stroke="#7a1518" stroke-width="0.3"/><circle cx="172.86" cy="417.37" r="1.75" fill="url(#gR)" stroke="#7a1518" stroke-width="0.3"/><circle cx="175.41" cy="415.80" r="1.75" fill="url(#gR)" stroke="#7a1518" stroke-width="0.3"/><circle cx="177.92" cy="414.15" r="1.75" fill="url(#gR)" stroke="#7a1518" stroke-width="0.3"/><circle cx="180.43" cy="412.51" r="1.75" fill="url(#gR)" stroke="#7a1518" stroke-width="0.3"/><circle cx="182.94" cy="410.86" r="1.75" fill="url(#gR)" stroke="#7a1518" stroke-width="0.3"/><circle cx="185.05" cy="408.83" r="1.75" fill="url(#gR)" stroke="#7a1518" stroke-width="0.3"/><circle cx="186.62" cy="406.28" r="1.75" fill="url(#gR)" stroke="#7a1518" stroke-width="0.3"/><circle cx="188.19" cy="403.72" r="1.75" fill="url(#gR)" stroke="#7a1518" stroke-width="0.3"/><path d="M109.20,488.40 C109.93,488.37 112.05,488.60 113.60,488.20 C115.15,487.80 117.25,486.83 118.50,486.00 C119.75,485.17 120.05,485.12 121.10,483.20 C122.15,481.28 123.57,477.40 124.80,474.50 C126.03,471.60 126.85,468.70 128.50,465.80 C130.15,462.90 133.67,458.55 134.70,457.10" stroke="#222226" stroke-width="3.7" fill="none" stroke-linejoin="round" stroke-linecap="round" /><path d="M109.20,488.40 C109.93,488.37 112.05,488.60 113.60,488.20 C115.15,487.80 117.25,486.83 118.50,486.00 C119.75,485.17 120.05,485.12 121.10,483.20 C122.15,481.28 123.57,477.40 124.80,474.50 C126.03,471.60 126.85,468.70 128.50,465.80 C130.15,462.90 133.67,458.55 134.70,457.10" stroke="#4c4c54" stroke-width="2.5" fill="none" stroke-linejoin="round" stroke-linecap="round" /><path d="M108.60,487.70 C109.33,487.67 111.45,487.90 113.00,487.50 C114.55,487.10 116.65,486.13 117.90,485.30 C119.15,484.47 119.45,484.42 120.50,482.50 C121.55,480.58 122.97,476.70 124.20,473.80 C125.43,470.90 126.25,468.00 127.90,465.10 C129.55,462.20 133.07,457.85 134.10,456.40" stroke="#c4c4ca" stroke-width="0.8" fill="none" stroke-linejoin="round" stroke-linecap="round" /><polyline points="135.05,456.75 137.17,454.63 139.30,452.50 141.42,450.38 143.56,448.28 145.96,446.49 148.36,444.69 150.77,442.89 153.17,441.10 155.54,439.26 157.91,437.42 160.28,435.58 162.65,433.74 165.02,431.91 167.42,430.11 169.82,428.31 172.22,426.51 174.61,424.69 176.73,422.57 178.85,420.45 180.97,418.33 183.09,416.21 184.59,413.61 186.05,410.99 187.52,408.37 188.98,405.75" stroke="#202024" stroke-width="1.3" fill="none" stroke-linejoin="round" stroke-linecap="round" /><circle cx="135.05" cy="456.75" r="1.75" fill="url(#gK)" stroke="#1c1c20" stroke-width="0.3"/><circle cx="137.17" cy="454.63" r="1.75" fill="url(#gK)" stroke="#1c1c20" stroke-width="0.3"/><circle cx="139.30" cy="452.50" r="1.75" fill="url(#gK)" stroke="#1c1c20" stroke-width="0.3"/><circle cx="141.42" cy="450.38" r="1.75" fill="url(#gK)" stroke="#1c1c20" stroke-width="0.3"/><circle cx="143.56" cy="448.28" r="1.75" fill="url(#gK)" stroke="#1c1c20" stroke-width="0.3"/><circle cx="145.96" cy="446.49" r="1.75" fill="url(#gK)" stroke="#1c1c20" stroke-width="0.3"/><circle cx="148.36" cy="444.69" r="1.75" fill="url(#gK)" stroke="#1c1c20" stroke-width="0.3"/><circle cx="150.77" cy="442.89" r="1.75" fill="url(#gK)" stroke="#1c1c20" stroke-width="0.3"/><circle cx="153.17" cy="441.10" r="1.75" fill="url(#gK)" stroke="#1c1c20" stroke-width="0.3"/><circle cx="155.54" cy="439.26" r="1.75" fill="url(#gK)" stroke="#1c1c20" stroke-width="0.3"/><circle cx="157.91" cy="437.42" r="1.75" fill="url(#gK)" stroke="#1c1c20" stroke-width="0.3"/><circle cx="160.28" cy="435.58" r="1.75" fill="url(#gK)" stroke="#1c1c20" stroke-width="0.3"/><circle cx="162.65" cy="433.74" r="1.75" fill="url(#gK)" stroke="#1c1c20" stroke-width="0.3"/><circle cx="165.02" cy="431.91" r="1.75" fill="url(#gK)" stroke="#1c1c20" stroke-width="0.3"/><circle cx="167.42" cy="430.11" r="1.75" fill="url(#gK)" stroke="#1c1c20" stroke-width="0.3"/><circle cx="169.82" cy="428.31" r="1.75" fill="url(#gK)" stroke="#1c1c20" stroke-width="0.3"/><circle cx="172.22" cy="426.51" r="1.75" fill="url(#gK)" stroke="#1c1c20" stroke-width="0.3"/><circle cx="174.61" cy="424.69" r="1.75" fill="url(#gK)" stroke="#1c1c20" stroke-width="0.3"/><circle cx="176.73" cy="422.57" r="1.75" fill="url(#gK)" stroke="#1c1c20" stroke-width="0.3"/><circle cx="178.85" cy="420.45" r="1.75" fill="url(#gK)" stroke="#1c1c20" stroke-width="0.3"/><circle cx="180.97" cy="418.33" r="1.75" fill="url(#gK)" stroke="#1c1c20" stroke-width="0.3"/><circle cx="183.09" cy="416.21" r="1.75" fill="url(#gK)" stroke="#1c1c20" stroke-width="0.3"/><circle cx="184.59" cy="413.61" r="1.75" fill="url(#gK)" stroke="#1c1c20" stroke-width="0.3"/><circle cx="186.05" cy="410.99" r="1.75" fill="url(#gK)" stroke="#1c1c20" stroke-width="0.3"/><circle cx="187.52" cy="408.37" r="1.75" fill="url(#gK)" stroke="#1c1c20" stroke-width="0.3"/><circle cx="188.98" cy="405.75" r="1.75" fill="url(#gK)" stroke="#1c1c20" stroke-width="0.3"/><circle cx="108.3" cy="399.3" r="2" fill="url(#gR)" stroke="#7a1518" stroke-width="0.4"/><circle cx="105.3" cy="402.6" r="1.7" fill="url(#gR)" stroke="#7a1518" stroke-width="0.3"/><text x="223.60" y="367.60" font-size="14.5" text-anchor="start" fill="#1a1a1a" >e</text><polygon points="253.00,368.30 338.40,342.20 338.20,414.50 260.00,448.70" stroke="#6b6b60" stroke-width="0.5" fill="#f8f5c6" /><polygon points="338.40,342.20 422.10,367.80 417.00,448.50 338.20,414.50" stroke="#6b6b60" stroke-width="0.5" fill="#f7da8e" /><polygon points="260.00,448.70 338.20,414.50 417.00,448.50 337.50,494.50" stroke="#6b6b60" stroke-width="0.5" fill="#d4ea92" /><line x1="272.81" y1="362.24" x2="278.14" y2="440.77" stroke="#aaa58c" stroke-width="0.55"/><line x1="254.40" y1="384.38" x2="338.36" y2="356.66" stroke="#aaa58c" stroke-width="0.55"/><line x1="290.49" y1="356.84" x2="294.33" y2="433.69" stroke="#aaa58c" stroke-width="0.55"/><line x1="255.80" y1="400.46" x2="338.32" y2="371.12" stroke="#aaa58c" stroke-width="0.55"/><line x1="307.66" y1="351.60" x2="310.05" y2="426.81" stroke="#aaa58c" stroke-width="0.55"/><line x1="257.20" y1="416.54" x2="338.28" y2="385.58" stroke="#aaa58c" stroke-width="0.55"/><line x1="323.63" y1="346.72" x2="324.67" y2="420.42" stroke="#aaa58c" stroke-width="0.55"/><line x1="258.60" y1="432.62" x2="338.24" y2="400.04" stroke="#aaa58c" stroke-width="0.55"/><line x1="348.44" y1="345.27" x2="347.66" y2="418.58" stroke="#a39a80" stroke-width="0.55"/><line x1="359.16" y1="348.55" x2="357.74" y2="422.93" stroke="#a39a80" stroke-width="0.55"/><line x1="370.96" y1="352.16" x2="368.85" y2="427.73" stroke="#a39a80" stroke-width="0.55"/><line x1="383.68" y1="356.05" x2="380.83" y2="432.89" stroke="#a39a80" stroke-width="0.55"/><line x1="396.57" y1="359.99" x2="392.97" y2="438.13" stroke="#a39a80" stroke-width="0.55"/><line x1="408.29" y1="363.58" x2="404.00" y2="442.89" stroke="#a39a80" stroke-width="0.55"/><line x1="338.36" y1="356.66" x2="421.08" y2="383.94" stroke="#a39a80" stroke-width="0.55"/><line x1="338.32" y1="371.12" x2="420.06" y2="400.08" stroke="#a39a80" stroke-width="0.55"/><line x1="338.28" y1="385.58" x2="419.04" y2="416.22" stroke="#a39a80" stroke-width="0.55"/><line x1="338.24" y1="400.04" x2="418.02" y2="432.36" stroke="#a39a80" stroke-width="0.55"/><line x1="271.07" y1="455.24" x2="349.46" y2="419.36" stroke="#8f9c78" stroke-width="0.55"/><line x1="282.14" y1="461.79" x2="360.71" y2="424.21" stroke="#8f9c78" stroke-width="0.55"/><line x1="293.21" y1="468.33" x2="371.97" y2="429.07" stroke="#8f9c78" stroke-width="0.55"/><line x1="304.29" y1="474.87" x2="383.23" y2="433.93" stroke="#8f9c78" stroke-width="0.55"/><line x1="315.36" y1="481.41" x2="394.49" y2="438.79" stroke="#8f9c78" stroke-width="0.55"/><line x1="326.43" y1="487.96" x2="405.74" y2="443.64" stroke="#8f9c78" stroke-width="0.55"/><line x1="275.64" y1="441.86" x2="353.40" y2="485.30" stroke="#8f9c78" stroke-width="0.55"/><line x1="291.28" y1="435.02" x2="369.30" y2="476.10" stroke="#8f9c78" stroke-width="0.55"/><line x1="306.92" y1="428.18" x2="385.20" y2="466.90" stroke="#8f9c78" stroke-width="0.55"/><line x1="322.56" y1="421.34" x2="401.10" y2="457.70" stroke="#8f9c78" stroke-width="0.55"/><polyline points="260.00,448.70 253.00,368.30 338.40,342.20 422.10,367.80 417.00,448.50" stroke="#55554a" stroke-width="0.7" fill="none" stroke-linejoin="round" stroke-linecap="round" /><line x1="248.50" y1="368.80" x2="253.00" y2="368.30" stroke="#444" stroke-width="0.6"/><text transform="translate(238.35,374.80) rotate(-20)" font-size="5.3" text-anchor="middle" fill="#333">1000</text><line x1="249.90" y1="384.88" x2="254.40" y2="384.38" stroke="#444" stroke-width="0.6"/><text transform="translate(239.25,392.60) rotate(-20)" font-size="5.3" text-anchor="middle" fill="#333">800</text><line x1="251.30" y1="400.96" x2="255.80" y2="400.46" stroke="#444" stroke-width="0.6"/><text transform="translate(240.45,409.10) rotate(-20)" font-size="5.3" text-anchor="middle" fill="#333">600</text><line x1="252.70" y1="417.04" x2="257.20" y2="416.54" stroke="#444" stroke-width="0.6"/><text transform="translate(241.65,425.70) rotate(-20)" font-size="5.3" text-anchor="middle" fill="#333">400</text><line x1="254.10" y1="433.12" x2="258.60" y2="432.62" stroke="#444" stroke-width="0.6"/><text transform="translate(245.15,442.20) rotate(-20)" font-size="5.3" text-anchor="middle" fill="#333">200</text><line x1="255.50" y1="449.20" x2="260.00" y2="448.70" stroke="#444" stroke-width="0.6"/><text transform="translate(249.45,456.40) rotate(-20)" font-size="5.3" text-anchor="middle" fill="#333">0</text><text transform="translate(234.5,419.5) rotate(-80)" font-size="5" text-anchor="middle" fill="#333">-Z'' (Ω)</text><line x1="265.54" y1="451.97" x2="262.54" y2="453.17" stroke="#444" stroke-width="0.6"/><text transform="translate(258.20,459.60) rotate(33)" font-size="5.8" text-anchor="middle" fill="#333">4.95</text><line x1="276.61" y1="458.51" x2="273.61" y2="459.71" stroke="#444" stroke-width="0.6"/><text transform="translate(270.00,466.70) rotate(33)" font-size="5.8" text-anchor="middle" fill="#333">4.85</text><line x1="287.68" y1="465.06" x2="284.68" y2="466.26" stroke="#444" stroke-width="0.6"/><text transform="translate(280.70,473.40) rotate(33)" font-size="5.8" text-anchor="middle" fill="#333">4.75</text><line x1="298.75" y1="471.60" x2="295.75" y2="472.80" stroke="#444" stroke-width="0.6"/><text transform="translate(291.80,480.10) rotate(33)" font-size="5.8" text-anchor="middle" fill="#333">4.65</text><line x1="309.82" y1="478.14" x2="306.82" y2="479.34" stroke="#444" stroke-width="0.6"/><text transform="translate(303.60,488.00) rotate(33)" font-size="5.8" text-anchor="middle" fill="#333">4.55</text><line x1="320.89" y1="484.69" x2="317.89" y2="485.89" stroke="#444" stroke-width="0.6"/><text transform="translate(316.60,494.80) rotate(33)" font-size="5.8" text-anchor="middle" fill="#333">4.00</text><text transform="translate(257.6,467.5) rotate(35)" font-size="4.4" fill="#555">Potential (V vs.Li<tspan font-size="3.5" dy="-1.5">+</tspan><tspan dy="1.5">/Li)</tspan></text><line x1="337.50" y1="494.50" x2="341.50" y2="496.50" stroke="#444" stroke-width="0.6"/><text transform="matrix(0.906,0.423,-0.4,0.693,348.64,502.92)" font-size="5.6" text-anchor="middle" fill="#333">0</text><line x1="353.40" y1="485.30" x2="357.40" y2="487.30" stroke="#444" stroke-width="0.6"/><text transform="matrix(0.906,0.423,-0.4,0.693,369.54,493.72)" font-size="5.6" text-anchor="middle" fill="#333">200</text><line x1="369.30" y1="476.10" x2="373.30" y2="478.10" stroke="#444" stroke-width="0.6"/><text transform="matrix(0.906,0.423,-0.4,0.693,386.44,484.52)" font-size="5.6" text-anchor="middle" fill="#333">400</text><line x1="385.20" y1="466.90" x2="389.20" y2="468.90" stroke="#444" stroke-width="0.6"/><text transform="matrix(0.906,0.423,-0.4,0.693,400.34,474.52)" font-size="5.6" text-anchor="middle" fill="#333">600</text><line x1="401.10" y1="457.70" x2="405.10" y2="459.70" stroke="#444" stroke-width="0.6"/><text transform="matrix(0.906,0.423,-0.4,0.693,415.94,465.82)" font-size="5.6" text-anchor="middle" fill="#333">800</text><line x1="417.00" y1="448.50" x2="421.00" y2="450.50" stroke="#444" stroke-width="0.6"/><text transform="matrix(0.906,0.423,-0.4,0.693,431.44,456.92)" font-size="5.6" text-anchor="middle" fill="#333">1000</text><text transform="matrix(0.866,-0.5,0.69,0.41,403.20,484.10)" font-size="5.6" text-anchor="middle" fill="#333">Z' (Ω)</text><line x1="363.80" y1="371.90" x2="379.80" y2="371.90" stroke="#4a4a55" stroke-width="1.1"/><circle cx="371.8" cy="371.9" r="1.5" fill="#9a9aa8" stroke="#2a2a35" stroke-width="0.5"/><line x1="363.80" y1="381.00" x2="379.80" y2="381.00" stroke="#e03035" stroke-width="1.1"/><circle cx="371.8" cy="381" r="1.5" fill="#f4a0a0" stroke="#c42025" stroke-width="0.5"/><text x="381.80" y="374.40" font-size="6.6" text-anchor="start" fill="#333" >LNMO</text><text x="381.80" y="383.50" font-size="6.6" text-anchor="start" fill="#333" >LNMO-T0.05</text><text x="365.80" y="390.60" font-size="6.5" text-anchor="start" fill="#333" >1001<tspan font-size="4.3" dy="-2.2">th</tspan><tspan dy="2.2">-charge</tspan></text><path d="M268.10,451.90 C268.70,450.83 270.50,447.77 271.70,445.50 C272.90,443.23 274.08,440.55 275.30,438.30 C276.52,436.05 277.33,433.95 279.00,432.00 C280.67,430.05 283.05,428.25 285.30,426.60 C287.55,424.95 290.10,423.30 292.50,422.10 C294.90,420.90 297.30,420.30 299.70,419.40 C302.10,418.50 304.80,417.45 306.90,416.70 C309.00,415.95 310.78,415.82 312.30,414.90 C313.82,413.98 315.38,411.82 316.00,411.20" stroke="#8a181c" stroke-width="3.7" fill="none" stroke-linejoin="round" stroke-linecap="round" /><path d="M268.10,451.90 C268.70,450.83 270.50,447.77 271.70,445.50 C272.90,443.23 274.08,440.55 275.30,438.30 C276.52,436.05 277.33,433.95 279.00,432.00 C280.67,430.05 283.05,428.25 285.30,426.60 C287.55,424.95 290.10,423.30 292.50,422.10 C294.90,420.90 297.30,420.30 299.70,419.40 C302.10,418.50 304.80,417.45 306.90,416.70 C309.00,415.95 310.78,415.82 312.30,414.90 C313.82,413.98 315.38,411.82 316.00,411.20" stroke="#dc383d" stroke-width="2.5" fill="none" stroke-linejoin="round" stroke-linecap="round" /><path d="M267.50,451.20 C268.10,450.13 269.90,447.07 271.10,444.80 C272.30,442.53 273.48,439.85 274.70,437.60 C275.92,435.35 276.73,433.25 278.40,431.30 C280.07,429.35 282.45,427.55 284.70,425.90 C286.95,424.25 289.50,422.60 291.90,421.40 C294.30,420.20 296.70,419.60 299.10,418.70 C301.50,417.80 304.20,416.75 306.30,416.00 C308.40,415.25 310.18,415.12 311.70,414.20 C313.22,413.28 314.78,411.12 315.40,410.50" stroke="#f7a0a2" stroke-width="0.9" fill="none" stroke-linejoin="round" stroke-linecap="round" /><path d="M269.00,452.80 C269.60,451.75 271.52,448.80 272.60,446.50 C273.68,444.20 274.35,441.50 275.50,439.00 C276.65,436.50 278.83,432.75 279.50,431.50" stroke="#222226" stroke-width="3.7" fill="none" stroke-linejoin="round" stroke-linecap="round" /><path d="M269.00,452.80 C269.60,451.75 271.52,448.80 272.60,446.50 C273.68,444.20 274.35,441.50 275.50,439.00 C276.65,436.50 278.83,432.75 279.50,431.50" stroke="#4c4c54" stroke-width="2.5" fill="none" stroke-linejoin="round" stroke-linecap="round" /><path d="M268.40,452.10 C269.00,451.05 270.92,448.10 272.00,445.80 C273.08,443.50 273.75,440.80 274.90,438.30 C276.05,435.80 278.23,432.05 278.90,430.80" stroke="#c4c4ca" stroke-width="0.8" fill="none" stroke-linejoin="round" stroke-linecap="round" /><polyline points="279.50,431.50 280.99,429.01 282.48,426.53 283.98,424.04 286.02,421.98 288.07,419.93 290.21,417.99 292.56,416.29 294.91,414.59 297.42,413.17 300.08,412.01 302.73,410.84 305.48,409.94 308.27,409.14 311.06,408.35 313.88,407.69 316.73,407.12 319.57,406.56 322.41,405.96 325.23,405.30 328.05,404.63 330.63,403.34 333.15,401.91 335.67,400.47" stroke="#202024" stroke-width="1.3" fill="none" stroke-linejoin="round" stroke-linecap="round" /><circle cx="279.50" cy="431.50" r="1.6" fill="url(#gK)" stroke="#1c1c20" stroke-width="0.3"/><circle cx="280.99" cy="429.01" r="1.6" fill="url(#gK)" stroke="#1c1c20" stroke-width="0.3"/><circle cx="282.48" cy="426.53" r="1.6" fill="url(#gK)" stroke="#1c1c20" stroke-width="0.3"/><circle cx="283.98" cy="424.04" r="1.6" fill="url(#gK)" stroke="#1c1c20" stroke-width="0.3"/><circle cx="286.02" cy="421.98" r="1.6" fill="url(#gK)" stroke="#1c1c20" stroke-width="0.3"/><circle cx="288.07" cy="419.93" r="1.6" fill="url(#gK)" stroke="#1c1c20" stroke-width="0.3"/><circle cx="290.21" cy="417.99" r="1.6" fill="url(#gK)" stroke="#1c1c20" stroke-width="0.3"/><circle cx="292.56" cy="416.29" r="1.6" fill="url(#gK)" stroke="#1c1c20" stroke-width="0.3"/><circle cx="294.91" cy="414.59" r="1.6" fill="url(#gK)" stroke="#1c1c20" stroke-width="0.3"/><circle cx="297.42" cy="413.17" r="1.6" fill="url(#gK)" stroke="#1c1c20" stroke-width="0.3"/><circle cx="300.08" cy="412.01" r="1.6" fill="url(#gK)" stroke="#1c1c20" stroke-width="0.3"/><circle cx="302.73" cy="410.84" r="1.6" fill="url(#gK)" stroke="#1c1c20" stroke-width="0.3"/><circle cx="305.48" cy="409.94" r="1.6" fill="url(#gK)" stroke="#1c1c20" stroke-width="0.3"/><circle cx="308.27" cy="409.14" r="1.6" fill="url(#gK)" stroke="#1c1c20" stroke-width="0.3"/><circle cx="311.06" cy="408.35" r="1.6" fill="url(#gK)" stroke="#1c1c20" stroke-width="0.3"/><circle cx="313.88" cy="407.69" r="1.6" fill="url(#gK)" stroke="#1c1c20" stroke-width="0.3"/><circle cx="316.73" cy="407.12" r="1.6" fill="url(#gK)" stroke="#1c1c20" stroke-width="0.3"/><circle cx="319.57" cy="406.56" r="1.6" fill="url(#gK)" stroke="#1c1c20" stroke-width="0.3"/><circle cx="322.41" cy="405.96" r="1.6" fill="url(#gK)" stroke="#1c1c20" stroke-width="0.3"/><circle cx="325.23" cy="405.30" r="1.6" fill="url(#gK)" stroke="#1c1c20" stroke-width="0.3"/><circle cx="328.05" cy="404.63" r="1.6" fill="url(#gK)" stroke="#1c1c20" stroke-width="0.3"/><circle cx="330.63" cy="403.34" r="1.6" fill="url(#gK)" stroke="#1c1c20" stroke-width="0.3"/><circle cx="333.15" cy="401.91" r="1.6" fill="url(#gK)" stroke="#1c1c20" stroke-width="0.3"/><circle cx="335.67" cy="400.47" r="1.6" fill="url(#gK)" stroke="#1c1c20" stroke-width="0.3"/><path d="M277.10,457.30 C278.17,456.40 281.08,453.72 283.50,451.90 C285.92,450.08 289.35,447.92 291.60,446.40 C293.85,444.88 295.28,444.15 297.00,442.80 C298.72,441.45 301.08,439.05 301.90,438.30" stroke="#8a181c" stroke-width="4.0" fill="none" stroke-linejoin="round" stroke-linecap="round" /><path d="M277.10,457.30 C278.17,456.40 281.08,453.72 283.50,451.90 C285.92,450.08 289.35,447.92 291.60,446.40 C293.85,444.88 295.28,444.15 297.00,442.80 C298.72,441.45 301.08,439.05 301.90,438.30" stroke="#dc383d" stroke-width="2.8" fill="none" stroke-linejoin="round" stroke-linecap="round" /><path d="M276.50,456.60 C277.57,455.70 280.48,453.02 282.90,451.20 C285.32,449.38 288.75,447.22 291.00,445.70 C293.25,444.18 294.68,443.45 296.40,442.10 C298.12,440.75 300.48,438.35 301.30,437.60" stroke="#f7a0a2" stroke-width="0.9" fill="none" stroke-linejoin="round" stroke-linecap="round" /><path d="M278.00,459.10 C278.92,458.35 281.08,456.25 283.50,454.60 C285.92,452.95 289.80,450.72 292.50,449.20 C295.20,447.68 297.60,446.87 299.70,445.50 C301.80,444.13 303.45,442.62 305.10,441.00 C306.75,439.38 308.85,436.67 309.60,435.80" stroke="#222226" stroke-width="4.0" fill="none" stroke-linejoin="round" stroke-linecap="round" /><path d="M278.00,459.10 C278.92,458.35 281.08,456.25 283.50,454.60 C285.92,452.95 289.80,450.72 292.50,449.20 C295.20,447.68 297.60,446.87 299.70,445.50 C301.80,444.13 303.45,442.62 305.10,441.00 C306.75,439.38 308.85,436.67 309.60,435.80" stroke="#4c4c54" stroke-width="2.8" fill="none" stroke-linejoin="round" stroke-linecap="round" /><path d="M277.40,458.40 C278.32,457.65 280.48,455.55 282.90,453.90 C285.32,452.25 289.20,450.02 291.90,448.50 C294.60,446.98 297.00,446.17 299.10,444.80 C301.20,443.43 302.85,441.92 304.50,440.30 C306.15,438.68 308.25,435.97 309.00,435.10" stroke="#c4c4ca" stroke-width="0.8" fill="none" stroke-linejoin="round" stroke-linecap="round" /><path d="M285.90,463.10 L290.50,461.20" stroke="#8a181c" stroke-width="4.6" fill="none" stroke-linejoin="round" stroke-linecap="round" /><path d="M285.90,463.10 L290.50,461.20" stroke="#dc383d" stroke-width="3.3999999999999995" fill="none" stroke-linejoin="round" stroke-linecap="round" /><path d="M285.30,462.40 L289.90,460.50" stroke="#f7a0a2" stroke-width="0.9" fill="none" stroke-linejoin="round" stroke-linecap="round" /><path d="M293.30,458.40 L297.90,456.60" stroke="#8a181c" stroke-width="4.6" fill="none" stroke-linejoin="round" stroke-linecap="round" /><path d="M293.30,458.40 L297.90,456.60" stroke="#dc383d" stroke-width="3.3999999999999995" fill="none" stroke-linejoin="round" stroke-linecap="round" /><path d="M292.70,457.70 L297.30,455.90" stroke="#f7a0a2" stroke-width="0.9" fill="none" stroke-linejoin="round" stroke-linecap="round" /><path d="M288.60,465.90 C289.37,465.43 291.67,463.97 293.20,463.10 C294.73,462.23 296.42,461.47 297.80,460.70 C299.18,459.93 300.42,459.23 301.50,458.50 C302.58,457.77 303.83,456.67 304.30,456.30" stroke="#222226" stroke-width="4.0" fill="none" stroke-linejoin="round" stroke-linecap="round" /><path d="M288.60,465.90 C289.37,465.43 291.67,463.97 293.20,463.10 C294.73,462.23 296.42,461.47 297.80,460.70 C299.18,459.93 300.42,459.23 301.50,458.50 C302.58,457.77 303.83,456.67 304.30,456.30" stroke="#4c4c54" stroke-width="2.8" fill="none" stroke-linejoin="round" stroke-linecap="round" /><path d="M288.00,465.20 C288.77,464.73 291.07,463.27 292.60,462.40 C294.13,461.53 295.82,460.77 297.20,460.00 C298.58,459.23 299.82,458.53 300.90,457.80 C301.98,457.07 303.23,455.97 303.70,455.60" stroke="#c4c4ca" stroke-width="0.8" fill="none" stroke-linejoin="round" stroke-linecap="round" /><path d="M297.90,469.60 L301.60,467.70" stroke="#8a181c" stroke-width="4.6" fill="none" stroke-linejoin="round" stroke-linecap="round" /><path d="M297.90,469.60 L301.60,467.70" stroke="#dc383d" stroke-width="3.3999999999999995" fill="none" stroke-linejoin="round" stroke-linecap="round" /><path d="M297.30,468.90 L301.00,467.00" stroke="#f7a0a2" stroke-width="0.9" fill="none" stroke-linejoin="round" stroke-linecap="round" /><path d="M304.40,464.90 L308.10,464.00" stroke="#8a181c" stroke-width="4.6" fill="none" stroke-linejoin="round" stroke-linecap="round" /><path d="M304.40,464.90 L308.10,464.00" stroke="#dc383d" stroke-width="3.3999999999999995" fill="none" stroke-linejoin="round" stroke-linecap="round" /><path d="M303.80,464.20 L307.50,463.30" stroke="#f7a0a2" stroke-width="0.9" fill="none" stroke-linejoin="round" stroke-linecap="round" /><path d="M300.60,471.90 C301.37,471.52 303.82,470.35 305.20,469.60 C306.58,468.85 307.67,468.27 308.90,467.40 C310.13,466.53 311.98,464.90 312.60,464.40" stroke="#222226" stroke-width="4.0" fill="none" stroke-linejoin="round" stroke-linecap="round" /><path d="M300.60,471.90 C301.37,471.52 303.82,470.35 305.20,469.60 C306.58,468.85 307.67,468.27 308.90,467.40 C310.13,466.53 311.98,464.90 312.60,464.40" stroke="#4c4c54" stroke-width="2.8" fill="none" stroke-linejoin="round" stroke-linecap="round" /><path d="M300.00,471.20 C300.77,470.82 303.22,469.65 304.60,468.90 C305.98,468.15 307.07,467.57 308.30,466.70 C309.53,465.83 311.38,464.20 312.00,463.70" stroke="#c4c4ca" stroke-width="0.8" fill="none" stroke-linejoin="round" stroke-linecap="round" /><path d="M310.00,477.00 L314.60,474.20" stroke="#8a181c" stroke-width="4.6" fill="none" stroke-linejoin="round" stroke-linecap="round" /><path d="M310.00,477.00 L314.60,474.20" stroke="#dc383d" stroke-width="3.3999999999999995" fill="none" stroke-linejoin="round" stroke-linecap="round" /><path d="M309.40,476.30 L314.00,473.50" stroke="#f7a0a2" stroke-width="0.9" fill="none" stroke-linejoin="round" stroke-linecap="round" /><path d="M321.10,464.90 L324.80,462.70" stroke="#8a181c" stroke-width="4.6" fill="none" stroke-linejoin="round" stroke-linecap="round" /><path d="M321.10,464.90 L324.80,462.70" stroke="#dc383d" stroke-width="3.3999999999999995" fill="none" stroke-linejoin="round" stroke-linecap="round" /><path d="M320.50,464.20 L324.20,462.00" stroke="#f7a0a2" stroke-width="0.9" fill="none" stroke-linejoin="round" stroke-linecap="round" /><path d="M312.60,479.30 C313.38,478.62 315.75,476.82 317.30,475.20 C318.85,473.58 320.22,471.30 321.90,469.60 C323.58,467.90 325.55,466.23 327.40,465.00 C329.25,463.77 331.45,463.28 333.00,462.20 C334.55,461.12 335.47,460.35 336.70,458.50 C337.93,456.65 339.78,452.33 340.40,451.10" stroke="#222226" stroke-width="4.0" fill="none" stroke-linejoin="round" stroke-linecap="round" /><path d="M312.60,479.30 C313.38,478.62 315.75,476.82 317.30,475.20 C318.85,473.58 320.22,471.30 321.90,469.60 C323.58,467.90 325.55,466.23 327.40,465.00 C329.25,463.77 331.45,463.28 333.00,462.20 C334.55,461.12 335.47,460.35 336.70,458.50 C337.93,456.65 339.78,452.33 340.40,451.10" stroke="#4c4c54" stroke-width="2.8" fill="none" stroke-linejoin="round" stroke-linecap="round" /><path d="M312.00,478.60 C312.78,477.92 315.15,476.12 316.70,474.50 C318.25,472.88 319.62,470.60 321.30,468.90 C322.98,467.20 324.95,465.53 326.80,464.30 C328.65,463.07 330.85,462.58 332.40,461.50 C333.95,460.42 334.87,459.65 336.10,457.80 C337.33,455.95 339.18,451.63 339.80,450.40" stroke="#c4c4ca" stroke-width="0.8" fill="none" stroke-linejoin="round" stroke-linecap="round" /><path d="M322.00,483.40 L326.60,481.20" stroke="#8a181c" stroke-width="4.6" fill="none" stroke-linejoin="round" stroke-linecap="round" /><path d="M322.00,483.40 L326.60,481.20" stroke="#dc383d" stroke-width="3.3999999999999995" fill="none" stroke-linejoin="round" stroke-linecap="round" /><path d="M321.40,482.70 L326.00,480.50" stroke="#f7a0a2" stroke-width="0.9" fill="none" stroke-linejoin="round" stroke-linecap="round" /><path d="M338.70,464.00 L343.30,462.10" stroke="#8a181c" stroke-width="4.6" fill="none" stroke-linejoin="round" stroke-linecap="round" /><path d="M338.70,464.00 L343.30,462.10" stroke="#dc383d" stroke-width="3.3999999999999995" fill="none" stroke-linejoin="round" stroke-linecap="round" /><path d="M338.10,463.30 L342.70,461.40" stroke="#f7a0a2" stroke-width="0.9" fill="none" stroke-linejoin="round" stroke-linecap="round" /><path d="M324.70,485.90 C325.47,485.42 327.77,484.48 329.30,483.00 C330.83,481.52 332.35,479.23 333.90,477.00 C335.45,474.77 336.90,471.45 338.60,469.60 C340.30,467.75 341.95,466.98 344.10,465.90 C346.25,464.82 349.33,464.33 351.50,463.10 C353.67,461.87 355.25,460.80 357.10,458.50 C358.95,456.20 361.68,450.83 362.60,449.30" stroke="#222226" stroke-width="4.0" fill="none" stroke-linejoin="round" stroke-linecap="round" /><path d="M324.70,485.90 C325.47,485.42 327.77,484.48 329.30,483.00 C330.83,481.52 332.35,479.23 333.90,477.00 C335.45,474.77 336.90,471.45 338.60,469.60 C340.30,467.75 341.95,466.98 344.10,465.90 C346.25,464.82 349.33,464.33 351.50,463.10 C353.67,461.87 355.25,460.80 357.10,458.50 C358.95,456.20 361.68,450.83 362.60,449.30" stroke="#4c4c54" stroke-width="2.8" fill="none" stroke-linejoin="round" stroke-linecap="round" /><path d="M324.10,485.20 C324.87,484.72 327.17,483.78 328.70,482.30 C330.23,480.82 331.75,478.53 333.30,476.30 C334.85,474.07 336.30,470.75 338.00,468.90 C339.70,467.05 341.35,466.28 343.50,465.20 C345.65,464.12 348.73,463.63 350.90,462.40 C353.07,461.17 354.65,460.10 356.50,457.80 C358.35,455.50 361.08,450.13 362.00,448.60" stroke="#c4c4ca" stroke-width="0.8" fill="none" stroke-linejoin="round" stroke-linecap="round" /></svg>
</body></html>
